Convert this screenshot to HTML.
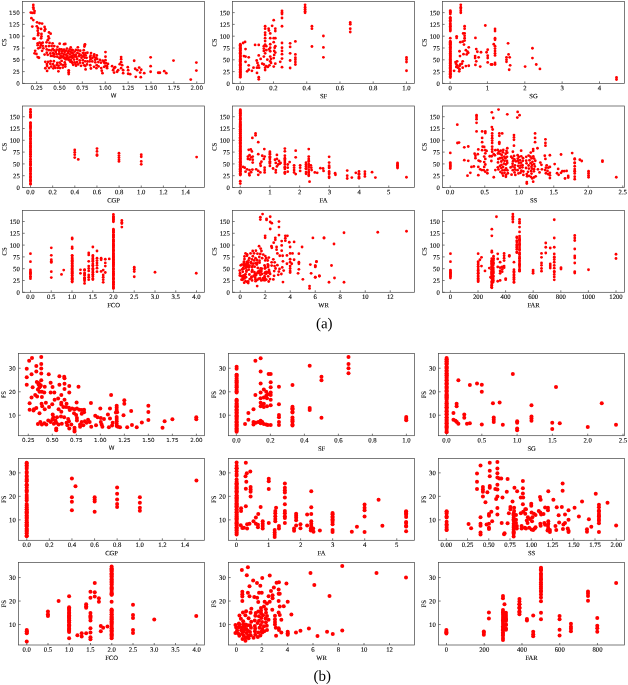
<!DOCTYPE html>
<html><head><meta charset="utf-8"><title>Scatter plots</title>
<style>html,body{margin:0;padding:0;background:#fff}svg{display:block}</style></head>
<body>
<svg width="628" height="685" viewBox="0 0 628 685">
<rect width="628" height="685" fill="#fff"/>
<g fill="#ff0000">
<circle cx="33.30" cy="5.02" r="1.40"/>
<circle cx="33.30" cy="7.28" r="1.40"/>
<circle cx="33.55" cy="9.04" r="1.40"/>
<circle cx="34.55" cy="11.05" r="1.40"/>
<circle cx="30.79" cy="12.55" r="1.40"/>
<circle cx="32.30" cy="12.93" r="1.40"/>
<circle cx="34.30" cy="12.93" r="1.40"/>
<circle cx="31.42" cy="18.20" r="1.40"/>
<circle cx="33.30" cy="20.09" r="1.40"/>
<circle cx="32.30" cy="26.62" r="1.40"/>
<circle cx="37.07" cy="22.35" r="1.40"/>
<circle cx="39.58" cy="23.23" r="1.40"/>
<circle cx="42.09" cy="23.60" r="1.40"/>
<circle cx="36.81" cy="26.37" r="1.40"/>
<circle cx="38.07" cy="28.25" r="1.40"/>
<circle cx="37.69" cy="30.76" r="1.40"/>
<circle cx="38.32" cy="33.27" r="1.40"/>
<circle cx="38.07" cy="35.15" r="1.40"/>
<circle cx="44.60" cy="26.99" r="1.40"/>
<circle cx="45.23" cy="29.13" r="1.40"/>
<circle cx="44.60" cy="30.76" r="1.40"/>
<circle cx="41.08" cy="28.88" r="1.40"/>
<circle cx="41.46" cy="33.90" r="1.40"/>
<circle cx="41.46" cy="36.41" r="1.40"/>
<circle cx="41.08" cy="38.29" r="1.40"/>
<circle cx="48.99" cy="32.39" r="1.40"/>
<circle cx="50.63" cy="33.65" r="1.40"/>
<circle cx="48.37" cy="36.41" r="1.40"/>
<circle cx="48.99" cy="38.29" r="1.40"/>
<circle cx="47.74" cy="40.18" r="1.40"/>
<circle cx="33.55" cy="38.67" r="1.40"/>
<circle cx="34.55" cy="38.67" r="1.40"/>
<circle cx="37.69" cy="43.31" r="1.40"/>
<circle cx="37.69" cy="45.20" r="1.40"/>
<circle cx="39.58" cy="42.69" r="1.40"/>
<circle cx="41.46" cy="43.31" r="1.40"/>
<circle cx="42.72" cy="42.69" r="1.40"/>
<circle cx="40.83" cy="45.20" r="1.40"/>
<circle cx="42.72" cy="45.83" r="1.40"/>
<circle cx="38.32" cy="48.34" r="1.40"/>
<circle cx="40.20" cy="47.46" r="1.40"/>
<circle cx="43.34" cy="48.34" r="1.40"/>
<circle cx="42.09" cy="50.85" r="1.40"/>
<circle cx="44.60" cy="54.61" r="1.40"/>
<circle cx="35.18" cy="50.85" r="1.40"/>
<circle cx="34.55" cy="53.36" r="1.40"/>
<circle cx="36.44" cy="53.99" r="1.40"/>
<circle cx="37.69" cy="57.12" r="1.40"/>
<circle cx="38.95" cy="57.75" r="1.40"/>
<circle cx="59.66" cy="43.69" r="1.40"/>
<circle cx="64.06" cy="44.19" r="1.40"/>
<circle cx="65.31" cy="43.94" r="1.40"/>
<circle cx="70.71" cy="47.46" r="1.40"/>
<circle cx="77.87" cy="47.33" r="1.40"/>
<circle cx="84.77" cy="44.95" r="1.40"/>
<circle cx="48.92" cy="50.14" r="1.40"/>
<circle cx="52.77" cy="48.78" r="1.40"/>
<circle cx="46.73" cy="49.45" r="1.40"/>
<circle cx="50.37" cy="53.51" r="1.40"/>
<circle cx="45.99" cy="46.44" r="1.40"/>
<circle cx="53.24" cy="55.99" r="1.40"/>
<circle cx="46.51" cy="42.28" r="1.40"/>
<circle cx="49.54" cy="42.92" r="1.40"/>
<circle cx="48.96" cy="46.08" r="1.40"/>
<circle cx="51.58" cy="45.95" r="1.40"/>
<circle cx="53.09" cy="53.00" r="1.40"/>
<circle cx="46.78" cy="52.63" r="1.40"/>
<circle cx="47.71" cy="54.83" r="1.40"/>
<circle cx="50.95" cy="55.96" r="1.40"/>
<circle cx="51.23" cy="50.45" r="1.40"/>
<circle cx="52.62" cy="43.32" r="1.40"/>
<circle cx="59.24" cy="54.10" r="1.40"/>
<circle cx="54.20" cy="50.32" r="1.40"/>
<circle cx="57.31" cy="56.74" r="1.40"/>
<circle cx="55.75" cy="51.94" r="1.40"/>
<circle cx="59.31" cy="50.46" r="1.40"/>
<circle cx="57.48" cy="46.82" r="1.40"/>
<circle cx="54.73" cy="56.60" r="1.40"/>
<circle cx="59.54" cy="57.69" r="1.40"/>
<circle cx="54.27" cy="46.03" r="1.40"/>
<circle cx="56.63" cy="54.12" r="1.40"/>
<circle cx="56.77" cy="49.76" r="1.40"/>
<circle cx="54.05" cy="54.22" r="1.40"/>
<circle cx="60.66" cy="55.71" r="1.40"/>
<circle cx="62.34" cy="51.19" r="1.40"/>
<circle cx="66.03" cy="54.64" r="1.40"/>
<circle cx="63.99" cy="54.31" r="1.40"/>
<circle cx="66.02" cy="50.64" r="1.40"/>
<circle cx="61.73" cy="57.45" r="1.40"/>
<circle cx="67.45" cy="55.98" r="1.40"/>
<circle cx="70.26" cy="57.17" r="1.40"/>
<circle cx="70.33" cy="51.70" r="1.40"/>
<circle cx="68.80" cy="60.04" r="1.40"/>
<circle cx="70.01" cy="54.42" r="1.40"/>
<circle cx="64.35" cy="58.23" r="1.40"/>
<circle cx="59.27" cy="51.24" r="1.40"/>
<circle cx="71.80" cy="50.00" r="1.40"/>
<circle cx="61.53" cy="49.36" r="1.40"/>
<circle cx="66.96" cy="48.53" r="1.40"/>
<circle cx="70.81" cy="59.91" r="1.40"/>
<circle cx="59.18" cy="53.47" r="1.40"/>
<circle cx="67.82" cy="53.21" r="1.40"/>
<circle cx="72.22" cy="57.61" r="1.40"/>
<circle cx="67.15" cy="59.00" r="1.40"/>
<circle cx="63.99" cy="49.76" r="1.40"/>
<circle cx="69.71" cy="49.44" r="1.40"/>
<circle cx="72.07" cy="61.97" r="1.40"/>
<circle cx="59.56" cy="49.21" r="1.40"/>
<circle cx="61.81" cy="53.30" r="1.40"/>
<circle cx="64.63" cy="52.06" r="1.40"/>
<circle cx="63.33" cy="56.26" r="1.40"/>
<circle cx="59.72" cy="58.37" r="1.40"/>
<circle cx="68.40" cy="51.17" r="1.40"/>
<circle cx="68.60" cy="57.95" r="1.40"/>
<circle cx="71.90" cy="52.64" r="1.40"/>
<circle cx="66.26" cy="57.35" r="1.40"/>
<circle cx="71.83" cy="55.92" r="1.40"/>
<circle cx="70.36" cy="61.84" r="1.40"/>
<circle cx="65.62" cy="59.39" r="1.40"/>
<circle cx="79.31" cy="53.79" r="1.40"/>
<circle cx="74.60" cy="62.33" r="1.40"/>
<circle cx="73.20" cy="64.79" r="1.40"/>
<circle cx="72.64" cy="52.92" r="1.40"/>
<circle cx="78.09" cy="64.43" r="1.40"/>
<circle cx="80.00" cy="62.70" r="1.40"/>
<circle cx="72.69" cy="50.09" r="1.40"/>
<circle cx="83.23" cy="56.29" r="1.40"/>
<circle cx="82.85" cy="60.17" r="1.40"/>
<circle cx="83.72" cy="50.25" r="1.40"/>
<circle cx="73.63" cy="54.63" r="1.40"/>
<circle cx="74.62" cy="51.56" r="1.40"/>
<circle cx="78.94" cy="56.19" r="1.40"/>
<circle cx="74.10" cy="59.58" r="1.40"/>
<circle cx="78.17" cy="50.29" r="1.40"/>
<circle cx="77.14" cy="59.12" r="1.40"/>
<circle cx="77.03" cy="62.04" r="1.40"/>
<circle cx="75.79" cy="54.74" r="1.40"/>
<circle cx="81.00" cy="65.85" r="1.40"/>
<circle cx="74.55" cy="56.51" r="1.40"/>
<circle cx="82.93" cy="63.05" r="1.40"/>
<circle cx="84.26" cy="65.37" r="1.40"/>
<circle cx="82.88" cy="53.08" r="1.40"/>
<circle cx="80.23" cy="50.74" r="1.40"/>
<circle cx="81.53" cy="57.73" r="1.40"/>
<circle cx="77.42" cy="52.81" r="1.40"/>
<circle cx="72.67" cy="57.67" r="1.40"/>
<circle cx="76.00" cy="65.71" r="1.40"/>
<circle cx="76.45" cy="56.98" r="1.40"/>
<circle cx="79.73" cy="60.37" r="1.40"/>
<circle cx="81.15" cy="55.33" r="1.40"/>
<circle cx="72.41" cy="63.04" r="1.40"/>
<circle cx="75.87" cy="49.89" r="1.40"/>
<circle cx="84.66" cy="57.72" r="1.40"/>
<circle cx="84.22" cy="54.80" r="1.40"/>
<circle cx="75.52" cy="64.05" r="1.40"/>
<circle cx="50.28" cy="63.85" r="1.40"/>
<circle cx="61.64" cy="60.92" r="1.40"/>
<circle cx="56.70" cy="64.93" r="1.40"/>
<circle cx="60.03" cy="68.03" r="1.40"/>
<circle cx="59.61" cy="62.58" r="1.40"/>
<circle cx="47.08" cy="66.12" r="1.40"/>
<circle cx="53.86" cy="61.27" r="1.40"/>
<circle cx="62.82" cy="67.53" r="1.40"/>
<circle cx="53.30" cy="68.31" r="1.40"/>
<circle cx="64.74" cy="62.46" r="1.40"/>
<circle cx="45.31" cy="61.84" r="1.40"/>
<circle cx="48.06" cy="61.90" r="1.40"/>
<circle cx="55.34" cy="67.76" r="1.40"/>
<circle cx="61.06" cy="64.46" r="1.40"/>
<circle cx="65.30" cy="66.59" r="1.40"/>
<circle cx="46.89" cy="64.04" r="1.40"/>
<circle cx="63.19" cy="65.06" r="1.40"/>
<circle cx="58.61" cy="65.66" r="1.40"/>
<circle cx="50.60" cy="61.24" r="1.40"/>
<circle cx="51.22" cy="66.61" r="1.40"/>
<circle cx="57.29" cy="62.83" r="1.40"/>
<circle cx="57.73" cy="67.94" r="1.40"/>
<circle cx="52.94" cy="64.15" r="1.40"/>
<circle cx="49.06" cy="68.08" r="1.40"/>
<circle cx="65.32" cy="64.51" r="1.40"/>
<circle cx="45.35" cy="68.25" r="1.40"/>
<circle cx="54.27" cy="66.04" r="1.40"/>
<circle cx="47.11" cy="70.94" r="1.40"/>
<circle cx="58.41" cy="71.31" r="1.40"/>
<circle cx="68.70" cy="70.31" r="1.40"/>
<circle cx="68.70" cy="72.19" r="1.40"/>
<circle cx="68.70" cy="74.07" r="1.40"/>
<circle cx="90.92" cy="68.50" r="1.40"/>
<circle cx="95.13" cy="59.75" r="1.40"/>
<circle cx="98.34" cy="62.07" r="1.40"/>
<circle cx="106.94" cy="66.26" r="1.40"/>
<circle cx="85.37" cy="53.11" r="1.40"/>
<circle cx="85.69" cy="55.46" r="1.40"/>
<circle cx="96.44" cy="68.19" r="1.40"/>
<circle cx="92.29" cy="61.46" r="1.40"/>
<circle cx="104.74" cy="63.36" r="1.40"/>
<circle cx="90.55" cy="59.20" r="1.40"/>
<circle cx="89.64" cy="61.47" r="1.40"/>
<circle cx="90.59" cy="55.67" r="1.40"/>
<circle cx="96.68" cy="65.21" r="1.40"/>
<circle cx="90.26" cy="65.23" r="1.40"/>
<circle cx="98.54" cy="66.41" r="1.40"/>
<circle cx="96.78" cy="55.49" r="1.40"/>
<circle cx="86.98" cy="64.40" r="1.40"/>
<circle cx="87.39" cy="52.77" r="1.40"/>
<circle cx="102.72" cy="60.61" r="1.40"/>
<circle cx="107.97" cy="63.96" r="1.40"/>
<circle cx="95.28" cy="62.36" r="1.40"/>
<circle cx="101.23" cy="68.08" r="1.40"/>
<circle cx="94.23" cy="54.47" r="1.40"/>
<circle cx="97.13" cy="58.90" r="1.40"/>
<circle cx="94.04" cy="66.83" r="1.40"/>
<circle cx="85.17" cy="61.28" r="1.40"/>
<circle cx="94.32" cy="56.83" r="1.40"/>
<circle cx="87.44" cy="61.48" r="1.40"/>
<circle cx="85.59" cy="69.40" r="1.40"/>
<circle cx="85.31" cy="66.09" r="1.40"/>
<circle cx="99.91" cy="59.94" r="1.40"/>
<circle cx="104.12" cy="66.82" r="1.40"/>
<circle cx="100.94" cy="62.63" r="1.40"/>
<circle cx="92.37" cy="58.08" r="1.40"/>
<circle cx="101.75" cy="70.63" r="1.40"/>
<circle cx="86.59" cy="57.79" r="1.40"/>
<circle cx="85.02" cy="44.48" r="1.40"/>
<circle cx="84.41" cy="46.48" r="1.40"/>
<circle cx="105.48" cy="52.10" r="1.40"/>
<circle cx="105.48" cy="56.72" r="1.40"/>
<circle cx="105.48" cy="60.13" r="1.40"/>
<circle cx="104.08" cy="62.13" r="1.40"/>
<circle cx="106.08" cy="63.14" r="1.40"/>
<circle cx="105.48" cy="66.15" r="1.40"/>
<circle cx="107.09" cy="68.15" r="1.40"/>
<circle cx="102.47" cy="73.17" r="1.40"/>
<circle cx="91.04" cy="53.11" r="1.40"/>
<circle cx="93.64" cy="56.12" r="1.40"/>
<circle cx="96.05" cy="58.12" r="1.40"/>
<circle cx="90.03" cy="57.12" r="1.40"/>
<circle cx="121.13" cy="57.12" r="1.40"/>
<circle cx="121.13" cy="59.13" r="1.40"/>
<circle cx="121.13" cy="62.13" r="1.40"/>
<circle cx="119.73" cy="64.14" r="1.40"/>
<circle cx="122.13" cy="65.14" r="1.40"/>
<circle cx="121.13" cy="68.15" r="1.40"/>
<circle cx="123.14" cy="70.16" r="1.40"/>
<circle cx="123.14" cy="73.17" r="1.40"/>
<circle cx="112.10" cy="66.15" r="1.40"/>
<circle cx="114.11" cy="68.15" r="1.40"/>
<circle cx="115.11" cy="67.15" r="1.40"/>
<circle cx="113.11" cy="70.16" r="1.40"/>
<circle cx="114.11" cy="72.57" r="1.40"/>
<circle cx="117.12" cy="71.77" r="1.40"/>
<circle cx="118.12" cy="70.16" r="1.40"/>
<circle cx="127.75" cy="67.15" r="1.40"/>
<circle cx="128.15" cy="70.16" r="1.40"/>
<circle cx="128.15" cy="73.77" r="1.40"/>
<circle cx="130.16" cy="74.17" r="1.40"/>
<circle cx="134.17" cy="60.73" r="1.40"/>
<circle cx="135.18" cy="68.76" r="1.40"/>
<circle cx="137.18" cy="70.16" r="1.40"/>
<circle cx="139.19" cy="67.55" r="1.40"/>
<circle cx="140.19" cy="72.57" r="1.40"/>
<circle cx="141.20" cy="69.76" r="1.40"/>
<circle cx="144.21" cy="73.17" r="1.40"/>
<circle cx="135.78" cy="76.78" r="1.40"/>
<circle cx="140.79" cy="77.18" r="1.40"/>
<circle cx="150.63" cy="57.32" r="1.40"/>
<circle cx="150.63" cy="66.15" r="1.40"/>
<circle cx="150.63" cy="71.77" r="1.40"/>
<circle cx="158.25" cy="72.77" r="1.40"/>
<circle cx="159.86" cy="72.77" r="1.40"/>
<circle cx="164.27" cy="71.16" r="1.40"/>
<circle cx="166.28" cy="73.17" r="1.40"/>
<circle cx="173.50" cy="60.53" r="1.40"/>
<circle cx="196.37" cy="62.54" r="1.40"/>
<circle cx="196.37" cy="70.56" r="1.40"/>
<circle cx="190.75" cy="79.59" r="1.40"/>
</g>
<path d="M36.62 83.40v-2.0M59.50 83.40v-2.0M82.38 83.40v-2.0M105.25 83.40v-2.0M128.12 83.40v-2.0M151.00 83.40v-2.0M173.88 83.40v-2.0M196.75 83.40v-2.0M22.60 83.40h2.1M22.60 71.60h2.1M22.60 59.80h2.1M22.60 48.00h2.1M22.60 36.20h2.1M22.60 24.40h2.1M22.60 12.60h2.1" stroke="#444" stroke-width="0.7" fill="none"/>
<rect x="22.60" y="1.60" width="182.00" height="81.80" fill="none" stroke="#444" stroke-width="0.7"/>
<g font-family="DejaVu Sans, Liberation Sans, sans-serif" font-size="5.60" fill="#000" stroke="#000" stroke-width="0.06">
<text x="36.62" y="89.76" transform="rotate(0.05 36.62 89.76)" text-anchor="middle">0.25</text>
<text x="59.50" y="89.76" transform="rotate(0.05 59.50 89.76)" text-anchor="middle">0.50</text>
<text x="82.38" y="89.76" transform="rotate(0.05 82.38 89.76)" text-anchor="middle">0.75</text>
<text x="105.25" y="89.76" transform="rotate(0.05 105.25 89.76)" text-anchor="middle">1.00</text>
<text x="128.12" y="89.76" transform="rotate(0.05 128.12 89.76)" text-anchor="middle">1.25</text>
<text x="151.00" y="89.76" transform="rotate(0.05 151.00 89.76)" text-anchor="middle">1.50</text>
<text x="173.88" y="89.76" transform="rotate(0.05 173.88 89.76)" text-anchor="middle">1.75</text>
<text x="196.75" y="89.76" transform="rotate(0.05 196.75 89.76)" text-anchor="middle">2.00</text>
<text x="19.80" y="85.56" transform="rotate(0.05 19.80 85.56)" text-anchor="end">0</text>
<text x="19.80" y="73.76" transform="rotate(0.05 19.80 73.76)" text-anchor="end">25</text>
<text x="19.80" y="61.96" transform="rotate(0.05 19.80 61.96)" text-anchor="end">50</text>
<text x="19.80" y="50.16" transform="rotate(0.05 19.80 50.16)" text-anchor="end">75</text>
<text x="19.80" y="38.36" transform="rotate(0.05 19.80 38.36)" text-anchor="end">100</text>
<text x="19.80" y="26.56" transform="rotate(0.05 19.80 26.56)" text-anchor="end">125</text>
<text x="19.80" y="14.76" transform="rotate(0.05 19.80 14.76)" text-anchor="end">150</text>
</g>
<g font-family="DejaVu Sans, Liberation Sans, sans-serif" font-size="5.80" fill="#000" stroke="#000" stroke-width="0.06">
<text x="113.60" y="97.43" transform="rotate(0.05 113.60 97.43)" text-anchor="middle">W</text>
<text transform="translate(4.30 42.50) rotate(-89.95)" text-anchor="middle" y="2.03">CS</text>
</g>
<g fill="#ff0000">
<circle cx="240.28" cy="44.17" r="1.40"/>
<circle cx="240.28" cy="45.14" r="1.40"/>
<circle cx="240.28" cy="45.41" r="1.40"/>
<circle cx="240.28" cy="46.43" r="1.40"/>
<circle cx="240.28" cy="47.58" r="1.40"/>
<circle cx="240.28" cy="48.28" r="1.40"/>
<circle cx="240.28" cy="48.75" r="1.40"/>
<circle cx="240.28" cy="49.57" r="1.40"/>
<circle cx="240.28" cy="50.30" r="1.40"/>
<circle cx="240.28" cy="51.12" r="1.40"/>
<circle cx="240.28" cy="52.14" r="1.40"/>
<circle cx="240.28" cy="53.35" r="1.40"/>
<circle cx="240.28" cy="53.53" r="1.40"/>
<circle cx="240.28" cy="54.70" r="1.40"/>
<circle cx="240.28" cy="55.89" r="1.40"/>
<circle cx="240.28" cy="55.99" r="1.40"/>
<circle cx="240.28" cy="56.82" r="1.40"/>
<circle cx="240.28" cy="58.02" r="1.40"/>
<circle cx="240.28" cy="58.89" r="1.40"/>
<circle cx="240.28" cy="59.27" r="1.40"/>
<circle cx="240.28" cy="60.26" r="1.40"/>
<circle cx="240.28" cy="61.23" r="1.40"/>
<circle cx="240.28" cy="61.87" r="1.40"/>
<circle cx="240.28" cy="62.95" r="1.40"/>
<circle cx="240.28" cy="63.96" r="1.40"/>
<circle cx="240.28" cy="64.27" r="1.40"/>
<circle cx="240.28" cy="65.34" r="1.40"/>
<circle cx="240.28" cy="65.69" r="1.40"/>
<circle cx="240.28" cy="66.69" r="1.40"/>
<circle cx="240.28" cy="67.86" r="1.40"/>
<circle cx="240.28" cy="68.04" r="1.40"/>
<circle cx="240.28" cy="69.17" r="1.40"/>
<circle cx="240.28" cy="69.81" r="1.40"/>
<circle cx="240.28" cy="70.75" r="1.40"/>
<circle cx="240.28" cy="71.33" r="1.40"/>
<circle cx="240.28" cy="72.20" r="1.40"/>
<circle cx="240.28" cy="72.89" r="1.40"/>
<circle cx="240.28" cy="73.95" r="1.40"/>
<circle cx="240.28" cy="74.52" r="1.40"/>
<circle cx="240.28" cy="75.45" r="1.40"/>
<circle cx="240.28" cy="76.48" r="1.40"/>
<circle cx="240.28" cy="77.29" r="1.40"/>
<circle cx="243.15" cy="42.99" r="1.40"/>
<circle cx="245.06" cy="41.88" r="1.40"/>
<circle cx="245.54" cy="49.04" r="1.40"/>
<circle cx="243.94" cy="56.05" r="1.40"/>
<circle cx="245.54" cy="56.53" r="1.40"/>
<circle cx="248.72" cy="57.32" r="1.40"/>
<circle cx="245.54" cy="61.78" r="1.40"/>
<circle cx="248.72" cy="65.29" r="1.40"/>
<circle cx="248.72" cy="69.75" r="1.40"/>
<circle cx="247.13" cy="71.34" r="1.40"/>
<circle cx="251.90" cy="70.86" r="1.40"/>
<circle cx="253.50" cy="67.68" r="1.40"/>
<circle cx="255.09" cy="44.90" r="1.40"/>
<circle cx="258.75" cy="44.90" r="1.40"/>
<circle cx="258.75" cy="55.41" r="1.40"/>
<circle cx="256.68" cy="60.51" r="1.40"/>
<circle cx="257.48" cy="62.90" r="1.40"/>
<circle cx="260.66" cy="58.92" r="1.40"/>
<circle cx="258.27" cy="65.29" r="1.40"/>
<circle cx="257.00" cy="67.68" r="1.40"/>
<circle cx="259.07" cy="67.68" r="1.40"/>
<circle cx="257.00" cy="72.93" r="1.40"/>
<circle cx="258.75" cy="77.23" r="1.40"/>
<circle cx="258.75" cy="79.30" r="1.40"/>
<circle cx="265.12" cy="26.27" r="1.40"/>
<circle cx="265.12" cy="28.66" r="1.40"/>
<circle cx="265.12" cy="32.64" r="1.40"/>
<circle cx="265.12" cy="35.03" r="1.40"/>
<circle cx="265.12" cy="38.22" r="1.40"/>
<circle cx="265.12" cy="41.08" r="1.40"/>
<circle cx="265.12" cy="44.59" r="1.40"/>
<circle cx="263.85" cy="46.18" r="1.40"/>
<circle cx="266.24" cy="46.18" r="1.40"/>
<circle cx="263.85" cy="48.57" r="1.40"/>
<circle cx="263.85" cy="50.96" r="1.40"/>
<circle cx="266.24" cy="50.16" r="1.40"/>
<circle cx="265.12" cy="53.34" r="1.40"/>
<circle cx="263.85" cy="56.53" r="1.40"/>
<circle cx="262.25" cy="63.69" r="1.40"/>
<circle cx="263.85" cy="64.49" r="1.40"/>
<circle cx="265.12" cy="67.68" r="1.40"/>
<circle cx="265.12" cy="70.06" r="1.40"/>
<circle cx="266.24" cy="66.08" r="1.40"/>
<circle cx="268.62" cy="28.66" r="1.40"/>
<circle cx="268.94" cy="30.57" r="1.40"/>
<circle cx="270.22" cy="33.44" r="1.40"/>
<circle cx="270.22" cy="38.22" r="1.40"/>
<circle cx="270.22" cy="44.27" r="1.40"/>
<circle cx="270.22" cy="47.77" r="1.40"/>
<circle cx="268.94" cy="49.36" r="1.40"/>
<circle cx="270.22" cy="51.27" r="1.40"/>
<circle cx="270.22" cy="56.53" r="1.40"/>
<circle cx="267.35" cy="59.71" r="1.40"/>
<circle cx="270.22" cy="61.31" r="1.40"/>
<circle cx="271.01" cy="62.90" r="1.40"/>
<circle cx="269.42" cy="65.29" r="1.40"/>
<circle cx="267.83" cy="66.88" r="1.40"/>
<circle cx="273.72" cy="20.22" r="1.40"/>
<circle cx="272.13" cy="25.80" r="1.40"/>
<circle cx="275.31" cy="28.66" r="1.40"/>
<circle cx="275.31" cy="31.05" r="1.40"/>
<circle cx="273.72" cy="38.22" r="1.40"/>
<circle cx="275.31" cy="38.22" r="1.40"/>
<circle cx="273.72" cy="42.20" r="1.40"/>
<circle cx="275.31" cy="46.18" r="1.40"/>
<circle cx="274.68" cy="47.77" r="1.40"/>
<circle cx="274.20" cy="50.96" r="1.40"/>
<circle cx="275.31" cy="52.55" r="1.40"/>
<circle cx="274.20" cy="54.94" r="1.40"/>
<circle cx="273.72" cy="58.12" r="1.40"/>
<circle cx="275.31" cy="63.69" r="1.40"/>
<circle cx="273.72" cy="66.56" r="1.40"/>
<circle cx="271.01" cy="58.92" r="1.40"/>
<circle cx="282.00" cy="10.83" r="1.40"/>
<circle cx="282.00" cy="12.42" r="1.40"/>
<circle cx="282.00" cy="14.01" r="1.40"/>
<circle cx="282.00" cy="17.99" r="1.40"/>
<circle cx="282.00" cy="26.27" r="1.40"/>
<circle cx="282.00" cy="42.99" r="1.40"/>
<circle cx="282.00" cy="47.77" r="1.40"/>
<circle cx="282.00" cy="50.96" r="1.40"/>
<circle cx="282.00" cy="54.14" r="1.40"/>
<circle cx="282.00" cy="58.60" r="1.40"/>
<circle cx="280.25" cy="61.78" r="1.40"/>
<circle cx="282.00" cy="67.20" r="1.40"/>
<circle cx="290.12" cy="43.31" r="1.40"/>
<circle cx="290.12" cy="46.97" r="1.40"/>
<circle cx="290.12" cy="53.34" r="1.40"/>
<circle cx="290.12" cy="60.51" r="1.40"/>
<circle cx="290.12" cy="67.99" r="1.40"/>
<circle cx="295.38" cy="41.40" r="1.40"/>
<circle cx="295.38" cy="54.46" r="1.40"/>
<circle cx="295.38" cy="57.64" r="1.40"/>
<circle cx="295.38" cy="59.71" r="1.40"/>
<circle cx="295.38" cy="62.10" r="1.40"/>
<circle cx="295.38" cy="64.49" r="1.40"/>
<circle cx="305.09" cy="4.78" r="1.40"/>
<circle cx="305.09" cy="7.17" r="1.40"/>
<circle cx="305.09" cy="9.24" r="1.40"/>
<circle cx="305.09" cy="11.15" r="1.40"/>
<circle cx="305.09" cy="12.74" r="1.40"/>
<circle cx="311.94" cy="26.27" r="1.40"/>
<circle cx="311.94" cy="28.66" r="1.40"/>
<circle cx="311.94" cy="46.50" r="1.40"/>
<circle cx="323.40" cy="35.99" r="1.40"/>
<circle cx="323.40" cy="47.45" r="1.40"/>
<circle cx="323.40" cy="57.32" r="1.40"/>
<circle cx="350.25" cy="22.50" r="1.40"/>
<circle cx="350.25" cy="24.25" r="1.40"/>
<circle cx="350.25" cy="28.75" r="1.40"/>
<circle cx="350.25" cy="32.00" r="1.40"/>
<circle cx="406.50" cy="57.50" r="1.40"/>
<circle cx="406.50" cy="59.50" r="1.40"/>
<circle cx="406.50" cy="62.00" r="1.40"/>
<circle cx="406.50" cy="70.75" r="1.40"/>
</g>
<path d="M240.25 83.40v-2.0M273.49 83.40v-2.0M306.73 83.40v-2.0M339.97 83.40v-2.0M373.21 83.40v-2.0M406.45 83.40v-2.0M232.60 83.40h2.1M232.60 71.60h2.1M232.60 59.80h2.1M232.60 48.00h2.1M232.60 36.20h2.1M232.60 24.40h2.1M232.60 12.60h2.1" stroke="#444" stroke-width="0.7" fill="none"/>
<rect x="232.60" y="1.60" width="182.00" height="81.80" fill="none" stroke="#444" stroke-width="0.7"/>
<g font-family="Liberation Serif, serif" font-size="6.70" fill="#000" stroke="#000" stroke-width="0.1">
<text x="240.25" y="90.15" transform="rotate(0.05 240.25 90.15)" text-anchor="middle">0.0</text>
<text x="273.49" y="90.15" transform="rotate(0.05 273.49 90.15)" text-anchor="middle">0.2</text>
<text x="306.73" y="90.15" transform="rotate(0.05 306.73 90.15)" text-anchor="middle">0.4</text>
<text x="339.97" y="90.15" transform="rotate(0.05 339.97 90.15)" text-anchor="middle">0.6</text>
<text x="373.21" y="90.15" transform="rotate(0.05 373.21 90.15)" text-anchor="middle">0.8</text>
<text x="406.45" y="90.15" transform="rotate(0.05 406.45 90.15)" text-anchor="middle">1.0</text>
<text x="229.80" y="85.95" transform="rotate(0.05 229.80 85.95)" text-anchor="end">0</text>
<text x="229.80" y="74.15" transform="rotate(0.05 229.80 74.15)" text-anchor="end">25</text>
<text x="229.80" y="62.35" transform="rotate(0.05 229.80 62.35)" text-anchor="end">50</text>
<text x="229.80" y="50.55" transform="rotate(0.05 229.80 50.55)" text-anchor="end">75</text>
<text x="229.80" y="38.75" transform="rotate(0.05 229.80 38.75)" text-anchor="end">100</text>
<text x="229.80" y="26.95" transform="rotate(0.05 229.80 26.95)" text-anchor="end">125</text>
<text x="229.80" y="15.15" transform="rotate(0.05 229.80 15.15)" text-anchor="end">150</text>
</g>
<g font-family="Liberation Serif, serif" font-size="6.60" fill="#000" stroke="#000" stroke-width="0.1">
<text x="323.60" y="98.36" transform="rotate(0.05 323.60 98.36)" text-anchor="middle">SF</text>
<text transform="translate(214.30 42.50) rotate(-89.95)" text-anchor="middle" y="2.31">CS</text>
</g>
<g fill="#ff0000">
<circle cx="450.28" cy="10.56" r="1.40"/>
<circle cx="450.28" cy="11.69" r="1.40"/>
<circle cx="450.28" cy="12.09" r="1.40"/>
<circle cx="450.28" cy="12.86" r="1.40"/>
<circle cx="450.28" cy="14.12" r="1.40"/>
<circle cx="450.28" cy="17.34" r="1.40"/>
<circle cx="450.28" cy="18.23" r="1.40"/>
<circle cx="450.28" cy="20.02" r="1.40"/>
<circle cx="450.28" cy="20.23" r="1.40"/>
<circle cx="450.28" cy="21.55" r="1.40"/>
<circle cx="450.28" cy="23.48" r="1.40"/>
<circle cx="450.28" cy="24.66" r="1.40"/>
<circle cx="450.28" cy="25.97" r="1.40"/>
<circle cx="450.28" cy="26.33" r="1.40"/>
<circle cx="450.28" cy="27.76" r="1.40"/>
<circle cx="450.28" cy="29.01" r="1.40"/>
<circle cx="450.28" cy="29.94" r="1.40"/>
<circle cx="450.28" cy="31.05" r="1.40"/>
<circle cx="450.28" cy="38.22" r="1.40"/>
<circle cx="450.28" cy="41.27" r="1.40"/>
<circle cx="450.28" cy="42.21" r="1.40"/>
<circle cx="450.28" cy="42.67" r="1.40"/>
<circle cx="450.28" cy="43.13" r="1.40"/>
<circle cx="450.28" cy="44.19" r="1.40"/>
<circle cx="450.28" cy="44.80" r="1.40"/>
<circle cx="450.28" cy="45.65" r="1.40"/>
<circle cx="450.28" cy="46.74" r="1.40"/>
<circle cx="450.28" cy="47.16" r="1.40"/>
<circle cx="450.28" cy="48.05" r="1.40"/>
<circle cx="450.28" cy="48.83" r="1.40"/>
<circle cx="450.28" cy="49.54" r="1.40"/>
<circle cx="450.28" cy="51.05" r="1.40"/>
<circle cx="450.28" cy="51.67" r="1.40"/>
<circle cx="450.28" cy="51.93" r="1.40"/>
<circle cx="450.28" cy="53.35" r="1.40"/>
<circle cx="450.28" cy="54.03" r="1.40"/>
<circle cx="450.28" cy="54.65" r="1.40"/>
<circle cx="450.28" cy="55.84" r="1.40"/>
<circle cx="450.28" cy="56.09" r="1.40"/>
<circle cx="450.28" cy="57.04" r="1.40"/>
<circle cx="450.28" cy="57.65" r="1.40"/>
<circle cx="450.28" cy="58.84" r="1.40"/>
<circle cx="450.28" cy="59.33" r="1.40"/>
<circle cx="450.28" cy="60.43" r="1.40"/>
<circle cx="450.28" cy="61.06" r="1.40"/>
<circle cx="450.28" cy="61.85" r="1.40"/>
<circle cx="450.28" cy="62.51" r="1.40"/>
<circle cx="450.28" cy="63.28" r="1.40"/>
<circle cx="450.28" cy="64.05" r="1.40"/>
<circle cx="450.28" cy="65.25" r="1.40"/>
<circle cx="450.28" cy="65.64" r="1.40"/>
<circle cx="450.28" cy="66.69" r="1.40"/>
<circle cx="450.28" cy="67.22" r="1.40"/>
<circle cx="450.28" cy="68.13" r="1.40"/>
<circle cx="450.28" cy="69.05" r="1.40"/>
<circle cx="450.28" cy="69.70" r="1.40"/>
<circle cx="450.28" cy="70.74" r="1.40"/>
<circle cx="450.28" cy="71.26" r="1.40"/>
<circle cx="450.28" cy="72.46" r="1.40"/>
<circle cx="450.28" cy="73.28" r="1.40"/>
<circle cx="450.28" cy="74.21" r="1.40"/>
<circle cx="450.28" cy="74.51" r="1.40"/>
<circle cx="450.28" cy="76.02" r="1.40"/>
<circle cx="450.28" cy="76.30" r="1.40"/>
<circle cx="450.28" cy="77.59" r="1.40"/>
<circle cx="460.79" cy="4.78" r="1.40"/>
<circle cx="460.79" cy="7.17" r="1.40"/>
<circle cx="460.79" cy="8.76" r="1.40"/>
<circle cx="460.79" cy="10.83" r="1.40"/>
<circle cx="460.79" cy="12.74" r="1.40"/>
<circle cx="464.61" cy="26.27" r="1.40"/>
<circle cx="464.61" cy="28.66" r="1.40"/>
<circle cx="463.18" cy="33.44" r="1.40"/>
<circle cx="464.61" cy="33.44" r="1.40"/>
<circle cx="464.61" cy="35.83" r="1.40"/>
<circle cx="464.61" cy="38.22" r="1.40"/>
<circle cx="464.61" cy="40.61" r="1.40"/>
<circle cx="462.70" cy="41.72" r="1.40"/>
<circle cx="460.31" cy="42.20" r="1.40"/>
<circle cx="463.97" cy="44.59" r="1.40"/>
<circle cx="456.65" cy="36.31" r="1.40"/>
<circle cx="456.65" cy="37.90" r="1.40"/>
<circle cx="468.75" cy="47.29" r="1.40"/>
<circle cx="465.89" cy="50.16" r="1.40"/>
<circle cx="467.48" cy="51.75" r="1.40"/>
<circle cx="468.27" cy="52.87" r="1.40"/>
<circle cx="466.68" cy="54.46" r="1.40"/>
<circle cx="463.50" cy="54.14" r="1.40"/>
<circle cx="459.52" cy="51.27" r="1.40"/>
<circle cx="459.99" cy="56.05" r="1.40"/>
<circle cx="455.54" cy="62.10" r="1.40"/>
<circle cx="457.13" cy="61.31" r="1.40"/>
<circle cx="456.01" cy="63.69" r="1.40"/>
<circle cx="457.13" cy="65.29" r="1.40"/>
<circle cx="456.33" cy="66.88" r="1.40"/>
<circle cx="457.92" cy="67.68" r="1.40"/>
<circle cx="459.52" cy="66.08" r="1.40"/>
<circle cx="460.31" cy="64.49" r="1.40"/>
<circle cx="461.90" cy="63.69" r="1.40"/>
<circle cx="462.70" cy="61.31" r="1.40"/>
<circle cx="459.52" cy="69.27" r="1.40"/>
<circle cx="459.20" cy="71.34" r="1.40"/>
<circle cx="454.10" cy="70.86" r="1.40"/>
<circle cx="462.70" cy="67.68" r="1.40"/>
<circle cx="465.89" cy="66.08" r="1.40"/>
<circle cx="468.75" cy="65.76" r="1.40"/>
<circle cx="475.44" cy="37.90" r="1.40"/>
<circle cx="476.24" cy="49.04" r="1.40"/>
<circle cx="477.35" cy="51.75" r="1.40"/>
<circle cx="481.01" cy="52.23" r="1.40"/>
<circle cx="475.12" cy="56.05" r="1.40"/>
<circle cx="475.12" cy="58.12" r="1.40"/>
<circle cx="478.62" cy="57.32" r="1.40"/>
<circle cx="476.24" cy="61.31" r="1.40"/>
<circle cx="475.44" cy="64.97" r="1.40"/>
<circle cx="480.22" cy="66.56" r="1.40"/>
<circle cx="485.31" cy="25.48" r="1.40"/>
<circle cx="487.70" cy="49.68" r="1.40"/>
<circle cx="486.59" cy="52.23" r="1.40"/>
<circle cx="487.70" cy="55.73" r="1.40"/>
<circle cx="487.70" cy="58.12" r="1.40"/>
<circle cx="487.70" cy="62.42" r="1.40"/>
<circle cx="491.04" cy="64.49" r="1.40"/>
<circle cx="492.16" cy="64.49" r="1.40"/>
<circle cx="495.03" cy="28.98" r="1.40"/>
<circle cx="495.03" cy="31.05" r="1.40"/>
<circle cx="495.03" cy="38.22" r="1.40"/>
<circle cx="495.03" cy="39.81" r="1.40"/>
<circle cx="493.75" cy="44.27" r="1.40"/>
<circle cx="495.03" cy="46.18" r="1.40"/>
<circle cx="495.03" cy="48.57" r="1.40"/>
<circle cx="495.03" cy="50.96" r="1.40"/>
<circle cx="495.03" cy="53.34" r="1.40"/>
<circle cx="495.03" cy="55.41" r="1.40"/>
<circle cx="495.03" cy="62.90" r="1.40"/>
<circle cx="495.03" cy="64.49" r="1.40"/>
<circle cx="508.08" cy="43.31" r="1.40"/>
<circle cx="508.56" cy="54.46" r="1.40"/>
<circle cx="506.49" cy="57.32" r="1.40"/>
<circle cx="509.68" cy="57.32" r="1.40"/>
<circle cx="506.49" cy="59.71" r="1.40"/>
<circle cx="506.49" cy="61.78" r="1.40"/>
<circle cx="510.15" cy="65.29" r="1.40"/>
<circle cx="509.20" cy="69.75" r="1.40"/>
<circle cx="525.12" cy="66.56" r="1.40"/>
<circle cx="532.45" cy="48.25" r="1.40"/>
<circle cx="532.45" cy="58.12" r="1.40"/>
<circle cx="536.27" cy="64.49" r="1.40"/>
<circle cx="539.93" cy="68.95" r="1.40"/>
<circle cx="616.50" cy="77.50" r="1.40"/>
<circle cx="616.50" cy="79.50" r="1.40"/>
</g>
<path d="M450.10 83.40v-2.0M487.45 83.40v-2.0M524.80 83.40v-2.0M562.15 83.40v-2.0M599.50 83.40v-2.0M442.55 83.40h2.1M442.55 71.60h2.1M442.55 59.80h2.1M442.55 48.00h2.1M442.55 36.20h2.1M442.55 24.40h2.1M442.55 12.60h2.1" stroke="#444" stroke-width="0.7" fill="none"/>
<rect x="442.55" y="1.60" width="182.05" height="81.80" fill="none" stroke="#444" stroke-width="0.7"/>
<g font-family="Liberation Serif, serif" font-size="6.70" fill="#000" stroke="#000" stroke-width="0.1">
<text x="450.10" y="90.15" transform="rotate(0.05 450.10 90.15)" text-anchor="middle">0</text>
<text x="487.45" y="90.15" transform="rotate(0.05 487.45 90.15)" text-anchor="middle">1</text>
<text x="524.80" y="90.15" transform="rotate(0.05 524.80 90.15)" text-anchor="middle">2</text>
<text x="562.15" y="90.15" transform="rotate(0.05 562.15 90.15)" text-anchor="middle">3</text>
<text x="599.50" y="90.15" transform="rotate(0.05 599.50 90.15)" text-anchor="middle">4</text>
<text x="439.75" y="85.95" transform="rotate(0.05 439.75 85.95)" text-anchor="end">0</text>
<text x="439.75" y="74.15" transform="rotate(0.05 439.75 74.15)" text-anchor="end">25</text>
<text x="439.75" y="62.35" transform="rotate(0.05 439.75 62.35)" text-anchor="end">50</text>
<text x="439.75" y="50.55" transform="rotate(0.05 439.75 50.55)" text-anchor="end">75</text>
<text x="439.75" y="38.75" transform="rotate(0.05 439.75 38.75)" text-anchor="end">100</text>
<text x="439.75" y="26.95" transform="rotate(0.05 439.75 26.95)" text-anchor="end">125</text>
<text x="439.75" y="15.15" transform="rotate(0.05 439.75 15.15)" text-anchor="end">150</text>
</g>
<g font-family="Liberation Serif, serif" font-size="6.60" fill="#000" stroke="#000" stroke-width="0.1">
<text x="533.58" y="98.36" transform="rotate(0.05 533.58 98.36)" text-anchor="middle">SG</text>
<text transform="translate(424.25 42.50) rotate(-89.95)" text-anchor="middle" y="2.31">CS</text>
</g>
<g fill="#ff0000">
<circle cx="30.50" cy="109.42" r="1.40"/>
<circle cx="30.50" cy="111.49" r="1.40"/>
<circle cx="30.50" cy="112.32" r="1.40"/>
<circle cx="30.50" cy="114.28" r="1.40"/>
<circle cx="30.50" cy="115.04" r="1.40"/>
<circle cx="30.50" cy="116.50" r="1.40"/>
<circle cx="30.50" cy="117.47" r="1.40"/>
<circle cx="30.50" cy="122.67" r="1.40"/>
<circle cx="30.50" cy="123.11" r="1.40"/>
<circle cx="30.50" cy="124.77" r="1.40"/>
<circle cx="30.50" cy="125.88" r="1.40"/>
<circle cx="30.50" cy="126.63" r="1.40"/>
<circle cx="30.50" cy="127.79" r="1.40"/>
<circle cx="30.50" cy="128.95" r="1.40"/>
<circle cx="30.50" cy="131.24" r="1.40"/>
<circle cx="30.50" cy="132.47" r="1.40"/>
<circle cx="30.50" cy="133.22" r="1.40"/>
<circle cx="30.50" cy="134.53" r="1.40"/>
<circle cx="30.50" cy="135.62" r="1.40"/>
<circle cx="30.50" cy="136.34" r="1.40"/>
<circle cx="30.50" cy="138.39" r="1.40"/>
<circle cx="30.50" cy="138.77" r="1.40"/>
<circle cx="30.50" cy="140.02" r="1.40"/>
<circle cx="30.50" cy="141.57" r="1.40"/>
<circle cx="30.50" cy="143.17" r="1.40"/>
<circle cx="30.50" cy="143.73" r="1.40"/>
<circle cx="30.50" cy="145.49" r="1.40"/>
<circle cx="30.50" cy="146.45" r="1.40"/>
<circle cx="30.50" cy="147.60" r="1.40"/>
<circle cx="30.50" cy="148.88" r="1.40"/>
<circle cx="30.50" cy="150.03" r="1.40"/>
<circle cx="30.50" cy="151.38" r="1.40"/>
<circle cx="30.50" cy="152.44" r="1.40"/>
<circle cx="30.50" cy="154.13" r="1.40"/>
<circle cx="30.50" cy="154.37" r="1.40"/>
<circle cx="30.50" cy="156.35" r="1.40"/>
<circle cx="30.50" cy="156.73" r="1.40"/>
<circle cx="30.50" cy="159.07" r="1.40"/>
<circle cx="30.50" cy="159.56" r="1.40"/>
<circle cx="30.50" cy="161.48" r="1.40"/>
<circle cx="30.50" cy="161.92" r="1.40"/>
<circle cx="30.50" cy="163.53" r="1.40"/>
<circle cx="30.50" cy="164.29" r="1.40"/>
<circle cx="30.50" cy="165.23" r="1.40"/>
<circle cx="30.50" cy="167.59" r="1.40"/>
<circle cx="30.50" cy="167.96" r="1.40"/>
<circle cx="30.50" cy="169.26" r="1.40"/>
<circle cx="30.50" cy="170.08" r="1.40"/>
<circle cx="30.50" cy="171.49" r="1.40"/>
<circle cx="30.50" cy="173.52" r="1.40"/>
<circle cx="30.50" cy="173.97" r="1.40"/>
<circle cx="30.50" cy="175.99" r="1.40"/>
<circle cx="30.50" cy="177.02" r="1.40"/>
<circle cx="30.50" cy="177.99" r="1.40"/>
<circle cx="30.50" cy="179.66" r="1.40"/>
<circle cx="30.50" cy="180.34" r="1.40"/>
<circle cx="30.50" cy="181.38" r="1.40"/>
<circle cx="30.50" cy="183.31" r="1.40"/>
<circle cx="30.50" cy="184.30" r="1.40"/>
<circle cx="74.74" cy="150.00" r="1.40"/>
<circle cx="74.74" cy="152.34" r="1.40"/>
<circle cx="74.74" cy="154.69" r="1.40"/>
<circle cx="74.74" cy="157.62" r="1.40"/>
<circle cx="78.26" cy="159.38" r="1.40"/>
<circle cx="97.01" cy="148.54" r="1.40"/>
<circle cx="97.01" cy="151.47" r="1.40"/>
<circle cx="97.01" cy="154.69" r="1.40"/>
<circle cx="97.01" cy="155.57" r="1.40"/>
<circle cx="118.98" cy="153.22" r="1.40"/>
<circle cx="118.98" cy="155.57" r="1.40"/>
<circle cx="118.98" cy="157.62" r="1.40"/>
<circle cx="118.98" cy="159.67" r="1.40"/>
<circle cx="118.98" cy="161.43" r="1.40"/>
<circle cx="141.25" cy="154.69" r="1.40"/>
<circle cx="141.25" cy="156.74" r="1.40"/>
<circle cx="141.25" cy="161.43" r="1.40"/>
<circle cx="141.25" cy="164.36" r="1.40"/>
<circle cx="196.63" cy="157.03" r="1.40"/>
</g>
<path d="M30.50 187.50v-2.0M52.65 187.50v-2.0M74.80 187.50v-2.0M96.95 187.50v-2.0M119.10 187.50v-2.0M141.25 187.50v-2.0M163.40 187.50v-2.0M185.55 187.50v-2.0M22.60 187.50h2.1M22.60 175.70h2.1M22.60 163.90h2.1M22.60 152.10h2.1M22.60 140.30h2.1M22.60 128.50h2.1M22.60 116.70h2.1" stroke="#444" stroke-width="0.7" fill="none"/>
<rect x="22.60" y="106.00" width="182.00" height="81.50" fill="none" stroke="#444" stroke-width="0.7"/>
<g font-family="Liberation Serif, serif" font-size="6.70" fill="#000" stroke="#000" stroke-width="0.1">
<text x="30.50" y="194.25" transform="rotate(0.05 30.50 194.25)" text-anchor="middle">0.0</text>
<text x="52.65" y="194.25" transform="rotate(0.05 52.65 194.25)" text-anchor="middle">0.2</text>
<text x="74.80" y="194.25" transform="rotate(0.05 74.80 194.25)" text-anchor="middle">0.4</text>
<text x="96.95" y="194.25" transform="rotate(0.05 96.95 194.25)" text-anchor="middle">0.6</text>
<text x="119.10" y="194.25" transform="rotate(0.05 119.10 194.25)" text-anchor="middle">0.8</text>
<text x="141.25" y="194.25" transform="rotate(0.05 141.25 194.25)" text-anchor="middle">1.0</text>
<text x="163.40" y="194.25" transform="rotate(0.05 163.40 194.25)" text-anchor="middle">1.2</text>
<text x="185.55" y="194.25" transform="rotate(0.05 185.55 194.25)" text-anchor="middle">1.4</text>
<text x="19.80" y="190.04" transform="rotate(0.05 19.80 190.04)" text-anchor="end">0</text>
<text x="19.80" y="178.24" transform="rotate(0.05 19.80 178.24)" text-anchor="end">25</text>
<text x="19.80" y="166.44" transform="rotate(0.05 19.80 166.44)" text-anchor="end">50</text>
<text x="19.80" y="154.64" transform="rotate(0.05 19.80 154.64)" text-anchor="end">75</text>
<text x="19.80" y="142.84" transform="rotate(0.05 19.80 142.84)" text-anchor="end">100</text>
<text x="19.80" y="131.04" transform="rotate(0.05 19.80 131.04)" text-anchor="end">125</text>
<text x="19.80" y="119.25" transform="rotate(0.05 19.80 119.25)" text-anchor="end">150</text>
</g>
<g font-family="Liberation Serif, serif" font-size="6.60" fill="#000" stroke="#000" stroke-width="0.1">
<text x="113.60" y="202.46" transform="rotate(0.05 113.60 202.46)" text-anchor="middle">CGP</text>
<text transform="translate(4.30 146.75) rotate(-89.95)" text-anchor="middle" y="2.31">CS</text>
</g>
<g fill="#ff0000">
<circle cx="240.28" cy="109.67" r="1.40"/>
<circle cx="240.28" cy="110.39" r="1.40"/>
<circle cx="240.28" cy="111.55" r="1.40"/>
<circle cx="240.28" cy="112.38" r="1.40"/>
<circle cx="240.28" cy="113.29" r="1.40"/>
<circle cx="240.28" cy="113.64" r="1.40"/>
<circle cx="240.28" cy="115.01" r="1.40"/>
<circle cx="240.28" cy="115.52" r="1.40"/>
<circle cx="240.28" cy="117.00" r="1.40"/>
<circle cx="240.28" cy="117.88" r="1.40"/>
<circle cx="240.28" cy="118.92" r="1.40"/>
<circle cx="240.28" cy="119.21" r="1.40"/>
<circle cx="240.28" cy="121.05" r="1.40"/>
<circle cx="240.28" cy="121.95" r="1.40"/>
<circle cx="240.28" cy="122.74" r="1.40"/>
<circle cx="240.28" cy="123.58" r="1.40"/>
<circle cx="240.28" cy="124.54" r="1.40"/>
<circle cx="240.28" cy="125.03" r="1.40"/>
<circle cx="240.28" cy="125.44" r="1.40"/>
<circle cx="240.28" cy="126.35" r="1.40"/>
<circle cx="240.28" cy="127.54" r="1.40"/>
<circle cx="240.28" cy="128.01" r="1.40"/>
<circle cx="240.28" cy="129.26" r="1.40"/>
<circle cx="240.28" cy="129.44" r="1.40"/>
<circle cx="240.28" cy="130.51" r="1.40"/>
<circle cx="240.28" cy="131.36" r="1.40"/>
<circle cx="240.28" cy="132.10" r="1.40"/>
<circle cx="240.28" cy="133.24" r="1.40"/>
<circle cx="240.28" cy="133.46" r="1.40"/>
<circle cx="240.28" cy="134.71" r="1.40"/>
<circle cx="240.28" cy="135.56" r="1.40"/>
<circle cx="240.28" cy="135.98" r="1.40"/>
<circle cx="240.28" cy="137.13" r="1.40"/>
<circle cx="240.28" cy="137.57" r="1.40"/>
<circle cx="240.28" cy="138.37" r="1.40"/>
<circle cx="240.28" cy="139.43" r="1.40"/>
<circle cx="240.28" cy="140.14" r="1.40"/>
<circle cx="240.28" cy="140.37" r="1.40"/>
<circle cx="240.28" cy="141.87" r="1.40"/>
<circle cx="240.28" cy="142.30" r="1.40"/>
<circle cx="240.28" cy="143.46" r="1.40"/>
<circle cx="240.28" cy="143.53" r="1.40"/>
<circle cx="240.28" cy="144.71" r="1.40"/>
<circle cx="240.28" cy="145.66" r="1.40"/>
<circle cx="240.28" cy="146.38" r="1.40"/>
<circle cx="240.28" cy="146.68" r="1.40"/>
<circle cx="240.28" cy="147.66" r="1.40"/>
<circle cx="240.28" cy="148.49" r="1.40"/>
<circle cx="240.28" cy="149.46" r="1.40"/>
<circle cx="240.28" cy="150.22" r="1.40"/>
<circle cx="240.28" cy="151.19" r="1.40"/>
<circle cx="240.28" cy="152.03" r="1.40"/>
<circle cx="240.28" cy="152.12" r="1.40"/>
<circle cx="240.28" cy="153.17" r="1.40"/>
<circle cx="240.28" cy="154.09" r="1.40"/>
<circle cx="240.28" cy="154.66" r="1.40"/>
<circle cx="240.28" cy="155.51" r="1.40"/>
<circle cx="240.28" cy="156.57" r="1.40"/>
<circle cx="240.28" cy="157.07" r="1.40"/>
<circle cx="240.28" cy="158.16" r="1.40"/>
<circle cx="240.28" cy="158.44" r="1.40"/>
<circle cx="240.28" cy="159.85" r="1.40"/>
<circle cx="240.28" cy="160.04" r="1.40"/>
<circle cx="240.28" cy="161.20" r="1.40"/>
<circle cx="240.28" cy="162.23" r="1.40"/>
<circle cx="240.28" cy="162.39" r="1.40"/>
<circle cx="240.28" cy="163.68" r="1.40"/>
<circle cx="240.28" cy="164.26" r="1.40"/>
<circle cx="240.28" cy="164.98" r="1.40"/>
<circle cx="240.28" cy="165.46" r="1.40"/>
<circle cx="240.28" cy="166.36" r="1.40"/>
<circle cx="240.28" cy="167.68" r="1.40"/>
<circle cx="240.28" cy="168.26" r="1.40"/>
<circle cx="240.28" cy="169.18" r="1.40"/>
<circle cx="240.28" cy="169.56" r="1.40"/>
<circle cx="240.28" cy="170.57" r="1.40"/>
<circle cx="240.28" cy="171.36" r="1.40"/>
<circle cx="240.28" cy="171.85" r="1.40"/>
<circle cx="240.28" cy="173.13" r="1.40"/>
<circle cx="240.28" cy="173.98" r="1.40"/>
<circle cx="240.28" cy="174.61" r="1.40"/>
<circle cx="240.28" cy="175.09" r="1.40"/>
<circle cx="240.28" cy="181.23" r="1.40"/>
<circle cx="240.28" cy="183.62" r="1.40"/>
<circle cx="255.57" cy="133.46" r="1.40"/>
<circle cx="255.57" cy="135.37" r="1.40"/>
<circle cx="252.38" cy="137.92" r="1.40"/>
<circle cx="258.27" cy="142.22" r="1.40"/>
<circle cx="248.72" cy="149.86" r="1.40"/>
<circle cx="250.79" cy="149.38" r="1.40"/>
<circle cx="251.90" cy="151.45" r="1.40"/>
<circle cx="247.92" cy="156.55" r="1.40"/>
<circle cx="249.52" cy="155.27" r="1.40"/>
<circle cx="251.11" cy="157.34" r="1.40"/>
<circle cx="252.70" cy="156.55" r="1.40"/>
<circle cx="247.92" cy="158.94" r="1.40"/>
<circle cx="249.83" cy="159.41" r="1.40"/>
<circle cx="252.70" cy="159.73" r="1.40"/>
<circle cx="252.70" cy="162.60" r="1.40"/>
<circle cx="258.27" cy="154.16" r="1.40"/>
<circle cx="264.32" cy="149.06" r="1.40"/>
<circle cx="262.25" cy="155.75" r="1.40"/>
<circle cx="264.64" cy="156.55" r="1.40"/>
<circle cx="263.85" cy="158.94" r="1.40"/>
<circle cx="261.46" cy="161.64" r="1.40"/>
<circle cx="260.34" cy="163.71" r="1.40"/>
<circle cx="260.66" cy="165.78" r="1.40"/>
<circle cx="243.15" cy="166.90" r="1.40"/>
<circle cx="244.74" cy="167.69" r="1.40"/>
<circle cx="245.54" cy="171.68" r="1.40"/>
<circle cx="247.13" cy="169.29" r="1.40"/>
<circle cx="249.52" cy="170.08" r="1.40"/>
<circle cx="252.38" cy="169.61" r="1.40"/>
<circle cx="251.11" cy="172.15" r="1.40"/>
<circle cx="249.20" cy="173.75" r="1.40"/>
<circle cx="249.52" cy="175.34" r="1.40"/>
<circle cx="256.20" cy="169.29" r="1.40"/>
<circle cx="258.27" cy="170.88" r="1.40"/>
<circle cx="260.34" cy="172.47" r="1.40"/>
<circle cx="258.27" cy="174.86" r="1.40"/>
<circle cx="264.64" cy="167.69" r="1.40"/>
<circle cx="264.64" cy="170.08" r="1.40"/>
<circle cx="264.64" cy="172.47" r="1.40"/>
<circle cx="269.90" cy="151.77" r="1.40"/>
<circle cx="276.90" cy="154.96" r="1.40"/>
<circle cx="274.99" cy="159.73" r="1.40"/>
<circle cx="276.90" cy="158.94" r="1.40"/>
<circle cx="278.97" cy="161.01" r="1.40"/>
<circle cx="280.57" cy="162.92" r="1.40"/>
<circle cx="275.79" cy="162.92" r="1.40"/>
<circle cx="278.18" cy="164.51" r="1.40"/>
<circle cx="276.90" cy="166.42" r="1.40"/>
<circle cx="273.08" cy="168.49" r="1.40"/>
<circle cx="275.79" cy="170.08" r="1.40"/>
<circle cx="275.79" cy="172.47" r="1.40"/>
<circle cx="279.77" cy="163.71" r="1.40"/>
<circle cx="284.87" cy="148.59" r="1.40"/>
<circle cx="284.87" cy="151.29" r="1.40"/>
<circle cx="287.73" cy="164.51" r="1.40"/>
<circle cx="289.64" cy="162.12" r="1.40"/>
<circle cx="287.73" cy="167.69" r="1.40"/>
<circle cx="287.73" cy="171.68" r="1.40"/>
<circle cx="295.69" cy="150.66" r="1.40"/>
<circle cx="295.69" cy="157.34" r="1.40"/>
<circle cx="294.10" cy="165.31" r="1.40"/>
<circle cx="294.10" cy="167.69" r="1.40"/>
<circle cx="294.10" cy="170.08" r="1.40"/>
<circle cx="294.10" cy="172.47" r="1.40"/>
<circle cx="295.69" cy="174.06" r="1.40"/>
<circle cx="300.15" cy="165.31" r="1.40"/>
<circle cx="300.15" cy="167.69" r="1.40"/>
<circle cx="300.15" cy="170.88" r="1.40"/>
<circle cx="308.75" cy="149.06" r="1.40"/>
<circle cx="308.75" cy="156.55" r="1.40"/>
<circle cx="308.75" cy="158.94" r="1.40"/>
<circle cx="310.82" cy="165.31" r="1.40"/>
<circle cx="311.30" cy="167.69" r="1.40"/>
<circle cx="311.62" cy="170.08" r="1.40"/>
<circle cx="309.55" cy="181.71" r="1.40"/>
<circle cx="314.80" cy="172.47" r="1.40"/>
<circle cx="317.19" cy="172.79" r="1.40"/>
<circle cx="320.38" cy="168.17" r="1.40"/>
<circle cx="323.08" cy="168.49" r="1.40"/>
<circle cx="323.56" cy="170.88" r="1.40"/>
<circle cx="329.13" cy="156.87" r="1.40"/>
<circle cx="269.90" cy="152.98" r="1.40"/>
<circle cx="269.90" cy="154.16" r="1.40"/>
<circle cx="269.90" cy="156.62" r="1.40"/>
<circle cx="269.90" cy="157.23" r="1.40"/>
<circle cx="269.90" cy="158.89" r="1.40"/>
<circle cx="269.90" cy="161.28" r="1.40"/>
<circle cx="269.90" cy="162.40" r="1.40"/>
<circle cx="269.90" cy="163.44" r="1.40"/>
<circle cx="269.90" cy="165.90" r="1.40"/>
<circle cx="284.87" cy="155.68" r="1.40"/>
<circle cx="284.87" cy="158.22" r="1.40"/>
<circle cx="284.87" cy="159.42" r="1.40"/>
<circle cx="284.87" cy="161.00" r="1.40"/>
<circle cx="284.87" cy="162.72" r="1.40"/>
<circle cx="284.87" cy="164.39" r="1.40"/>
<circle cx="284.87" cy="166.98" r="1.40"/>
<circle cx="284.87" cy="167.54" r="1.40"/>
<circle cx="284.87" cy="168.89" r="1.40"/>
<circle cx="284.87" cy="172.15" r="1.40"/>
<circle cx="284.87" cy="173.49" r="1.40"/>
<circle cx="308.75" cy="160.80" r="1.40"/>
<circle cx="308.75" cy="161.54" r="1.40"/>
<circle cx="308.75" cy="164.05" r="1.40"/>
<circle cx="308.75" cy="165.67" r="1.40"/>
<circle cx="308.75" cy="167.45" r="1.40"/>
<circle cx="308.75" cy="169.82" r="1.40"/>
<circle cx="308.75" cy="171.91" r="1.40"/>
<circle cx="308.75" cy="172.83" r="1.40"/>
<circle cx="308.75" cy="174.75" r="1.40"/>
<circle cx="308.75" cy="175.87" r="1.40"/>
<circle cx="306.04" cy="162.71" r="1.40"/>
<circle cx="306.04" cy="164.34" r="1.40"/>
<circle cx="306.04" cy="166.21" r="1.40"/>
<circle cx="306.04" cy="168.35" r="1.40"/>
<circle cx="306.04" cy="168.92" r="1.40"/>
<circle cx="306.04" cy="172.06" r="1.40"/>
<circle cx="306.04" cy="173.85" r="1.40"/>
<circle cx="329.13" cy="162.62" r="1.40"/>
<circle cx="329.13" cy="165.69" r="1.40"/>
<circle cx="329.13" cy="167.06" r="1.40"/>
<circle cx="329.13" cy="167.97" r="1.40"/>
<circle cx="329.13" cy="171.40" r="1.40"/>
<circle cx="329.13" cy="172.88" r="1.40"/>
<circle cx="329.13" cy="174.06" r="1.40"/>
<circle cx="329.13" cy="176.64" r="1.40"/>
<circle cx="329.13" cy="177.86" r="1.40"/>
<circle cx="335.11" cy="173.27" r="1.40"/>
<circle cx="335.43" cy="174.86" r="1.40"/>
<circle cx="347.21" cy="170.56" r="1.40"/>
<circle cx="347.21" cy="175.66" r="1.40"/>
<circle cx="347.21" cy="178.52" r="1.40"/>
<circle cx="351.83" cy="177.57" r="1.40"/>
<circle cx="355.81" cy="172.79" r="1.40"/>
<circle cx="364.89" cy="171.68" r="1.40"/>
<circle cx="364.89" cy="174.06" r="1.40"/>
<circle cx="364.89" cy="176.45" r="1.40"/>
<circle cx="372.05" cy="172.15" r="1.40"/>
<circle cx="375.39" cy="177.57" r="1.40"/>
<circle cx="406.45" cy="177.25" r="1.40"/>
<circle cx="358.99" cy="171.47" r="1.40"/>
<circle cx="358.99" cy="173.61" r="1.40"/>
<circle cx="358.99" cy="174.27" r="1.40"/>
<circle cx="358.99" cy="176.69" r="1.40"/>
<circle cx="358.99" cy="177.69" r="1.40"/>
<circle cx="358.99" cy="178.37" r="1.40"/>
<circle cx="397.53" cy="162.89" r="1.40"/>
<circle cx="397.53" cy="164.01" r="1.40"/>
<circle cx="397.53" cy="165.19" r="1.40"/>
<circle cx="397.53" cy="165.84" r="1.40"/>
<circle cx="397.53" cy="166.97" r="1.40"/>
<circle cx="397.53" cy="168.04" r="1.40"/>
</g>
<path d="M240.25 187.50v-2.0M269.95 187.50v-2.0M299.65 187.50v-2.0M329.35 187.50v-2.0M359.05 187.50v-2.0M388.75 187.50v-2.0M232.60 187.50h2.1M232.60 175.70h2.1M232.60 163.90h2.1M232.60 152.10h2.1M232.60 140.30h2.1M232.60 128.50h2.1M232.60 116.70h2.1" stroke="#444" stroke-width="0.7" fill="none"/>
<rect x="232.60" y="106.00" width="182.00" height="81.50" fill="none" stroke="#444" stroke-width="0.7"/>
<g font-family="Liberation Serif, serif" font-size="6.70" fill="#000" stroke="#000" stroke-width="0.1">
<text x="240.25" y="194.25" transform="rotate(0.05 240.25 194.25)" text-anchor="middle">0</text>
<text x="269.95" y="194.25" transform="rotate(0.05 269.95 194.25)" text-anchor="middle">1</text>
<text x="299.65" y="194.25" transform="rotate(0.05 299.65 194.25)" text-anchor="middle">2</text>
<text x="329.35" y="194.25" transform="rotate(0.05 329.35 194.25)" text-anchor="middle">3</text>
<text x="359.05" y="194.25" transform="rotate(0.05 359.05 194.25)" text-anchor="middle">4</text>
<text x="388.75" y="194.25" transform="rotate(0.05 388.75 194.25)" text-anchor="middle">5</text>
<text x="229.80" y="190.04" transform="rotate(0.05 229.80 190.04)" text-anchor="end">0</text>
<text x="229.80" y="178.24" transform="rotate(0.05 229.80 178.24)" text-anchor="end">25</text>
<text x="229.80" y="166.44" transform="rotate(0.05 229.80 166.44)" text-anchor="end">50</text>
<text x="229.80" y="154.64" transform="rotate(0.05 229.80 154.64)" text-anchor="end">75</text>
<text x="229.80" y="142.84" transform="rotate(0.05 229.80 142.84)" text-anchor="end">100</text>
<text x="229.80" y="131.04" transform="rotate(0.05 229.80 131.04)" text-anchor="end">125</text>
<text x="229.80" y="119.25" transform="rotate(0.05 229.80 119.25)" text-anchor="end">150</text>
</g>
<g font-family="Liberation Serif, serif" font-size="6.60" fill="#000" stroke="#000" stroke-width="0.1">
<text x="323.60" y="202.46" transform="rotate(0.05 323.60 202.46)" text-anchor="middle">FA</text>
<text transform="translate(214.30 146.75) rotate(-89.95)" text-anchor="middle" y="2.31">CS</text>
</g>
<g fill="#ff0000">
<circle cx="450.28" cy="152.89" r="1.40"/>
<circle cx="450.28" cy="162.55" r="1.40"/>
<circle cx="450.28" cy="163.81" r="1.40"/>
<circle cx="450.28" cy="165.00" r="1.40"/>
<circle cx="450.28" cy="166.01" r="1.40"/>
<circle cx="450.28" cy="166.91" r="1.40"/>
<circle cx="450.28" cy="168.49" r="1.40"/>
<circle cx="457.29" cy="124.70" r="1.40"/>
<circle cx="457.45" cy="143.01" r="1.40"/>
<circle cx="459.04" cy="142.54" r="1.40"/>
<circle cx="464.29" cy="147.31" r="1.40"/>
<circle cx="468.27" cy="146.52" r="1.40"/>
<circle cx="464.29" cy="160.21" r="1.40"/>
<circle cx="468.27" cy="160.85" r="1.40"/>
<circle cx="471.46" cy="166.90" r="1.40"/>
<circle cx="473.85" cy="166.42" r="1.40"/>
<circle cx="470.34" cy="172.79" r="1.40"/>
<circle cx="467.48" cy="175.66" r="1.40"/>
<circle cx="476.55" cy="115.15" r="1.40"/>
<circle cx="476.55" cy="117.06" r="1.40"/>
<circle cx="476.55" cy="119.13" r="1.40"/>
<circle cx="476.55" cy="122.79" r="1.40"/>
<circle cx="476.55" cy="131.39" r="1.40"/>
<circle cx="474.64" cy="153.68" r="1.40"/>
<circle cx="475.44" cy="155.75" r="1.40"/>
<circle cx="477.83" cy="154.16" r="1.40"/>
<circle cx="475.44" cy="158.14" r="1.40"/>
<circle cx="478.31" cy="149.38" r="1.40"/>
<circle cx="478.62" cy="160.53" r="1.40"/>
<circle cx="480.22" cy="161.32" r="1.40"/>
<circle cx="478.31" cy="166.90" r="1.40"/>
<circle cx="480.22" cy="169.29" r="1.40"/>
<circle cx="478.31" cy="175.18" r="1.40"/>
<circle cx="482.13" cy="131.39" r="1.40"/>
<circle cx="482.13" cy="137.92" r="1.40"/>
<circle cx="482.13" cy="142.22" r="1.40"/>
<circle cx="482.61" cy="146.68" r="1.40"/>
<circle cx="482.13" cy="150.18" r="1.40"/>
<circle cx="485.31" cy="131.39" r="1.40"/>
<circle cx="485.31" cy="132.98" r="1.40"/>
<circle cx="484.20" cy="146.99" r="1.40"/>
<circle cx="485.31" cy="150.18" r="1.40"/>
<circle cx="486.59" cy="150.97" r="1.40"/>
<circle cx="485.31" cy="153.36" r="1.40"/>
<circle cx="484.20" cy="156.55" r="1.40"/>
<circle cx="485.31" cy="158.94" r="1.40"/>
<circle cx="484.20" cy="162.12" r="1.40"/>
<circle cx="485.31" cy="164.51" r="1.40"/>
<circle cx="484.20" cy="166.90" r="1.40"/>
<circle cx="483.72" cy="170.08" r="1.40"/>
<circle cx="485.31" cy="171.68" r="1.40"/>
<circle cx="487.38" cy="170.08" r="1.40"/>
<circle cx="487.38" cy="173.27" r="1.40"/>
<circle cx="481.81" cy="170.08" r="1.40"/>
<circle cx="491.84" cy="112.28" r="1.40"/>
<circle cx="493.27" cy="118.01" r="1.40"/>
<circle cx="491.84" cy="127.09" r="1.40"/>
<circle cx="492.64" cy="129.48" r="1.40"/>
<circle cx="492.16" cy="133.46" r="1.40"/>
<circle cx="492.16" cy="135.85" r="1.40"/>
<circle cx="492.16" cy="138.24" r="1.40"/>
<circle cx="492.16" cy="140.62" r="1.40"/>
<circle cx="492.16" cy="143.01" r="1.40"/>
<circle cx="492.16" cy="146.68" r="1.40"/>
<circle cx="492.16" cy="149.38" r="1.40"/>
<circle cx="492.16" cy="151.77" r="1.40"/>
<circle cx="489.77" cy="156.23" r="1.40"/>
<circle cx="491.68" cy="156.23" r="1.40"/>
<circle cx="493.75" cy="154.16" r="1.40"/>
<circle cx="495.34" cy="150.18" r="1.40"/>
<circle cx="494.87" cy="155.27" r="1.40"/>
<circle cx="491.36" cy="161.01" r="1.40"/>
<circle cx="493.75" cy="177.25" r="1.40"/>
<circle cx="495.34" cy="170.08" r="1.40"/>
<circle cx="498.53" cy="109.57" r="1.40"/>
<circle cx="499.32" cy="133.46" r="1.40"/>
<circle cx="499.32" cy="135.85" r="1.40"/>
<circle cx="502.19" cy="133.46" r="1.40"/>
<circle cx="499.32" cy="142.22" r="1.40"/>
<circle cx="499.32" cy="143.81" r="1.40"/>
<circle cx="507.29" cy="114.35" r="1.40"/>
<circle cx="507.29" cy="148.27" r="1.40"/>
<circle cx="513.97" cy="135.05" r="1.40"/>
<circle cx="513.97" cy="137.44" r="1.40"/>
<circle cx="513.97" cy="139.83" r="1.40"/>
<circle cx="513.97" cy="145.72" r="1.40"/>
<circle cx="512.86" cy="151.77" r="1.40"/>
<circle cx="517.64" cy="111.96" r="1.40"/>
<circle cx="519.55" cy="115.15" r="1.40"/>
<circle cx="517.32" cy="117.54" r="1.40"/>
<circle cx="521.14" cy="150.66" r="1.40"/>
<circle cx="517.64" cy="155.27" r="1.40"/>
<circle cx="505.43" cy="158.27" r="1.40"/>
<circle cx="505.90" cy="176.79" r="1.40"/>
<circle cx="506.09" cy="168.51" r="1.40"/>
<circle cx="498.02" cy="162.47" r="1.40"/>
<circle cx="500.05" cy="158.26" r="1.40"/>
<circle cx="500.41" cy="171.96" r="1.40"/>
<circle cx="501.33" cy="161.51" r="1.40"/>
<circle cx="500.77" cy="150.64" r="1.40"/>
<circle cx="507.81" cy="173.25" r="1.40"/>
<circle cx="505.91" cy="164.38" r="1.40"/>
<circle cx="500.16" cy="153.81" r="1.40"/>
<circle cx="498.41" cy="169.43" r="1.40"/>
<circle cx="507.24" cy="163.00" r="1.40"/>
<circle cx="504.08" cy="163.69" r="1.40"/>
<circle cx="497.97" cy="153.51" r="1.40"/>
<circle cx="501.55" cy="164.84" r="1.40"/>
<circle cx="504.56" cy="160.85" r="1.40"/>
<circle cx="504.52" cy="172.80" r="1.40"/>
<circle cx="497.83" cy="167.31" r="1.40"/>
<circle cx="507.24" cy="152.64" r="1.40"/>
<circle cx="505.65" cy="153.77" r="1.40"/>
<circle cx="504.34" cy="156.70" r="1.40"/>
<circle cx="503.17" cy="175.72" r="1.40"/>
<circle cx="502.54" cy="170.31" r="1.40"/>
<circle cx="502.94" cy="152.34" r="1.40"/>
<circle cx="502.22" cy="173.47" r="1.40"/>
<circle cx="499.01" cy="151.57" r="1.40"/>
<circle cx="504.65" cy="170.13" r="1.40"/>
<circle cx="498.28" cy="158.98" r="1.40"/>
<circle cx="503.05" cy="167.02" r="1.40"/>
<circle cx="500.00" cy="166.02" r="1.40"/>
<circle cx="507.37" cy="170.32" r="1.40"/>
<circle cx="501.70" cy="154.93" r="1.40"/>
<circle cx="501.34" cy="168.06" r="1.40"/>
<circle cx="506.45" cy="150.85" r="1.40"/>
<circle cx="506.98" cy="156.86" r="1.40"/>
<circle cx="506.93" cy="160.90" r="1.40"/>
<circle cx="502.06" cy="157.72" r="1.40"/>
<circle cx="497.74" cy="149.94" r="1.40"/>
<circle cx="502.88" cy="159.63" r="1.40"/>
<circle cx="503.30" cy="149.93" r="1.40"/>
<circle cx="506.11" cy="174.85" r="1.40"/>
<circle cx="518.47" cy="173.46" r="1.40"/>
<circle cx="518.90" cy="156.87" r="1.40"/>
<circle cx="511.57" cy="174.64" r="1.40"/>
<circle cx="517.60" cy="170.22" r="1.40"/>
<circle cx="512.54" cy="158.26" r="1.40"/>
<circle cx="512.80" cy="170.13" r="1.40"/>
<circle cx="518.23" cy="165.94" r="1.40"/>
<circle cx="512.60" cy="163.74" r="1.40"/>
<circle cx="523.35" cy="171.51" r="1.40"/>
<circle cx="521.04" cy="162.70" r="1.40"/>
<circle cx="511.17" cy="156.75" r="1.40"/>
<circle cx="515.94" cy="161.29" r="1.40"/>
<circle cx="517.73" cy="158.67" r="1.40"/>
<circle cx="519.70" cy="167.91" r="1.40"/>
<circle cx="515.34" cy="174.94" r="1.40"/>
<circle cx="513.08" cy="161.20" r="1.40"/>
<circle cx="512.48" cy="166.32" r="1.40"/>
<circle cx="510.62" cy="167.46" r="1.40"/>
<circle cx="521.23" cy="156.34" r="1.40"/>
<circle cx="522.82" cy="160.83" r="1.40"/>
<circle cx="514.54" cy="172.41" r="1.40"/>
<circle cx="522.36" cy="167.33" r="1.40"/>
<circle cx="519.99" cy="160.13" r="1.40"/>
<circle cx="521.39" cy="170.74" r="1.40"/>
<circle cx="514.59" cy="167.59" r="1.40"/>
<circle cx="523.03" cy="158.24" r="1.40"/>
<circle cx="514.96" cy="165.29" r="1.40"/>
<circle cx="518.86" cy="162.82" r="1.40"/>
<circle cx="514.44" cy="159.48" r="1.40"/>
<circle cx="515.24" cy="169.54" r="1.40"/>
<circle cx="520.51" cy="172.74" r="1.40"/>
<circle cx="523.40" cy="174.96" r="1.40"/>
<circle cx="520.48" cy="165.62" r="1.40"/>
<circle cx="522.46" cy="165.13" r="1.40"/>
<circle cx="518.10" cy="160.83" r="1.40"/>
<circle cx="514.08" cy="155.89" r="1.40"/>
<circle cx="535.08" cy="133.46" r="1.40"/>
<circle cx="535.08" cy="137.92" r="1.40"/>
<circle cx="535.08" cy="142.22" r="1.40"/>
<circle cx="533.17" cy="149.06" r="1.40"/>
<circle cx="537.46" cy="148.27" r="1.40"/>
<circle cx="530.78" cy="152.57" r="1.40"/>
<circle cx="533.17" cy="150.97" r="1.40"/>
<circle cx="533.17" cy="181.71" r="1.40"/>
<circle cx="526.80" cy="182.03" r="1.40"/>
<circle cx="526.80" cy="183.62" r="1.40"/>
<circle cx="545.43" cy="139.35" r="1.40"/>
<circle cx="545.43" cy="143.01" r="1.40"/>
<circle cx="545.43" cy="145.72" r="1.40"/>
<circle cx="544.79" cy="155.75" r="1.40"/>
<circle cx="545.43" cy="158.94" r="1.40"/>
<circle cx="549.89" cy="155.27" r="1.40"/>
<circle cx="540.33" cy="162.60" r="1.40"/>
<circle cx="541.45" cy="164.83" r="1.40"/>
<circle cx="537.94" cy="169.29" r="1.40"/>
<circle cx="541.92" cy="169.29" r="1.40"/>
<circle cx="539.54" cy="172.47" r="1.40"/>
<circle cx="546.70" cy="165.31" r="1.40"/>
<circle cx="545.90" cy="167.69" r="1.40"/>
<circle cx="548.29" cy="167.69" r="1.40"/>
<circle cx="549.89" cy="166.90" r="1.40"/>
<circle cx="545.11" cy="170.08" r="1.40"/>
<circle cx="547.50" cy="170.88" r="1.40"/>
<circle cx="545.90" cy="173.27" r="1.40"/>
<circle cx="547.97" cy="174.06" r="1.40"/>
<circle cx="549.89" cy="172.79" r="1.40"/>
<circle cx="549.89" cy="175.34" r="1.40"/>
<circle cx="549.89" cy="178.04" r="1.40"/>
<circle cx="554.66" cy="164.03" r="1.40"/>
<circle cx="558.17" cy="168.97" r="1.40"/>
<circle cx="557.05" cy="173.27" r="1.40"/>
<circle cx="558.64" cy="174.86" r="1.40"/>
<circle cx="561.03" cy="172.79" r="1.40"/>
<circle cx="562.31" cy="171.20" r="1.40"/>
<circle cx="564.22" cy="171.20" r="1.40"/>
<circle cx="566.61" cy="170.88" r="1.40"/>
<circle cx="565.01" cy="178.52" r="1.40"/>
<circle cx="568.20" cy="175.97" r="1.40"/>
<circle cx="568.20" cy="177.57" r="1.40"/>
<circle cx="561.03" cy="154.48" r="1.40"/>
<circle cx="572.18" cy="153.04" r="1.40"/>
<circle cx="579.82" cy="159.73" r="1.40"/>
<circle cx="581.73" cy="161.01" r="1.40"/>
<circle cx="588.58" cy="171.20" r="1.40"/>
<circle cx="588.58" cy="173.27" r="1.40"/>
<circle cx="588.58" cy="175.34" r="1.40"/>
<circle cx="588.58" cy="177.25" r="1.40"/>
<circle cx="602.43" cy="160.53" r="1.40"/>
<circle cx="602.43" cy="161.64" r="1.40"/>
<circle cx="616.29" cy="177.25" r="1.40"/>
<circle cx="530.91" cy="176.84" r="1.40"/>
<circle cx="528.05" cy="171.82" r="1.40"/>
<circle cx="527.10" cy="176.27" r="1.40"/>
<circle cx="526.20" cy="160.63" r="1.40"/>
<circle cx="531.09" cy="171.00" r="1.40"/>
<circle cx="531.55" cy="173.54" r="1.40"/>
<circle cx="535.67" cy="176.37" r="1.40"/>
<circle cx="533.86" cy="171.30" r="1.40"/>
<circle cx="532.02" cy="168.64" r="1.40"/>
<circle cx="533.98" cy="177.47" r="1.40"/>
<circle cx="530.64" cy="163.16" r="1.40"/>
<circle cx="530.44" cy="156.69" r="1.40"/>
<circle cx="534.78" cy="166.45" r="1.40"/>
<circle cx="532.49" cy="161.85" r="1.40"/>
<circle cx="534.10" cy="158.62" r="1.40"/>
<circle cx="533.33" cy="156.50" r="1.40"/>
<circle cx="535.27" cy="160.74" r="1.40"/>
<circle cx="526.04" cy="167.99" r="1.40"/>
<circle cx="531.68" cy="158.36" r="1.40"/>
<circle cx="532.03" cy="164.96" r="1.40"/>
<circle cx="528.61" cy="165.48" r="1.40"/>
<circle cx="528.89" cy="168.53" r="1.40"/>
<circle cx="534.14" cy="164.04" r="1.40"/>
<circle cx="526.54" cy="163.35" r="1.40"/>
<circle cx="526.24" cy="156.78" r="1.40"/>
<circle cx="532.24" cy="178.44" r="1.40"/>
<circle cx="529.02" cy="175.91" r="1.40"/>
<circle cx="528.63" cy="155.57" r="1.40"/>
<circle cx="531.44" cy="166.78" r="1.40"/>
<circle cx="529.50" cy="160.27" r="1.40"/>
<circle cx="534.01" cy="169.18" r="1.40"/>
<circle cx="526.74" cy="174.06" r="1.40"/>
<circle cx="574.73" cy="158.63" r="1.40"/>
<circle cx="574.73" cy="159.27" r="1.40"/>
<circle cx="574.73" cy="162.72" r="1.40"/>
<circle cx="574.73" cy="163.03" r="1.40"/>
<circle cx="574.73" cy="166.24" r="1.40"/>
<circle cx="574.73" cy="169.06" r="1.40"/>
<circle cx="574.73" cy="170.98" r="1.40"/>
<circle cx="574.73" cy="171.30" r="1.40"/>
<circle cx="574.73" cy="173.46" r="1.40"/>
<circle cx="574.73" cy="176.66" r="1.40"/>
<circle cx="574.73" cy="179.21" r="1.40"/>
</g>
<path d="M450.25 187.50v-2.0M484.75 187.50v-2.0M519.25 187.50v-2.0M553.75 187.50v-2.0M588.25 187.50v-2.0M622.75 187.50v-2.0M442.55 187.50h2.1M442.55 175.70h2.1M442.55 163.90h2.1M442.55 152.10h2.1M442.55 140.30h2.1M442.55 128.50h2.1M442.55 116.70h2.1" stroke="#444" stroke-width="0.7" fill="none"/>
<rect x="442.55" y="106.00" width="182.05" height="81.50" fill="none" stroke="#444" stroke-width="0.7"/>
<g font-family="Liberation Serif, serif" font-size="6.70" fill="#000" stroke="#000" stroke-width="0.1">
<text x="450.25" y="194.25" transform="rotate(0.05 450.25 194.25)" text-anchor="middle">0.0</text>
<text x="484.75" y="194.25" transform="rotate(0.05 484.75 194.25)" text-anchor="middle">0.5</text>
<text x="519.25" y="194.25" transform="rotate(0.05 519.25 194.25)" text-anchor="middle">1.0</text>
<text x="553.75" y="194.25" transform="rotate(0.05 553.75 194.25)" text-anchor="middle">1.5</text>
<text x="588.25" y="194.25" transform="rotate(0.05 588.25 194.25)" text-anchor="middle">2.0</text>
<text x="622.75" y="194.25" transform="rotate(0.05 622.75 194.25)" text-anchor="middle">2.5</text>
<text x="439.75" y="190.04" transform="rotate(0.05 439.75 190.04)" text-anchor="end">0</text>
<text x="439.75" y="178.24" transform="rotate(0.05 439.75 178.24)" text-anchor="end">25</text>
<text x="439.75" y="166.44" transform="rotate(0.05 439.75 166.44)" text-anchor="end">50</text>
<text x="439.75" y="154.64" transform="rotate(0.05 439.75 154.64)" text-anchor="end">75</text>
<text x="439.75" y="142.84" transform="rotate(0.05 439.75 142.84)" text-anchor="end">100</text>
<text x="439.75" y="131.04" transform="rotate(0.05 439.75 131.04)" text-anchor="end">125</text>
<text x="439.75" y="119.25" transform="rotate(0.05 439.75 119.25)" text-anchor="end">150</text>
</g>
<g font-family="Liberation Serif, serif" font-size="6.60" fill="#000" stroke="#000" stroke-width="0.1">
<text x="533.58" y="202.46" transform="rotate(0.05 533.58 202.46)" text-anchor="middle">SS</text>
<text transform="translate(424.25 146.75) rotate(-89.95)" text-anchor="middle" y="2.31">CS</text>
</g>
<g fill="#ff0000">
<circle cx="30.44" cy="253.70" r="1.40"/>
<circle cx="30.44" cy="261.66" r="1.40"/>
<circle cx="30.44" cy="269.93" r="1.40"/>
<circle cx="30.44" cy="271.65" r="1.40"/>
<circle cx="30.44" cy="272.61" r="1.40"/>
<circle cx="30.44" cy="273.68" r="1.40"/>
<circle cx="30.44" cy="274.11" r="1.40"/>
<circle cx="30.44" cy="276.17" r="1.40"/>
<circle cx="30.44" cy="277.07" r="1.40"/>
<circle cx="30.44" cy="278.68" r="1.40"/>
<circle cx="51.30" cy="247.81" r="1.40"/>
<circle cx="51.30" cy="255.29" r="1.40"/>
<circle cx="51.30" cy="259.75" r="1.40"/>
<circle cx="51.30" cy="261.34" r="1.40"/>
<circle cx="51.30" cy="262.46" r="1.40"/>
<circle cx="51.30" cy="271.69" r="1.40"/>
<circle cx="51.30" cy="277.59" r="1.40"/>
<circle cx="61.49" cy="274.40" r="1.40"/>
<circle cx="63.72" cy="270.10" r="1.40"/>
<circle cx="72.16" cy="237.94" r="1.40"/>
<circle cx="72.16" cy="239.05" r="1.40"/>
<circle cx="72.16" cy="247.01" r="1.40"/>
<circle cx="72.16" cy="248.61" r="1.40"/>
<circle cx="72.16" cy="255.37" r="1.40"/>
<circle cx="72.16" cy="256.03" r="1.40"/>
<circle cx="72.16" cy="257.84" r="1.40"/>
<circle cx="72.16" cy="258.66" r="1.40"/>
<circle cx="72.16" cy="259.91" r="1.40"/>
<circle cx="72.16" cy="260.49" r="1.40"/>
<circle cx="72.16" cy="261.58" r="1.40"/>
<circle cx="72.16" cy="262.02" r="1.40"/>
<circle cx="72.16" cy="263.41" r="1.40"/>
<circle cx="72.16" cy="264.07" r="1.40"/>
<circle cx="72.16" cy="265.74" r="1.40"/>
<circle cx="72.16" cy="265.94" r="1.40"/>
<circle cx="72.16" cy="266.97" r="1.40"/>
<circle cx="72.16" cy="268.27" r="1.40"/>
<circle cx="72.16" cy="269.28" r="1.40"/>
<circle cx="72.16" cy="270.77" r="1.40"/>
<circle cx="72.16" cy="271.45" r="1.40"/>
<circle cx="72.16" cy="272.42" r="1.40"/>
<circle cx="72.16" cy="273.15" r="1.40"/>
<circle cx="72.16" cy="274.08" r="1.40"/>
<circle cx="72.16" cy="275.43" r="1.40"/>
<circle cx="72.16" cy="276.00" r="1.40"/>
<circle cx="72.16" cy="277.78" r="1.40"/>
<circle cx="72.16" cy="278.20" r="1.40"/>
<circle cx="72.16" cy="279.44" r="1.40"/>
<circle cx="72.16" cy="279.86" r="1.40"/>
<circle cx="72.16" cy="281.20" r="1.40"/>
<circle cx="72.16" cy="282.12" r="1.40"/>
<circle cx="80.44" cy="269.78" r="1.40"/>
<circle cx="80.44" cy="273.29" r="1.40"/>
<circle cx="84.58" cy="269.61" r="1.40"/>
<circle cx="84.58" cy="270.14" r="1.40"/>
<circle cx="84.58" cy="272.91" r="1.40"/>
<circle cx="84.58" cy="273.90" r="1.40"/>
<circle cx="84.58" cy="275.17" r="1.40"/>
<circle cx="84.58" cy="277.53" r="1.40"/>
<circle cx="84.58" cy="278.18" r="1.40"/>
<circle cx="84.58" cy="279.48" r="1.40"/>
<circle cx="84.58" cy="280.78" r="1.40"/>
<circle cx="84.58" cy="283.40" r="1.40"/>
<circle cx="88.72" cy="252.90" r="1.40"/>
<circle cx="88.72" cy="254.97" r="1.40"/>
<circle cx="88.72" cy="261.34" r="1.40"/>
<circle cx="88.72" cy="266.12" r="1.40"/>
<circle cx="88.72" cy="268.51" r="1.40"/>
<circle cx="88.72" cy="270.90" r="1.40"/>
<circle cx="88.72" cy="274.88" r="1.40"/>
<circle cx="88.72" cy="277.27" r="1.40"/>
<circle cx="88.72" cy="279.66" r="1.40"/>
<circle cx="92.86" cy="247.01" r="1.40"/>
<circle cx="92.86" cy="255.35" r="1.40"/>
<circle cx="92.86" cy="256.82" r="1.40"/>
<circle cx="92.86" cy="258.45" r="1.40"/>
<circle cx="92.86" cy="259.68" r="1.40"/>
<circle cx="92.86" cy="260.98" r="1.40"/>
<circle cx="92.86" cy="261.59" r="1.40"/>
<circle cx="92.86" cy="263.87" r="1.40"/>
<circle cx="92.86" cy="265.17" r="1.40"/>
<circle cx="92.86" cy="266.09" r="1.40"/>
<circle cx="92.86" cy="268.37" r="1.40"/>
<circle cx="92.86" cy="269.35" r="1.40"/>
<circle cx="92.86" cy="271.04" r="1.40"/>
<circle cx="92.86" cy="272.34" r="1.40"/>
<circle cx="92.86" cy="274.25" r="1.40"/>
<circle cx="92.86" cy="275.08" r="1.40"/>
<circle cx="92.86" cy="276.60" r="1.40"/>
<circle cx="92.86" cy="278.62" r="1.40"/>
<circle cx="92.86" cy="279.61" r="1.40"/>
<circle cx="97.00" cy="250.99" r="1.40"/>
<circle cx="97.00" cy="258.16" r="1.40"/>
<circle cx="97.00" cy="260.55" r="1.40"/>
<circle cx="97.00" cy="262.94" r="1.40"/>
<circle cx="97.00" cy="265.32" r="1.40"/>
<circle cx="97.00" cy="268.19" r="1.40"/>
<circle cx="97.00" cy="271.69" r="1.40"/>
<circle cx="101.14" cy="258.16" r="1.40"/>
<circle cx="101.14" cy="259.75" r="1.40"/>
<circle cx="101.14" cy="271.38" r="1.40"/>
<circle cx="103.21" cy="270.10" r="1.40"/>
<circle cx="105.28" cy="272.49" r="1.40"/>
<circle cx="103.21" cy="274.88" r="1.40"/>
<circle cx="103.21" cy="277.27" r="1.40"/>
<circle cx="103.21" cy="279.66" r="1.40"/>
<circle cx="103.21" cy="282.36" r="1.40"/>
<circle cx="105.28" cy="259.27" r="1.40"/>
<circle cx="105.28" cy="262.94" r="1.40"/>
<circle cx="105.28" cy="266.12" r="1.40"/>
<circle cx="109.26" cy="258.96" r="1.40"/>
<circle cx="113.40" cy="214.44" r="1.40"/>
<circle cx="113.40" cy="216.33" r="1.40"/>
<circle cx="113.40" cy="217.14" r="1.40"/>
<circle cx="113.40" cy="218.78" r="1.40"/>
<circle cx="113.40" cy="219.14" r="1.40"/>
<circle cx="113.40" cy="220.67" r="1.40"/>
<circle cx="113.40" cy="221.77" r="1.40"/>
<circle cx="113.40" cy="229.26" r="1.40"/>
<circle cx="113.40" cy="230.42" r="1.40"/>
<circle cx="113.40" cy="231.09" r="1.40"/>
<circle cx="113.40" cy="232.15" r="1.40"/>
<circle cx="113.40" cy="232.62" r="1.40"/>
<circle cx="113.40" cy="234.54" r="1.40"/>
<circle cx="113.40" cy="235.01" r="1.40"/>
<circle cx="113.40" cy="235.74" r="1.40"/>
<circle cx="113.40" cy="237.01" r="1.40"/>
<circle cx="113.40" cy="237.51" r="1.40"/>
<circle cx="113.40" cy="239.34" r="1.40"/>
<circle cx="113.40" cy="240.41" r="1.40"/>
<circle cx="113.40" cy="241.30" r="1.40"/>
<circle cx="113.40" cy="241.41" r="1.40"/>
<circle cx="113.40" cy="243.11" r="1.40"/>
<circle cx="113.40" cy="243.97" r="1.40"/>
<circle cx="113.40" cy="245.09" r="1.40"/>
<circle cx="113.40" cy="245.35" r="1.40"/>
<circle cx="113.40" cy="246.45" r="1.40"/>
<circle cx="113.40" cy="247.51" r="1.40"/>
<circle cx="113.40" cy="248.75" r="1.40"/>
<circle cx="113.40" cy="250.15" r="1.40"/>
<circle cx="113.40" cy="250.18" r="1.40"/>
<circle cx="113.40" cy="251.48" r="1.40"/>
<circle cx="113.40" cy="252.93" r="1.40"/>
<circle cx="113.40" cy="253.81" r="1.40"/>
<circle cx="113.40" cy="254.39" r="1.40"/>
<circle cx="113.40" cy="255.58" r="1.40"/>
<circle cx="113.40" cy="256.51" r="1.40"/>
<circle cx="113.40" cy="257.13" r="1.40"/>
<circle cx="113.40" cy="258.64" r="1.40"/>
<circle cx="113.40" cy="259.15" r="1.40"/>
<circle cx="113.40" cy="260.14" r="1.40"/>
<circle cx="113.40" cy="261.68" r="1.40"/>
<circle cx="113.40" cy="262.17" r="1.40"/>
<circle cx="113.40" cy="263.37" r="1.40"/>
<circle cx="113.40" cy="264.35" r="1.40"/>
<circle cx="113.40" cy="264.96" r="1.40"/>
<circle cx="113.40" cy="265.95" r="1.40"/>
<circle cx="113.40" cy="267.07" r="1.40"/>
<circle cx="113.40" cy="268.60" r="1.40"/>
<circle cx="113.40" cy="269.11" r="1.40"/>
<circle cx="113.40" cy="269.86" r="1.40"/>
<circle cx="113.40" cy="271.43" r="1.40"/>
<circle cx="113.40" cy="271.96" r="1.40"/>
<circle cx="113.40" cy="273.35" r="1.40"/>
<circle cx="113.40" cy="273.88" r="1.40"/>
<circle cx="113.40" cy="274.82" r="1.40"/>
<circle cx="113.40" cy="275.55" r="1.40"/>
<circle cx="113.40" cy="277.00" r="1.40"/>
<circle cx="113.40" cy="278.37" r="1.40"/>
<circle cx="113.40" cy="278.64" r="1.40"/>
<circle cx="113.40" cy="279.52" r="1.40"/>
<circle cx="113.40" cy="281.17" r="1.40"/>
<circle cx="113.40" cy="282.34" r="1.40"/>
<circle cx="113.40" cy="282.68" r="1.40"/>
<circle cx="113.40" cy="284.25" r="1.40"/>
<circle cx="113.40" cy="284.47" r="1.40"/>
<circle cx="113.40" cy="286.10" r="1.40"/>
<circle cx="113.40" cy="286.92" r="1.40"/>
<circle cx="113.40" cy="288.03" r="1.40"/>
<circle cx="113.40" cy="288.44" r="1.40"/>
<circle cx="121.84" cy="220.42" r="1.40"/>
<circle cx="121.84" cy="222.33" r="1.40"/>
<circle cx="121.84" cy="223.61" r="1.40"/>
<circle cx="121.84" cy="227.11" r="1.40"/>
<circle cx="134.25" cy="267.25" r="1.40"/>
<circle cx="134.25" cy="269.25" r="1.40"/>
<circle cx="134.25" cy="271.50" r="1.40"/>
<circle cx="134.25" cy="276.75" r="1.40"/>
<circle cx="155.00" cy="272.25" r="1.40"/>
<circle cx="196.25" cy="273.25" r="1.40"/>
</g>
<path d="M30.50 292.30v-2.0M51.25 292.30v-2.0M72.00 292.30v-2.0M92.75 292.30v-2.0M113.50 292.30v-2.0M134.25 292.30v-2.0M155.00 292.30v-2.0M175.75 292.30v-2.0M196.50 292.30v-2.0M22.60 292.30h2.1M22.60 280.50h2.1M22.60 268.70h2.1M22.60 256.90h2.1M22.60 245.10h2.1M22.60 233.30h2.1M22.60 221.50h2.1" stroke="#444" stroke-width="0.7" fill="none"/>
<rect x="22.60" y="210.50" width="182.00" height="81.80" fill="none" stroke="#444" stroke-width="0.7"/>
<g font-family="Liberation Serif, serif" font-size="6.70" fill="#000" stroke="#000" stroke-width="0.1">
<text x="30.50" y="299.05" transform="rotate(0.05 30.50 299.05)" text-anchor="middle">0.0</text>
<text x="51.25" y="299.05" transform="rotate(0.05 51.25 299.05)" text-anchor="middle">0.5</text>
<text x="72.00" y="299.05" transform="rotate(0.05 72.00 299.05)" text-anchor="middle">1.0</text>
<text x="92.75" y="299.05" transform="rotate(0.05 92.75 299.05)" text-anchor="middle">1.5</text>
<text x="113.50" y="299.05" transform="rotate(0.05 113.50 299.05)" text-anchor="middle">2.0</text>
<text x="134.25" y="299.05" transform="rotate(0.05 134.25 299.05)" text-anchor="middle">2.5</text>
<text x="155.00" y="299.05" transform="rotate(0.05 155.00 299.05)" text-anchor="middle">3.0</text>
<text x="175.75" y="299.05" transform="rotate(0.05 175.75 299.05)" text-anchor="middle">3.5</text>
<text x="196.50" y="299.05" transform="rotate(0.05 196.50 299.05)" text-anchor="middle">4.0</text>
<text x="19.80" y="294.85" transform="rotate(0.05 19.80 294.85)" text-anchor="end">0</text>
<text x="19.80" y="283.05" transform="rotate(0.05 19.80 283.05)" text-anchor="end">25</text>
<text x="19.80" y="271.25" transform="rotate(0.05 19.80 271.25)" text-anchor="end">50</text>
<text x="19.80" y="259.45" transform="rotate(0.05 19.80 259.45)" text-anchor="end">75</text>
<text x="19.80" y="247.65" transform="rotate(0.05 19.80 247.65)" text-anchor="end">100</text>
<text x="19.80" y="235.84" transform="rotate(0.05 19.80 235.84)" text-anchor="end">125</text>
<text x="19.80" y="224.04" transform="rotate(0.05 19.80 224.04)" text-anchor="end">150</text>
</g>
<g font-family="Liberation Serif, serif" font-size="6.60" fill="#000" stroke="#000" stroke-width="0.1">
<text x="113.60" y="307.26" transform="rotate(0.05 113.60 307.26)" text-anchor="middle">FCO</text>
<text transform="translate(4.30 251.40) rotate(-89.95)" text-anchor="middle" y="2.31">CS</text>
</g>
<g fill="#ff0000">
<circle cx="262.57" cy="214.05" r="1.40"/>
<circle cx="260.34" cy="217.24" r="1.40"/>
<circle cx="260.34" cy="219.62" r="1.40"/>
<circle cx="266.55" cy="218.83" r="1.40"/>
<circle cx="266.55" cy="219.94" r="1.40"/>
<circle cx="270.22" cy="216.76" r="1.40"/>
<circle cx="270.22" cy="222.01" r="1.40"/>
<circle cx="271.81" cy="223.13" r="1.40"/>
<circle cx="270.22" cy="229.02" r="1.40"/>
<circle cx="278.97" cy="221.54" r="1.40"/>
<circle cx="278.97" cy="227.11" r="1.40"/>
<circle cx="278.97" cy="235.07" r="1.40"/>
<circle cx="265.12" cy="235.87" r="1.40"/>
<circle cx="265.12" cy="237.78" r="1.40"/>
<circle cx="275.31" cy="237.78" r="1.40"/>
<circle cx="275.31" cy="239.85" r="1.40"/>
<circle cx="273.72" cy="242.71" r="1.40"/>
<circle cx="271.49" cy="246.22" r="1.40"/>
<circle cx="271.81" cy="247.81" r="1.40"/>
<circle cx="276.59" cy="247.01" r="1.40"/>
<circle cx="276.59" cy="249.72" r="1.40"/>
<circle cx="277.38" cy="253.38" r="1.40"/>
<circle cx="285.34" cy="235.87" r="1.40"/>
<circle cx="287.41" cy="235.87" r="1.40"/>
<circle cx="285.34" cy="238.25" r="1.40"/>
<circle cx="285.34" cy="240.64" r="1.40"/>
<circle cx="281.68" cy="241.12" r="1.40"/>
<circle cx="281.68" cy="245.42" r="1.40"/>
<circle cx="281.68" cy="250.68" r="1.40"/>
<circle cx="282.64" cy="255.77" r="1.40"/>
<circle cx="282.96" cy="261.34" r="1.40"/>
<circle cx="279.77" cy="255.77" r="1.40"/>
<circle cx="289.32" cy="242.24" r="1.40"/>
<circle cx="294.10" cy="241.92" r="1.40"/>
<circle cx="290.12" cy="247.01" r="1.40"/>
<circle cx="286.94" cy="255.45" r="1.40"/>
<circle cx="290.12" cy="253.38" r="1.40"/>
<circle cx="292.51" cy="253.38" r="1.40"/>
<circle cx="286.94" cy="263.73" r="1.40"/>
<circle cx="290.12" cy="259.27" r="1.40"/>
<circle cx="294.10" cy="259.75" r="1.40"/>
<circle cx="290.12" cy="262.14" r="1.40"/>
<circle cx="291.71" cy="263.73" r="1.40"/>
<circle cx="290.12" cy="266.12" r="1.40"/>
<circle cx="290.12" cy="268.51" r="1.40"/>
<circle cx="290.12" cy="270.90" r="1.40"/>
<circle cx="290.12" cy="272.49" r="1.40"/>
<circle cx="302.06" cy="247.01" r="1.40"/>
<circle cx="298.88" cy="253.70" r="1.40"/>
<circle cx="298.88" cy="262.14" r="1.40"/>
<circle cx="298.88" cy="263.73" r="1.40"/>
<circle cx="298.88" cy="269.31" r="1.40"/>
<circle cx="298.08" cy="273.29" r="1.40"/>
<circle cx="302.86" cy="279.34" r="1.40"/>
<circle cx="312.89" cy="237.94" r="1.40"/>
<circle cx="324.04" cy="237.94" r="1.40"/>
<circle cx="310.34" cy="264.53" r="1.40"/>
<circle cx="316.39" cy="261.82" r="1.40"/>
<circle cx="315.28" cy="265.64" r="1.40"/>
<circle cx="315.28" cy="266.92" r="1.40"/>
<circle cx="311.14" cy="273.29" r="1.40"/>
<circle cx="315.28" cy="277.27" r="1.40"/>
<circle cx="319.26" cy="275.99" r="1.40"/>
<circle cx="309.55" cy="286.03" r="1.40"/>
<circle cx="309.55" cy="288.41" r="1.40"/>
<circle cx="282.96" cy="282.04" r="1.40"/>
<circle cx="257.16" cy="286.03" r="1.40"/>
<circle cx="240.76" cy="265.32" r="1.40"/>
<circle cx="244.79" cy="275.77" r="1.40"/>
<circle cx="249.55" cy="265.66" r="1.40"/>
<circle cx="254.37" cy="272.12" r="1.40"/>
<circle cx="247.38" cy="266.88" r="1.40"/>
<circle cx="260.65" cy="268.42" r="1.40"/>
<circle cx="260.12" cy="278.52" r="1.40"/>
<circle cx="246.45" cy="266.52" r="1.40"/>
<circle cx="261.98" cy="273.90" r="1.40"/>
<circle cx="266.28" cy="279.58" r="1.40"/>
<circle cx="245.88" cy="267.87" r="1.40"/>
<circle cx="246.01" cy="277.21" r="1.40"/>
<circle cx="255.87" cy="274.29" r="1.40"/>
<circle cx="255.52" cy="279.35" r="1.40"/>
<circle cx="257.79" cy="267.96" r="1.40"/>
<circle cx="242.73" cy="271.76" r="1.40"/>
<circle cx="267.82" cy="264.51" r="1.40"/>
<circle cx="260.40" cy="275.11" r="1.40"/>
<circle cx="244.14" cy="265.86" r="1.40"/>
<circle cx="260.47" cy="270.88" r="1.40"/>
<circle cx="251.80" cy="271.82" r="1.40"/>
<circle cx="242.31" cy="276.71" r="1.40"/>
<circle cx="257.44" cy="273.00" r="1.40"/>
<circle cx="249.71" cy="279.05" r="1.40"/>
<circle cx="264.75" cy="273.23" r="1.40"/>
<circle cx="241.92" cy="264.57" r="1.40"/>
<circle cx="243.89" cy="263.06" r="1.40"/>
<circle cx="259.30" cy="273.20" r="1.40"/>
<circle cx="245.50" cy="281.20" r="1.40"/>
<circle cx="258.72" cy="278.63" r="1.40"/>
<circle cx="264.57" cy="276.21" r="1.40"/>
<circle cx="243.29" cy="276.38" r="1.40"/>
<circle cx="266.62" cy="271.78" r="1.40"/>
<circle cx="264.54" cy="265.30" r="1.40"/>
<circle cx="252.09" cy="267.25" r="1.40"/>
<circle cx="251.49" cy="276.66" r="1.40"/>
<circle cx="243.62" cy="268.73" r="1.40"/>
<circle cx="265.44" cy="267.92" r="1.40"/>
<circle cx="256.90" cy="264.53" r="1.40"/>
<circle cx="244.22" cy="277.46" r="1.40"/>
<circle cx="259.42" cy="270.65" r="1.40"/>
<circle cx="255.14" cy="273.53" r="1.40"/>
<circle cx="253.42" cy="263.55" r="1.40"/>
<circle cx="263.03" cy="278.15" r="1.40"/>
<circle cx="252.27" cy="270.16" r="1.40"/>
<circle cx="258.12" cy="271.64" r="1.40"/>
<circle cx="252.06" cy="280.46" r="1.40"/>
<circle cx="244.51" cy="278.46" r="1.40"/>
<circle cx="248.38" cy="262.62" r="1.40"/>
<circle cx="269.37" cy="272.77" r="1.40"/>
<circle cx="268.05" cy="267.07" r="1.40"/>
<circle cx="241.54" cy="279.66" r="1.40"/>
<circle cx="243.21" cy="267.89" r="1.40"/>
<circle cx="257.40" cy="262.75" r="1.40"/>
<circle cx="249.37" cy="274.50" r="1.40"/>
<circle cx="255.09" cy="277.52" r="1.40"/>
<circle cx="244.21" cy="264.32" r="1.40"/>
<circle cx="242.49" cy="279.74" r="1.40"/>
<circle cx="265.10" cy="267.02" r="1.40"/>
<circle cx="264.93" cy="278.27" r="1.40"/>
<circle cx="255.63" cy="263.26" r="1.40"/>
<circle cx="261.18" cy="280.42" r="1.40"/>
<circle cx="244.21" cy="282.63" r="1.40"/>
<circle cx="242.07" cy="269.28" r="1.40"/>
<circle cx="255.90" cy="275.28" r="1.40"/>
<circle cx="255.61" cy="281.13" r="1.40"/>
<circle cx="263.21" cy="280.08" r="1.40"/>
<circle cx="239.81" cy="275.46" r="1.40"/>
<circle cx="268.21" cy="265.50" r="1.40"/>
<circle cx="251.50" cy="277.72" r="1.40"/>
<circle cx="243.51" cy="275.42" r="1.40"/>
<circle cx="261.43" cy="271.08" r="1.40"/>
<circle cx="239.70" cy="270.60" r="1.40"/>
<circle cx="267.88" cy="272.51" r="1.40"/>
<circle cx="247.50" cy="264.33" r="1.40"/>
<circle cx="254.67" cy="266.63" r="1.40"/>
<circle cx="254.89" cy="274.70" r="1.40"/>
<circle cx="248.24" cy="282.99" r="1.40"/>
<circle cx="248.07" cy="281.37" r="1.40"/>
<circle cx="266.19" cy="273.76" r="1.40"/>
<circle cx="245.87" cy="265.00" r="1.40"/>
<circle cx="246.50" cy="270.33" r="1.40"/>
<circle cx="264.88" cy="280.26" r="1.40"/>
<circle cx="240.07" cy="273.23" r="1.40"/>
<circle cx="246.90" cy="263.17" r="1.40"/>
<circle cx="260.67" cy="271.96" r="1.40"/>
<circle cx="249.18" cy="267.09" r="1.40"/>
<circle cx="248.44" cy="265.62" r="1.40"/>
<circle cx="268.12" cy="276.33" r="1.40"/>
<circle cx="259.54" cy="262.72" r="1.40"/>
<circle cx="251.32" cy="263.30" r="1.40"/>
<circle cx="269.18" cy="271.75" r="1.40"/>
<circle cx="252.55" cy="265.70" r="1.40"/>
<circle cx="245.46" cy="274.20" r="1.40"/>
<circle cx="243.06" cy="279.04" r="1.40"/>
<circle cx="240.88" cy="275.95" r="1.40"/>
<circle cx="261.74" cy="268.74" r="1.40"/>
<circle cx="257.32" cy="279.93" r="1.40"/>
<circle cx="264.81" cy="268.59" r="1.40"/>
<circle cx="247.21" cy="282.12" r="1.40"/>
<circle cx="246.42" cy="271.64" r="1.40"/>
<circle cx="253.61" cy="276.02" r="1.40"/>
<circle cx="265.51" cy="272.04" r="1.40"/>
<circle cx="245.09" cy="264.54" r="1.40"/>
<circle cx="248.70" cy="269.72" r="1.40"/>
<circle cx="268.99" cy="269.93" r="1.40"/>
<circle cx="257.46" cy="253.70" r="1.40"/>
<circle cx="265.25" cy="260.41" r="1.40"/>
<circle cx="243.94" cy="261.65" r="1.40"/>
<circle cx="268.83" cy="257.56" r="1.40"/>
<circle cx="266.18" cy="258.24" r="1.40"/>
<circle cx="248.58" cy="260.39" r="1.40"/>
<circle cx="259.29" cy="257.02" r="1.40"/>
<circle cx="262.17" cy="258.20" r="1.40"/>
<circle cx="252.82" cy="256.25" r="1.40"/>
<circle cx="247.03" cy="255.85" r="1.40"/>
<circle cx="263.22" cy="254.53" r="1.40"/>
<circle cx="254.05" cy="253.31" r="1.40"/>
<circle cx="244.46" cy="259.03" r="1.40"/>
<circle cx="246.73" cy="262.02" r="1.40"/>
<circle cx="252.01" cy="259.42" r="1.40"/>
<circle cx="260.25" cy="253.92" r="1.40"/>
<circle cx="255.54" cy="258.18" r="1.40"/>
<circle cx="250.53" cy="253.43" r="1.40"/>
<circle cx="256.99" cy="260.00" r="1.40"/>
<circle cx="249.32" cy="258.21" r="1.40"/>
<circle cx="251.03" cy="262.08" r="1.40"/>
<circle cx="244.48" cy="256.48" r="1.40"/>
<circle cx="259.52" cy="260.63" r="1.40"/>
<circle cx="267.72" cy="260.49" r="1.40"/>
<circle cx="254.24" cy="260.45" r="1.40"/>
<circle cx="265.29" cy="256.12" r="1.40"/>
<circle cx="259.07" cy="246.22" r="1.40"/>
<circle cx="260.66" cy="248.61" r="1.40"/>
<circle cx="255.89" cy="250.68" r="1.40"/>
<circle cx="252.70" cy="250.99" r="1.40"/>
<circle cx="245.54" cy="253.38" r="1.40"/>
<circle cx="247.13" cy="254.50" r="1.40"/>
<circle cx="261.46" cy="250.99" r="1.40"/>
<circle cx="277.37" cy="265.13" r="1.40"/>
<circle cx="274.23" cy="271.09" r="1.40"/>
<circle cx="270.11" cy="273.95" r="1.40"/>
<circle cx="271.63" cy="262.28" r="1.40"/>
<circle cx="282.22" cy="267.40" r="1.40"/>
<circle cx="273.35" cy="279.41" r="1.40"/>
<circle cx="278.26" cy="274.85" r="1.40"/>
<circle cx="283.68" cy="270.54" r="1.40"/>
<circle cx="274.69" cy="262.34" r="1.40"/>
<circle cx="279.51" cy="268.96" r="1.40"/>
<circle cx="278.87" cy="271.54" r="1.40"/>
<circle cx="271.66" cy="265.59" r="1.40"/>
<circle cx="275.56" cy="268.50" r="1.40"/>
<circle cx="274.08" cy="275.84" r="1.40"/>
<circle cx="268.71" cy="281.48" r="1.40"/>
<circle cx="281.36" cy="273.98" r="1.40"/>
<circle cx="270.06" cy="279.05" r="1.40"/>
<circle cx="274.56" cy="266.03" r="1.40"/>
<circle cx="273.32" cy="259.35" r="1.40"/>
<circle cx="324.00" cy="238.00" r="1.40"/>
<circle cx="334.00" cy="244.00" r="1.40"/>
<circle cx="344.00" cy="232.75" r="1.40"/>
<circle cx="377.75" cy="232.25" r="1.40"/>
<circle cx="406.50" cy="231.25" r="1.40"/>
<circle cx="316.50" cy="261.50" r="1.40"/>
<circle cx="315.25" cy="266.00" r="1.40"/>
<circle cx="331.50" cy="265.50" r="1.40"/>
<circle cx="319.50" cy="276.00" r="1.40"/>
<circle cx="315.25" cy="277.25" r="1.40"/>
<circle cx="334.50" cy="278.00" r="1.40"/>
<circle cx="329.00" cy="282.25" r="1.40"/>
<circle cx="344.00" cy="282.25" r="1.40"/>
</g>
<path d="M240.25 292.30v-2.0M265.25 292.30v-2.0M290.25 292.30v-2.0M315.25 292.30v-2.0M340.25 292.30v-2.0M365.25 292.30v-2.0M390.25 292.30v-2.0M232.60 292.30h2.1M232.60 280.50h2.1M232.60 268.70h2.1M232.60 256.90h2.1M232.60 245.10h2.1M232.60 233.30h2.1M232.60 221.50h2.1" stroke="#444" stroke-width="0.7" fill="none"/>
<rect x="232.60" y="210.50" width="182.00" height="81.80" fill="none" stroke="#444" stroke-width="0.7"/>
<g font-family="Liberation Serif, serif" font-size="6.70" fill="#000" stroke="#000" stroke-width="0.1">
<text x="240.25" y="299.05" transform="rotate(0.05 240.25 299.05)" text-anchor="middle">0</text>
<text x="265.25" y="299.05" transform="rotate(0.05 265.25 299.05)" text-anchor="middle">2</text>
<text x="290.25" y="299.05" transform="rotate(0.05 290.25 299.05)" text-anchor="middle">4</text>
<text x="315.25" y="299.05" transform="rotate(0.05 315.25 299.05)" text-anchor="middle">6</text>
<text x="340.25" y="299.05" transform="rotate(0.05 340.25 299.05)" text-anchor="middle">8</text>
<text x="365.25" y="299.05" transform="rotate(0.05 365.25 299.05)" text-anchor="middle">10</text>
<text x="390.25" y="299.05" transform="rotate(0.05 390.25 299.05)" text-anchor="middle">12</text>
<text x="229.80" y="294.85" transform="rotate(0.05 229.80 294.85)" text-anchor="end">0</text>
<text x="229.80" y="283.05" transform="rotate(0.05 229.80 283.05)" text-anchor="end">25</text>
<text x="229.80" y="271.25" transform="rotate(0.05 229.80 271.25)" text-anchor="end">50</text>
<text x="229.80" y="259.45" transform="rotate(0.05 229.80 259.45)" text-anchor="end">75</text>
<text x="229.80" y="247.65" transform="rotate(0.05 229.80 247.65)" text-anchor="end">100</text>
<text x="229.80" y="235.84" transform="rotate(0.05 229.80 235.84)" text-anchor="end">125</text>
<text x="229.80" y="224.04" transform="rotate(0.05 229.80 224.04)" text-anchor="end">150</text>
</g>
<g font-family="Liberation Serif, serif" font-size="6.60" fill="#000" stroke="#000" stroke-width="0.1">
<text x="323.60" y="307.26" transform="rotate(0.05 323.60 307.26)" text-anchor="middle">WR</text>
<text transform="translate(214.30 251.40) rotate(-89.95)" text-anchor="middle" y="2.31">CS</text>
</g>
<g fill="#ff0000">
<circle cx="450.44" cy="253.70" r="1.40"/>
<circle cx="450.44" cy="261.66" r="1.40"/>
<circle cx="450.44" cy="270.11" r="1.40"/>
<circle cx="450.44" cy="271.12" r="1.40"/>
<circle cx="450.44" cy="272.16" r="1.40"/>
<circle cx="450.44" cy="273.23" r="1.40"/>
<circle cx="450.44" cy="274.39" r="1.40"/>
<circle cx="450.44" cy="275.67" r="1.40"/>
<circle cx="450.44" cy="276.60" r="1.40"/>
<circle cx="450.44" cy="278.04" r="1.40"/>
<circle cx="478.15" cy="253.70" r="1.40"/>
<circle cx="481.49" cy="257.36" r="1.40"/>
<circle cx="479.90" cy="259.75" r="1.40"/>
<circle cx="481.49" cy="266.12" r="1.40"/>
<circle cx="484.99" cy="270.90" r="1.40"/>
<circle cx="478.15" cy="261.61" r="1.40"/>
<circle cx="478.15" cy="262.96" r="1.40"/>
<circle cx="478.15" cy="264.55" r="1.40"/>
<circle cx="478.15" cy="266.45" r="1.40"/>
<circle cx="478.15" cy="266.85" r="1.40"/>
<circle cx="478.15" cy="269.08" r="1.40"/>
<circle cx="478.15" cy="270.29" r="1.40"/>
<circle cx="478.15" cy="271.98" r="1.40"/>
<circle cx="478.15" cy="273.16" r="1.40"/>
<circle cx="478.15" cy="273.75" r="1.40"/>
<circle cx="478.15" cy="275.76" r="1.40"/>
<circle cx="478.15" cy="276.65" r="1.40"/>
<circle cx="478.15" cy="278.31" r="1.40"/>
<circle cx="478.15" cy="279.76" r="1.40"/>
<circle cx="478.15" cy="280.76" r="1.40"/>
<circle cx="478.15" cy="281.66" r="1.40"/>
<circle cx="491.84" cy="229.18" r="1.40"/>
<circle cx="491.84" cy="235.87" r="1.40"/>
<circle cx="491.84" cy="250.99" r="1.40"/>
<circle cx="491.84" cy="252.27" r="1.40"/>
<circle cx="489.29" cy="268.03" r="1.40"/>
<circle cx="490.57" cy="277.27" r="1.40"/>
<circle cx="496.46" cy="216.76" r="1.40"/>
<circle cx="491.76" cy="258.66" r="1.40"/>
<circle cx="492.06" cy="260.07" r="1.40"/>
<circle cx="491.69" cy="261.07" r="1.40"/>
<circle cx="491.77" cy="261.21" r="1.40"/>
<circle cx="491.96" cy="262.31" r="1.40"/>
<circle cx="491.62" cy="263.47" r="1.40"/>
<circle cx="491.78" cy="264.50" r="1.40"/>
<circle cx="491.82" cy="265.96" r="1.40"/>
<circle cx="491.95" cy="266.53" r="1.40"/>
<circle cx="491.67" cy="267.28" r="1.40"/>
<circle cx="491.99" cy="268.94" r="1.40"/>
<circle cx="491.58" cy="269.35" r="1.40"/>
<circle cx="491.93" cy="270.77" r="1.40"/>
<circle cx="491.80" cy="271.29" r="1.40"/>
<circle cx="491.59" cy="272.56" r="1.40"/>
<circle cx="491.71" cy="273.46" r="1.40"/>
<circle cx="491.61" cy="274.77" r="1.40"/>
<circle cx="492.07" cy="275.93" r="1.40"/>
<circle cx="491.58" cy="277.00" r="1.40"/>
<circle cx="491.92" cy="277.97" r="1.40"/>
<circle cx="491.77" cy="278.34" r="1.40"/>
<circle cx="492.11" cy="280.00" r="1.40"/>
<circle cx="491.88" cy="281.28" r="1.40"/>
<circle cx="492.12" cy="281.95" r="1.40"/>
<circle cx="491.85" cy="282.58" r="1.40"/>
<circle cx="492.01" cy="283.43" r="1.40"/>
<circle cx="491.67" cy="285.04" r="1.40"/>
<circle cx="491.85" cy="285.59" r="1.40"/>
<circle cx="491.62" cy="287.16" r="1.40"/>
<circle cx="491.85" cy="287.73" r="1.40"/>
<circle cx="493.50" cy="256.16" r="1.40"/>
<circle cx="493.55" cy="258.36" r="1.40"/>
<circle cx="493.38" cy="259.74" r="1.40"/>
<circle cx="493.28" cy="260.71" r="1.40"/>
<circle cx="493.26" cy="262.43" r="1.40"/>
<circle cx="493.48" cy="263.38" r="1.40"/>
<circle cx="493.25" cy="265.03" r="1.40"/>
<circle cx="493.28" cy="267.70" r="1.40"/>
<circle cx="493.13" cy="269.11" r="1.40"/>
<circle cx="493.20" cy="270.01" r="1.40"/>
<circle cx="493.20" cy="271.30" r="1.40"/>
<circle cx="493.48" cy="272.98" r="1.40"/>
<circle cx="493.03" cy="275.28" r="1.40"/>
<circle cx="493.29" cy="276.33" r="1.40"/>
<circle cx="493.00" cy="277.45" r="1.40"/>
<circle cx="493.16" cy="278.87" r="1.40"/>
<circle cx="493.33" cy="280.39" r="1.40"/>
<circle cx="493.15" cy="281.89" r="1.40"/>
<circle cx="497.73" cy="253.86" r="1.40"/>
<circle cx="497.73" cy="258.96" r="1.40"/>
<circle cx="497.73" cy="266.92" r="1.40"/>
<circle cx="497.73" cy="281.25" r="1.40"/>
<circle cx="500.12" cy="262.14" r="1.40"/>
<circle cx="500.12" cy="267.71" r="1.40"/>
<circle cx="500.12" cy="270.90" r="1.40"/>
<circle cx="500.12" cy="273.29" r="1.40"/>
<circle cx="500.12" cy="280.45" r="1.40"/>
<circle cx="502.19" cy="266.92" r="1.40"/>
<circle cx="502.19" cy="269.31" r="1.40"/>
<circle cx="502.19" cy="271.69" r="1.40"/>
<circle cx="504.10" cy="253.38" r="1.40"/>
<circle cx="504.10" cy="255.77" r="1.40"/>
<circle cx="504.10" cy="258.16" r="1.40"/>
<circle cx="504.10" cy="260.55" r="1.40"/>
<circle cx="504.10" cy="266.12" r="1.40"/>
<circle cx="504.10" cy="267.71" r="1.40"/>
<circle cx="505.69" cy="278.54" r="1.40"/>
<circle cx="505.69" cy="279.66" r="1.40"/>
<circle cx="509.36" cy="255.29" r="1.40"/>
<circle cx="509.36" cy="256.25" r="1.40"/>
<circle cx="512.86" cy="214.05" r="1.40"/>
<circle cx="512.86" cy="216.28" r="1.40"/>
<circle cx="512.86" cy="217.87" r="1.40"/>
<circle cx="512.86" cy="219.46" r="1.40"/>
<circle cx="512.86" cy="222.01" r="1.40"/>
<circle cx="513.97" cy="262.14" r="1.40"/>
<circle cx="513.97" cy="269.70" r="1.40"/>
<circle cx="513.97" cy="271.30" r="1.40"/>
<circle cx="513.97" cy="272.41" r="1.40"/>
<circle cx="513.97" cy="274.40" r="1.40"/>
<circle cx="513.97" cy="275.78" r="1.40"/>
<circle cx="513.97" cy="277.31" r="1.40"/>
<circle cx="513.97" cy="278.88" r="1.40"/>
<circle cx="513.97" cy="279.69" r="1.40"/>
<circle cx="513.97" cy="281.97" r="1.40"/>
<circle cx="513.97" cy="282.42" r="1.40"/>
<circle cx="516.84" cy="236.95" r="1.40"/>
<circle cx="516.84" cy="237.83" r="1.40"/>
<circle cx="516.84" cy="240.53" r="1.40"/>
<circle cx="516.84" cy="242.01" r="1.40"/>
<circle cx="516.84" cy="244.43" r="1.40"/>
<circle cx="516.84" cy="245.66" r="1.40"/>
<circle cx="516.84" cy="247.26" r="1.40"/>
<circle cx="516.84" cy="249.24" r="1.40"/>
<circle cx="516.84" cy="251.97" r="1.40"/>
<circle cx="516.84" cy="252.70" r="1.40"/>
<circle cx="519.55" cy="219.46" r="1.40"/>
<circle cx="519.55" cy="221.54" r="1.40"/>
<circle cx="519.55" cy="223.13" r="1.40"/>
<circle cx="519.55" cy="227.11" r="1.40"/>
<circle cx="519.55" cy="231.89" r="1.40"/>
<circle cx="519.55" cy="236.04" r="1.40"/>
<circle cx="519.55" cy="237.96" r="1.40"/>
<circle cx="519.55" cy="239.32" r="1.40"/>
<circle cx="519.55" cy="240.13" r="1.40"/>
<circle cx="519.55" cy="241.94" r="1.40"/>
<circle cx="519.55" cy="244.02" r="1.40"/>
<circle cx="519.55" cy="244.51" r="1.40"/>
<circle cx="519.55" cy="245.95" r="1.40"/>
<circle cx="519.55" cy="247.99" r="1.40"/>
<circle cx="519.55" cy="249.61" r="1.40"/>
<circle cx="519.55" cy="250.04" r="1.40"/>
<circle cx="519.55" cy="252.72" r="1.40"/>
<circle cx="519.55" cy="253.95" r="1.40"/>
<circle cx="519.55" cy="254.56" r="1.40"/>
<circle cx="519.55" cy="256.63" r="1.40"/>
<circle cx="519.55" cy="258.36" r="1.40"/>
<circle cx="519.55" cy="258.43" r="1.40"/>
<circle cx="519.55" cy="260.41" r="1.40"/>
<circle cx="519.55" cy="262.08" r="1.40"/>
<circle cx="519.55" cy="263.94" r="1.40"/>
<circle cx="519.55" cy="264.39" r="1.40"/>
<circle cx="519.55" cy="265.55" r="1.40"/>
<circle cx="519.55" cy="266.89" r="1.40"/>
<circle cx="519.55" cy="269.20" r="1.40"/>
<circle cx="519.55" cy="270.43" r="1.40"/>
<circle cx="519.55" cy="271.13" r="1.40"/>
<circle cx="533.08" cy="270.10" r="1.40"/>
<circle cx="533.08" cy="271.69" r="1.40"/>
<circle cx="533.08" cy="273.29" r="1.40"/>
<circle cx="541.52" cy="253.38" r="1.40"/>
<circle cx="541.52" cy="257.36" r="1.40"/>
<circle cx="541.52" cy="262.94" r="1.40"/>
<circle cx="541.52" cy="265.32" r="1.40"/>
<circle cx="541.52" cy="268.51" r="1.40"/>
<circle cx="541.52" cy="271.22" r="1.40"/>
<circle cx="545.75" cy="243.00" r="1.40"/>
<circle cx="545.75" cy="247.25" r="1.40"/>
<circle cx="545.75" cy="253.00" r="1.40"/>
<circle cx="550.25" cy="248.00" r="1.40"/>
<circle cx="550.25" cy="264.00" r="1.40"/>
<circle cx="550.25" cy="266.00" r="1.40"/>
<circle cx="550.25" cy="268.00" r="1.40"/>
<circle cx="554.25" cy="219.75" r="1.40"/>
<circle cx="554.25" cy="238.00" r="1.40"/>
<circle cx="554.25" cy="247.25" r="1.40"/>
<circle cx="561.00" cy="267.75" r="1.40"/>
<circle cx="561.00" cy="269.00" r="1.40"/>
<circle cx="574.75" cy="235.50" r="1.40"/>
<circle cx="574.75" cy="238.00" r="1.40"/>
<circle cx="574.75" cy="240.50" r="1.40"/>
<circle cx="574.75" cy="249.00" r="1.40"/>
<circle cx="574.75" cy="256.00" r="1.40"/>
<circle cx="574.75" cy="258.00" r="1.40"/>
<circle cx="574.75" cy="263.00" r="1.40"/>
<circle cx="574.75" cy="271.75" r="1.40"/>
<circle cx="574.75" cy="273.00" r="1.40"/>
<circle cx="588.50" cy="269.75" r="1.40"/>
<circle cx="616.00" cy="254.25" r="1.40"/>
<circle cx="616.00" cy="258.50" r="1.40"/>
<circle cx="554.25" cy="253.90" r="1.40"/>
<circle cx="554.25" cy="257.00" r="1.40"/>
<circle cx="554.25" cy="257.40" r="1.40"/>
<circle cx="554.25" cy="259.57" r="1.40"/>
<circle cx="554.25" cy="262.26" r="1.40"/>
<circle cx="554.25" cy="265.40" r="1.40"/>
<circle cx="554.25" cy="268.13" r="1.40"/>
<circle cx="554.25" cy="271.38" r="1.40"/>
<circle cx="554.25" cy="271.92" r="1.40"/>
<circle cx="554.25" cy="274.46" r="1.40"/>
<circle cx="554.25" cy="276.96" r="1.40"/>
<circle cx="554.25" cy="279.78" r="1.40"/>
</g>
<path d="M450.40 292.30v-2.0M478.00 292.30v-2.0M505.60 292.30v-2.0M533.20 292.30v-2.0M560.80 292.30v-2.0M588.40 292.30v-2.0M616.00 292.30v-2.0M442.55 292.30h2.1M442.55 280.50h2.1M442.55 268.70h2.1M442.55 256.90h2.1M442.55 245.10h2.1M442.55 233.30h2.1M442.55 221.50h2.1" stroke="#444" stroke-width="0.7" fill="none"/>
<rect x="442.55" y="210.50" width="182.05" height="81.80" fill="none" stroke="#444" stroke-width="0.7"/>
<g font-family="Liberation Serif, serif" font-size="6.70" fill="#000" stroke="#000" stroke-width="0.1">
<text x="450.40" y="299.05" transform="rotate(0.05 450.40 299.05)" text-anchor="middle">0</text>
<text x="478.00" y="299.05" transform="rotate(0.05 478.00 299.05)" text-anchor="middle">200</text>
<text x="505.60" y="299.05" transform="rotate(0.05 505.60 299.05)" text-anchor="middle">400</text>
<text x="533.20" y="299.05" transform="rotate(0.05 533.20 299.05)" text-anchor="middle">600</text>
<text x="560.80" y="299.05" transform="rotate(0.05 560.80 299.05)" text-anchor="middle">800</text>
<text x="588.40" y="299.05" transform="rotate(0.05 588.40 299.05)" text-anchor="middle">1000</text>
<text x="616.00" y="299.05" transform="rotate(0.05 616.00 299.05)" text-anchor="middle">1200</text>
<text x="439.75" y="294.85" transform="rotate(0.05 439.75 294.85)" text-anchor="end">0</text>
<text x="439.75" y="283.05" transform="rotate(0.05 439.75 283.05)" text-anchor="end">25</text>
<text x="439.75" y="271.25" transform="rotate(0.05 439.75 271.25)" text-anchor="end">50</text>
<text x="439.75" y="259.45" transform="rotate(0.05 439.75 259.45)" text-anchor="end">75</text>
<text x="439.75" y="247.65" transform="rotate(0.05 439.75 247.65)" text-anchor="end">100</text>
<text x="439.75" y="235.84" transform="rotate(0.05 439.75 235.84)" text-anchor="end">125</text>
<text x="439.75" y="224.04" transform="rotate(0.05 439.75 224.04)" text-anchor="end">150</text>
</g>
<g font-family="Liberation Serif, serif" font-size="6.60" fill="#000" stroke="#000" stroke-width="0.1">
<text x="533.58" y="307.26" transform="rotate(0.05 533.58 307.26)" text-anchor="middle">FAR</text>
<text transform="translate(424.25 251.40) rotate(-89.95)" text-anchor="middle" y="2.31">CS</text>
</g>
<g fill="#ff0000">
<circle cx="32.01" cy="358.05" r="2.00"/>
<circle cx="29.15" cy="360.76" r="2.00"/>
<circle cx="26.76" cy="368.72" r="2.00"/>
<circle cx="26.76" cy="377.16" r="2.00"/>
<circle cx="26.76" cy="384.64" r="2.00"/>
<circle cx="31.54" cy="374.29" r="2.00"/>
<circle cx="32.65" cy="387.35" r="2.00"/>
<circle cx="31.54" cy="397.38" r="2.00"/>
<circle cx="29.62" cy="403.27" r="2.00"/>
<circle cx="29.62" cy="409.64" r="2.00"/>
<circle cx="33.92" cy="409.32" r="2.00"/>
<circle cx="36.31" cy="408.05" r="2.00"/>
<circle cx="35.20" cy="394.99" r="2.00"/>
<circle cx="37.11" cy="396.59" r="2.00"/>
<circle cx="39.50" cy="413.31" r="2.00"/>
<circle cx="41.25" cy="357.10" r="2.00"/>
<circle cx="41.25" cy="363.94" r="2.00"/>
<circle cx="41.25" cy="368.40" r="2.00"/>
<circle cx="41.25" cy="373.50" r="2.00"/>
<circle cx="41.25" cy="380.34" r="2.00"/>
<circle cx="36.31" cy="366.01" r="2.00"/>
<circle cx="36.31" cy="371.43" r="2.00"/>
<circle cx="36.79" cy="381.94" r="2.00"/>
<circle cx="38.70" cy="383.05" r="2.00"/>
<circle cx="37.90" cy="389.42" r="2.00"/>
<circle cx="39.50" cy="384.64" r="2.00"/>
<circle cx="40.29" cy="386.24" r="2.00"/>
<circle cx="39.50" cy="391.81" r="2.00"/>
<circle cx="41.89" cy="391.81" r="2.00"/>
<circle cx="44.27" cy="392.61" r="2.00"/>
<circle cx="44.75" cy="386.71" r="2.00"/>
<circle cx="41.89" cy="397.06" r="2.00"/>
<circle cx="41.57" cy="403.75" r="2.00"/>
<circle cx="42.20" cy="406.14" r="2.00"/>
<circle cx="45.87" cy="402.64" r="2.00"/>
<circle cx="44.75" cy="409.32" r="2.00"/>
<circle cx="48.73" cy="374.29" r="2.00"/>
<circle cx="50.64" cy="382.73" r="2.00"/>
<circle cx="52.55" cy="387.03" r="2.00"/>
<circle cx="50.64" cy="392.61" r="2.00"/>
<circle cx="54.31" cy="392.61" r="2.00"/>
<circle cx="54.62" cy="399.77" r="2.00"/>
<circle cx="52.24" cy="404.23" r="2.00"/>
<circle cx="49.05" cy="406.94" r="2.00"/>
<circle cx="52.71" cy="414.42" r="2.00"/>
<circle cx="53.35" cy="417.29" r="2.00"/>
<circle cx="59.40" cy="376.20" r="2.00"/>
<circle cx="64.18" cy="376.68" r="2.00"/>
<circle cx="64.50" cy="378.27" r="2.00"/>
<circle cx="59.40" cy="384.64" r="2.00"/>
<circle cx="64.50" cy="383.85" r="2.00"/>
<circle cx="64.50" cy="388.94" r="2.00"/>
<circle cx="69.27" cy="385.92" r="2.00"/>
<circle cx="69.27" cy="392.61" r="2.00"/>
<circle cx="61.31" cy="394.99" r="2.00"/>
<circle cx="58.13" cy="398.50" r="2.00"/>
<circle cx="64.50" cy="399.77" r="2.00"/>
<circle cx="61.31" cy="402.64" r="2.00"/>
<circle cx="61.31" cy="404.55" r="2.00"/>
<circle cx="58.61" cy="409.32" r="2.00"/>
<circle cx="61.31" cy="411.71" r="2.00"/>
<circle cx="63.38" cy="406.94" r="2.00"/>
<circle cx="66.57" cy="403.75" r="2.00"/>
<circle cx="66.09" cy="406.94" r="2.00"/>
<circle cx="68.96" cy="407.73" r="2.00"/>
<circle cx="69.75" cy="410.12" r="2.00"/>
<circle cx="78.51" cy="386.71" r="2.00"/>
<circle cx="76.60" cy="402.48" r="2.00"/>
<circle cx="90.93" cy="402.96" r="2.00"/>
<circle cx="100.32" cy="408.53" r="2.00"/>
<circle cx="72.14" cy="408.53" r="2.00"/>
<circle cx="74.53" cy="409.32" r="2.00"/>
<circle cx="76.92" cy="408.53" r="2.00"/>
<circle cx="79.31" cy="409.64" r="2.00"/>
<circle cx="81.69" cy="410.12" r="2.00"/>
<circle cx="84.08" cy="409.64" r="2.00"/>
<circle cx="74.05" cy="413.31" r="2.00"/>
<circle cx="81.69" cy="413.78" r="2.00"/>
<circle cx="84.08" cy="412.19" r="2.00"/>
<circle cx="76.12" cy="414.90" r="2.00"/>
<circle cx="37.90" cy="423.97" r="2.00"/>
<circle cx="40.29" cy="422.06" r="2.00"/>
<circle cx="41.89" cy="424.45" r="2.00"/>
<circle cx="44.27" cy="423.34" r="2.00"/>
<circle cx="46.34" cy="424.45" r="2.00"/>
<circle cx="48.25" cy="420.47" r="2.00"/>
<circle cx="50.64" cy="422.06" r="2.00"/>
<circle cx="52.24" cy="419.68" r="2.00"/>
<circle cx="53.83" cy="423.66" r="2.00"/>
<circle cx="55.42" cy="420.47" r="2.00"/>
<circle cx="56.22" cy="422.86" r="2.00"/>
<circle cx="57.01" cy="417.29" r="2.00"/>
<circle cx="58.61" cy="424.45" r="2.00"/>
<circle cx="56.22" cy="428.43" r="2.00"/>
<circle cx="56.22" cy="430.34" r="2.00"/>
<circle cx="60.99" cy="416.49" r="2.00"/>
<circle cx="61.79" cy="423.66" r="2.00"/>
<circle cx="64.18" cy="417.29" r="2.00"/>
<circle cx="66.57" cy="422.86" r="2.00"/>
<circle cx="68.16" cy="418.88" r="2.00"/>
<circle cx="68.96" cy="421.27" r="2.00"/>
<circle cx="67.36" cy="425.25" r="2.00"/>
<circle cx="69.27" cy="428.43" r="2.00"/>
<circle cx="71.34" cy="424.45" r="2.00"/>
<circle cx="74.53" cy="427.64" r="2.00"/>
<circle cx="74.53" cy="430.03" r="2.00"/>
<circle cx="74.53" cy="431.62" r="2.00"/>
<circle cx="76.92" cy="418.08" r="2.00"/>
<circle cx="76.92" cy="420.47" r="2.00"/>
<circle cx="80.10" cy="424.45" r="2.00"/>
<circle cx="80.10" cy="426.84" r="2.00"/>
<circle cx="81.69" cy="422.06" r="2.00"/>
<circle cx="83.29" cy="425.25" r="2.00"/>
<circle cx="84.88" cy="421.27" r="2.00"/>
<circle cx="86.47" cy="422.86" r="2.00"/>
<circle cx="88.06" cy="419.68" r="2.00"/>
<circle cx="89.66" cy="422.06" r="2.00"/>
<circle cx="91.25" cy="426.84" r="2.00"/>
<circle cx="95.23" cy="415.69" r="2.00"/>
<circle cx="96.03" cy="425.25" r="2.00"/>
<circle cx="97.62" cy="417.29" r="2.00"/>
<circle cx="100.80" cy="418.08" r="2.00"/>
<circle cx="100.80" cy="422.06" r="2.00"/>
<circle cx="101.60" cy="424.45" r="2.00"/>
<circle cx="102.39" cy="426.84" r="2.00"/>
<circle cx="103.99" cy="418.88" r="2.00"/>
<circle cx="111.10" cy="394.99" r="2.00"/>
<circle cx="109.98" cy="408.53" r="2.00"/>
<circle cx="107.91" cy="414.58" r="2.00"/>
<circle cx="109.98" cy="418.40" r="2.00"/>
<circle cx="112.69" cy="422.86" r="2.00"/>
<circle cx="112.05" cy="425.57" r="2.00"/>
<circle cx="108.87" cy="427.16" r="2.00"/>
<circle cx="116.67" cy="405.82" r="2.00"/>
<circle cx="116.67" cy="407.73" r="2.00"/>
<circle cx="116.67" cy="410.12" r="2.00"/>
<circle cx="115.87" cy="412.51" r="2.00"/>
<circle cx="117.15" cy="412.19" r="2.00"/>
<circle cx="116.67" cy="416.97" r="2.00"/>
<circle cx="116.67" cy="418.88" r="2.00"/>
<circle cx="116.67" cy="421.27" r="2.00"/>
<circle cx="116.67" cy="423.66" r="2.00"/>
<circle cx="116.67" cy="426.04" r="2.00"/>
<circle cx="117.94" cy="426.84" r="2.00"/>
<circle cx="120.01" cy="427.16" r="2.00"/>
<circle cx="124.31" cy="400.25" r="2.00"/>
<circle cx="124.31" cy="403.75" r="2.00"/>
<circle cx="123.52" cy="415.22" r="2.00"/>
<circle cx="131.16" cy="410.92" r="2.00"/>
<circle cx="127.18" cy="427.16" r="2.00"/>
<circle cx="131.96" cy="424.93" r="2.00"/>
<circle cx="136.73" cy="427.16" r="2.00"/>
<circle cx="141.83" cy="422.38" r="2.00"/>
<circle cx="148.36" cy="405.82" r="2.00"/>
<circle cx="148.36" cy="412.03" r="2.00"/>
<circle cx="148.36" cy="419.99" r="2.00"/>
<circle cx="164.60" cy="421.27" r="2.00"/>
<circle cx="162.53" cy="427.80" r="2.00"/>
<circle cx="172.40" cy="419.20" r="2.00"/>
<circle cx="196.29" cy="417.29" r="2.00"/>
<circle cx="196.29" cy="419.36" r="2.00"/>
<circle cx="38.50" cy="384.40" r="2.00"/>
<circle cx="39.40" cy="387.50" r="2.00"/>
<circle cx="40.70" cy="385.20" r="2.00"/>
<circle cx="33.50" cy="410.40" r="2.00"/>
</g>
<path d="M28.31 435.70v-2.0M52.32 435.70v-2.0M76.34 435.70v-2.0M100.35 435.70v-2.0M124.36 435.70v-2.0M148.38 435.70v-2.0M172.39 435.70v-2.0M196.40 435.70v-2.0M18.60 415.25h2.1M18.60 391.75h2.1M18.60 368.25h2.1" stroke="#444" stroke-width="0.7" fill="none"/>
<rect x="18.60" y="353.55" width="186.00" height="82.15" fill="none" stroke="#444" stroke-width="0.7"/>
<g font-family="DejaVu Sans, Liberation Sans, sans-serif" font-size="5.60" fill="#000" stroke="#000" stroke-width="0.06">
<text x="28.31" y="442.06" transform="rotate(0.05 28.31 442.06)" text-anchor="middle">0.25</text>
<text x="52.32" y="442.06" transform="rotate(0.05 52.32 442.06)" text-anchor="middle">0.50</text>
<text x="76.34" y="442.06" transform="rotate(0.05 76.34 442.06)" text-anchor="middle">0.75</text>
<text x="100.35" y="442.06" transform="rotate(0.05 100.35 442.06)" text-anchor="middle">1.00</text>
<text x="124.36" y="442.06" transform="rotate(0.05 124.36 442.06)" text-anchor="middle">1.25</text>
<text x="148.38" y="442.06" transform="rotate(0.05 148.38 442.06)" text-anchor="middle">1.50</text>
<text x="172.39" y="442.06" transform="rotate(0.05 172.39 442.06)" text-anchor="middle">1.75</text>
<text x="196.40" y="442.06" transform="rotate(0.05 196.40 442.06)" text-anchor="middle">2.00</text>
<text x="15.80" y="417.41" transform="rotate(0.05 15.80 417.41)" text-anchor="end">10</text>
<text x="15.80" y="393.91" transform="rotate(0.05 15.80 393.91)" text-anchor="end">20</text>
<text x="15.80" y="370.41" transform="rotate(0.05 15.80 370.41)" text-anchor="end">30</text>
</g>
<g font-family="DejaVu Sans, Liberation Sans, sans-serif" font-size="5.80" fill="#000" stroke="#000" stroke-width="0.06">
<text x="111.60" y="449.73" transform="rotate(0.05 111.60 449.73)" text-anchor="middle">W</text>
<text transform="translate(3.80 394.62) rotate(-89.95)" text-anchor="middle" y="2.03">FS</text>
</g>
<g fill="#ff0000">
<circle cx="236.60" cy="366.65" r="2.00"/>
<circle cx="236.60" cy="368.72" r="2.00"/>
<circle cx="236.60" cy="374.80" r="2.00"/>
<circle cx="236.60" cy="374.89" r="2.00"/>
<circle cx="236.60" cy="376.48" r="2.00"/>
<circle cx="236.60" cy="378.48" r="2.00"/>
<circle cx="236.60" cy="380.17" r="2.00"/>
<circle cx="236.60" cy="381.63" r="2.00"/>
<circle cx="236.60" cy="382.51" r="2.00"/>
<circle cx="236.60" cy="383.99" r="2.00"/>
<circle cx="236.60" cy="385.38" r="2.00"/>
<circle cx="236.60" cy="386.98" r="2.00"/>
<circle cx="236.60" cy="387.57" r="2.00"/>
<circle cx="236.60" cy="389.67" r="2.00"/>
<circle cx="236.60" cy="391.16" r="2.00"/>
<circle cx="236.60" cy="392.55" r="2.00"/>
<circle cx="236.60" cy="399.81" r="2.00"/>
<circle cx="236.60" cy="400.48" r="2.00"/>
<circle cx="236.60" cy="401.74" r="2.00"/>
<circle cx="236.60" cy="403.70" r="2.00"/>
<circle cx="236.60" cy="403.92" r="2.00"/>
<circle cx="236.60" cy="405.74" r="2.00"/>
<circle cx="236.60" cy="406.20" r="2.00"/>
<circle cx="236.60" cy="407.37" r="2.00"/>
<circle cx="236.60" cy="409.13" r="2.00"/>
<circle cx="236.60" cy="410.21" r="2.00"/>
<circle cx="236.60" cy="412.01" r="2.00"/>
<circle cx="236.60" cy="412.56" r="2.00"/>
<circle cx="236.60" cy="413.66" r="2.00"/>
<circle cx="236.60" cy="415.15" r="2.00"/>
<circle cx="236.60" cy="416.50" r="2.00"/>
<circle cx="236.60" cy="416.99" r="2.00"/>
<circle cx="236.60" cy="418.51" r="2.00"/>
<circle cx="236.60" cy="419.76" r="2.00"/>
<circle cx="236.60" cy="421.61" r="2.00"/>
<circle cx="236.60" cy="422.14" r="2.00"/>
<circle cx="236.60" cy="423.93" r="2.00"/>
<circle cx="236.60" cy="424.71" r="2.00"/>
<circle cx="236.60" cy="425.64" r="2.00"/>
<circle cx="236.60" cy="426.67" r="2.00"/>
<circle cx="236.60" cy="428.28" r="2.00"/>
<circle cx="236.60" cy="429.60" r="2.00"/>
<circle cx="236.60" cy="430.85" r="2.00"/>
<circle cx="236.60" cy="431.71" r="2.00"/>
<circle cx="255.39" cy="360.76" r="2.00"/>
<circle cx="260.64" cy="358.37" r="2.00"/>
<circle cx="260.64" cy="371.43" r="2.00"/>
<circle cx="268.61" cy="373.97" r="2.00"/>
<circle cx="270.68" cy="373.97" r="2.00"/>
<circle cx="260.64" cy="383.53" r="2.00"/>
<circle cx="270.68" cy="382.25" r="2.00"/>
<circle cx="270.68" cy="387.35" r="2.00"/>
<circle cx="263.83" cy="389.42" r="2.00"/>
<circle cx="260.64" cy="392.61" r="2.00"/>
<circle cx="266.22" cy="391.81" r="2.00"/>
<circle cx="267.81" cy="394.20" r="2.00"/>
<circle cx="270.68" cy="392.61" r="2.00"/>
<circle cx="270.68" cy="394.99" r="2.00"/>
<circle cx="266.22" cy="395.79" r="2.00"/>
<circle cx="255.39" cy="394.99" r="2.00"/>
<circle cx="260.64" cy="398.18" r="2.00"/>
<circle cx="263.83" cy="397.38" r="2.00"/>
<circle cx="267.01" cy="398.18" r="2.00"/>
<circle cx="270.68" cy="399.77" r="2.00"/>
<circle cx="260.64" cy="402.64" r="2.00"/>
<circle cx="262.24" cy="404.55" r="2.00"/>
<circle cx="260.64" cy="406.14" r="2.00"/>
<circle cx="263.83" cy="403.75" r="2.00"/>
<circle cx="263.83" cy="406.94" r="2.00"/>
<circle cx="267.01" cy="406.14" r="2.00"/>
<circle cx="270.68" cy="405.34" r="2.00"/>
<circle cx="253.48" cy="409.32" r="2.00"/>
<circle cx="248.38" cy="412.99" r="2.00"/>
<circle cx="248.38" cy="419.68" r="2.00"/>
<circle cx="245.04" cy="423.97" r="2.00"/>
<circle cx="253.48" cy="422.06" r="2.00"/>
<circle cx="253.48" cy="424.45" r="2.00"/>
<circle cx="255.87" cy="422.86" r="2.00"/>
<circle cx="258.25" cy="422.06" r="2.00"/>
<circle cx="260.64" cy="420.79" r="2.00"/>
<circle cx="260.64" cy="423.34" r="2.00"/>
<circle cx="262.24" cy="422.06" r="2.00"/>
<circle cx="263.83" cy="423.97" r="2.00"/>
<circle cx="266.22" cy="424.45" r="2.00"/>
<circle cx="267.81" cy="424.93" r="2.00"/>
<circle cx="270.68" cy="424.93" r="2.00"/>
<circle cx="278.96" cy="386.71" r="2.00"/>
<circle cx="278.96" cy="404.23" r="2.00"/>
<circle cx="278.96" cy="414.90" r="2.00"/>
<circle cx="278.96" cy="417.29" r="2.00"/>
<circle cx="278.96" cy="422.06" r="2.00"/>
<circle cx="278.96" cy="424.93" r="2.00"/>
<circle cx="292.49" cy="384.96" r="2.00"/>
<circle cx="309.69" cy="365.85" r="2.00"/>
<circle cx="309.69" cy="408.05" r="2.00"/>
<circle cx="309.69" cy="410.12" r="2.00"/>
<circle cx="321.47" cy="376.68" r="2.00"/>
<circle cx="321.47" cy="380.34" r="2.00"/>
<circle cx="321.47" cy="417.76" r="2.00"/>
<circle cx="292.49" cy="406.81" r="2.00"/>
<circle cx="292.49" cy="408.28" r="2.00"/>
<circle cx="292.49" cy="409.36" r="2.00"/>
<circle cx="292.49" cy="411.70" r="2.00"/>
<circle cx="292.49" cy="412.47" r="2.00"/>
<circle cx="292.49" cy="417.60" r="2.00"/>
<circle cx="292.49" cy="419.57" r="2.00"/>
<circle cx="292.49" cy="420.99" r="2.00"/>
<circle cx="292.49" cy="421.70" r="2.00"/>
<circle cx="292.49" cy="424.49" r="2.00"/>
<circle cx="292.49" cy="425.41" r="2.00"/>
<circle cx="348.50" cy="357.00" r="2.00"/>
<circle cx="348.50" cy="364.00" r="2.00"/>
<circle cx="348.50" cy="368.25" r="2.00"/>
<circle cx="348.50" cy="373.25" r="2.00"/>
<circle cx="406.25" cy="417.00" r="2.00"/>
<circle cx="406.25" cy="418.75" r="2.00"/>
<circle cx="406.25" cy="420.25" r="2.00"/>
</g>
<path d="M236.40 435.70v-2.0M270.40 435.70v-2.0M304.40 435.70v-2.0M338.40 435.70v-2.0M372.40 435.70v-2.0M406.40 435.70v-2.0M228.60 415.25h2.1M228.60 391.75h2.1M228.60 368.25h2.1" stroke="#444" stroke-width="0.7" fill="none"/>
<rect x="228.60" y="353.55" width="186.00" height="82.15" fill="none" stroke="#444" stroke-width="0.7"/>
<g font-family="Liberation Serif, serif" font-size="6.70" fill="#000" stroke="#000" stroke-width="0.1">
<text x="236.40" y="442.44" transform="rotate(0.05 236.40 442.44)" text-anchor="middle">0.0</text>
<text x="270.40" y="442.44" transform="rotate(0.05 270.40 442.44)" text-anchor="middle">0.2</text>
<text x="304.40" y="442.44" transform="rotate(0.05 304.40 442.44)" text-anchor="middle">0.4</text>
<text x="338.40" y="442.44" transform="rotate(0.05 338.40 442.44)" text-anchor="middle">0.6</text>
<text x="372.40" y="442.44" transform="rotate(0.05 372.40 442.44)" text-anchor="middle">0.8</text>
<text x="406.40" y="442.44" transform="rotate(0.05 406.40 442.44)" text-anchor="middle">1.0</text>
<text x="225.80" y="417.80" transform="rotate(0.05 225.80 417.80)" text-anchor="end">10</text>
<text x="225.80" y="394.30" transform="rotate(0.05 225.80 394.30)" text-anchor="end">20</text>
<text x="225.80" y="370.80" transform="rotate(0.05 225.80 370.80)" text-anchor="end">30</text>
</g>
<g font-family="Liberation Serif, serif" font-size="6.60" fill="#000" stroke="#000" stroke-width="0.1">
<text x="321.60" y="450.66" transform="rotate(0.05 321.60 450.66)" text-anchor="middle">SF</text>
<text transform="translate(213.80 394.62) rotate(-89.95)" text-anchor="middle" y="2.31">FS</text>
</g>
<g fill="#ff0000">
<circle cx="446.60" cy="357.94" r="2.00"/>
<circle cx="446.60" cy="359.16" r="2.00"/>
<circle cx="446.60" cy="360.04" r="2.00"/>
<circle cx="446.60" cy="361.23" r="2.00"/>
<circle cx="446.60" cy="362.06" r="2.00"/>
<circle cx="446.60" cy="363.36" r="2.00"/>
<circle cx="446.60" cy="364.37" r="2.00"/>
<circle cx="446.60" cy="366.50" r="2.00"/>
<circle cx="446.60" cy="367.51" r="2.00"/>
<circle cx="446.60" cy="368.58" r="2.00"/>
<circle cx="446.60" cy="370.37" r="2.00"/>
<circle cx="446.60" cy="371.47" r="2.00"/>
<circle cx="446.60" cy="373.13" r="2.00"/>
<circle cx="446.60" cy="374.12" r="2.00"/>
<circle cx="446.60" cy="375.15" r="2.00"/>
<circle cx="446.60" cy="376.08" r="2.00"/>
<circle cx="446.60" cy="377.54" r="2.00"/>
<circle cx="446.60" cy="378.95" r="2.00"/>
<circle cx="446.60" cy="380.28" r="2.00"/>
<circle cx="446.60" cy="380.95" r="2.00"/>
<circle cx="446.60" cy="383.02" r="2.00"/>
<circle cx="446.60" cy="383.39" r="2.00"/>
<circle cx="446.60" cy="384.56" r="2.00"/>
<circle cx="446.60" cy="386.49" r="2.00"/>
<circle cx="446.60" cy="387.45" r="2.00"/>
<circle cx="446.60" cy="388.66" r="2.00"/>
<circle cx="446.60" cy="390.53" r="2.00"/>
<circle cx="446.60" cy="391.14" r="2.00"/>
<circle cx="446.60" cy="393.06" r="2.00"/>
<circle cx="446.60" cy="394.38" r="2.00"/>
<circle cx="446.60" cy="395.28" r="2.00"/>
<circle cx="446.60" cy="396.60" r="2.00"/>
<circle cx="446.60" cy="397.33" r="2.00"/>
<circle cx="446.60" cy="398.45" r="2.00"/>
<circle cx="446.60" cy="399.67" r="2.00"/>
<circle cx="446.60" cy="401.76" r="2.00"/>
<circle cx="446.60" cy="403.17" r="2.00"/>
<circle cx="446.60" cy="404.10" r="2.00"/>
<circle cx="446.60" cy="405.62" r="2.00"/>
<circle cx="446.60" cy="407.17" r="2.00"/>
<circle cx="446.60" cy="407.45" r="2.00"/>
<circle cx="446.60" cy="409.05" r="2.00"/>
<circle cx="446.60" cy="410.90" r="2.00"/>
<circle cx="446.60" cy="411.26" r="2.00"/>
<circle cx="446.60" cy="412.91" r="2.00"/>
<circle cx="446.60" cy="414.19" r="2.00"/>
<circle cx="446.60" cy="415.08" r="2.00"/>
<circle cx="446.60" cy="417.16" r="2.00"/>
<circle cx="446.60" cy="417.72" r="2.00"/>
<circle cx="446.60" cy="419.57" r="2.00"/>
<circle cx="446.60" cy="420.67" r="2.00"/>
<circle cx="446.60" cy="421.94" r="2.00"/>
<circle cx="446.60" cy="423.14" r="2.00"/>
<circle cx="446.60" cy="423.96" r="2.00"/>
<circle cx="446.60" cy="425.82" r="2.00"/>
<circle cx="446.60" cy="426.80" r="2.00"/>
<circle cx="446.60" cy="427.51" r="2.00"/>
<circle cx="446.60" cy="429.05" r="2.00"/>
<circle cx="446.60" cy="430.95" r="2.00"/>
<circle cx="446.60" cy="432.35" r="2.00"/>
<circle cx="458.38" cy="380.18" r="2.00"/>
<circle cx="469.85" cy="384.96" r="2.00"/>
<circle cx="477.01" cy="383.53" r="2.00"/>
<circle cx="481.79" cy="384.64" r="2.00"/>
<circle cx="481.79" cy="391.81" r="2.00"/>
<circle cx="512.84" cy="373.97" r="2.00"/>
<circle cx="456.63" cy="403.75" r="2.00"/>
<circle cx="456.63" cy="406.14" r="2.00"/>
<circle cx="453.45" cy="412.99" r="2.00"/>
<circle cx="453.45" cy="419.68" r="2.00"/>
<circle cx="455.52" cy="420.79" r="2.00"/>
<circle cx="456.79" cy="422.06" r="2.00"/>
<circle cx="458.38" cy="423.66" r="2.00"/>
<circle cx="464.27" cy="414.42" r="2.00"/>
<circle cx="464.27" cy="417.76" r="2.00"/>
<circle cx="466.98" cy="423.66" r="2.00"/>
<circle cx="469.85" cy="423.34" r="2.00"/>
<circle cx="481.79" cy="424.61" r="2.00"/>
<circle cx="492.94" cy="403.27" r="2.00"/>
<circle cx="499.62" cy="402.48" r="2.00"/>
<circle cx="493.73" cy="417.61" r="2.00"/>
<circle cx="493.73" cy="419.68" r="2.00"/>
<circle cx="493.73" cy="422.06" r="2.00"/>
<circle cx="502.81" cy="424.77" r="2.00"/>
<circle cx="517.14" cy="421.27" r="2.00"/>
<circle cx="517.14" cy="422.86" r="2.00"/>
<circle cx="517.14" cy="428.43" r="2.00"/>
<circle cx="517.14" cy="430.34" r="2.00"/>
<circle cx="531.47" cy="405.34" r="2.00"/>
<circle cx="531.47" cy="416.49" r="2.00"/>
<circle cx="531.47" cy="418.56" r="2.00"/>
<circle cx="531.47" cy="420.79" r="2.00"/>
<circle cx="556.00" cy="387.00" r="2.00"/>
<circle cx="601.75" cy="403.25" r="2.00"/>
<circle cx="552.25" cy="422.75" r="2.00"/>
<circle cx="552.25" cy="429.00" r="2.00"/>
<circle cx="559.75" cy="423.25" r="2.00"/>
<circle cx="587.75" cy="427.00" r="2.00"/>
<circle cx="616.00" cy="424.75" r="2.00"/>
</g>
<path d="M446.50 435.70v-2.0M481.80 435.70v-2.0M517.10 435.70v-2.0M552.40 435.70v-2.0M587.70 435.70v-2.0M623.00 435.70v-2.0M438.60 415.25h2.1M438.60 391.75h2.1M438.60 368.25h2.1" stroke="#444" stroke-width="0.7" fill="none"/>
<rect x="438.60" y="353.55" width="186.00" height="82.15" fill="none" stroke="#444" stroke-width="0.7"/>
<g font-family="Liberation Serif, serif" font-size="6.70" fill="#000" stroke="#000" stroke-width="0.1">
<text x="446.50" y="442.44" transform="rotate(0.05 446.50 442.44)" text-anchor="middle">0.0</text>
<text x="481.80" y="442.44" transform="rotate(0.05 481.80 442.44)" text-anchor="middle">0.5</text>
<text x="517.10" y="442.44" transform="rotate(0.05 517.10 442.44)" text-anchor="middle">1.0</text>
<text x="552.40" y="442.44" transform="rotate(0.05 552.40 442.44)" text-anchor="middle">1.5</text>
<text x="587.70" y="442.44" transform="rotate(0.05 587.70 442.44)" text-anchor="middle">2.0</text>
<text x="623.00" y="442.44" transform="rotate(0.05 623.00 442.44)" text-anchor="middle">2.5</text>
<text x="435.80" y="417.80" transform="rotate(0.05 435.80 417.80)" text-anchor="end">10</text>
<text x="435.80" y="394.30" transform="rotate(0.05 435.80 394.30)" text-anchor="end">20</text>
<text x="435.80" y="370.80" transform="rotate(0.05 435.80 370.80)" text-anchor="end">30</text>
</g>
<g font-family="Liberation Serif, serif" font-size="6.60" fill="#000" stroke="#000" stroke-width="0.1">
<text x="531.60" y="450.66" transform="rotate(0.05 531.60 450.66)" text-anchor="middle">SG</text>
<text transform="translate(423.80 394.62) rotate(-89.95)" text-anchor="middle" y="2.31">FS</text>
</g>
<g fill="#ff0000">
<circle cx="26.68" cy="462.67" r="2.00"/>
<circle cx="26.68" cy="463.51" r="2.00"/>
<circle cx="26.68" cy="465.33" r="2.00"/>
<circle cx="26.68" cy="466.94" r="2.00"/>
<circle cx="26.68" cy="468.85" r="2.00"/>
<circle cx="26.68" cy="471.67" r="2.00"/>
<circle cx="26.68" cy="472.96" r="2.00"/>
<circle cx="26.68" cy="475.74" r="2.00"/>
<circle cx="26.68" cy="476.69" r="2.00"/>
<circle cx="26.68" cy="478.88" r="2.00"/>
<circle cx="26.68" cy="479.90" r="2.00"/>
<circle cx="26.68" cy="481.30" r="2.00"/>
<circle cx="26.68" cy="484.46" r="2.00"/>
<circle cx="26.68" cy="485.33" r="2.00"/>
<circle cx="26.68" cy="487.51" r="2.00"/>
<circle cx="26.68" cy="489.94" r="2.00"/>
<circle cx="26.68" cy="490.70" r="2.00"/>
<circle cx="26.68" cy="492.05" r="2.00"/>
<circle cx="26.68" cy="494.92" r="2.00"/>
<circle cx="26.68" cy="496.99" r="2.00"/>
<circle cx="26.68" cy="498.86" r="2.00"/>
<circle cx="26.68" cy="500.45" r="2.00"/>
<circle cx="26.68" cy="504.03" r="2.00"/>
<circle cx="26.68" cy="505.42" r="2.00"/>
<circle cx="26.68" cy="507.17" r="2.00"/>
<circle cx="26.68" cy="509.14" r="2.00"/>
<circle cx="26.68" cy="509.84" r="2.00"/>
<circle cx="26.68" cy="511.50" r="2.00"/>
<circle cx="26.68" cy="512.13" r="2.00"/>
<circle cx="26.68" cy="513.47" r="2.00"/>
<circle cx="26.68" cy="515.30" r="2.00"/>
<circle cx="26.68" cy="516.81" r="2.00"/>
<circle cx="26.68" cy="517.70" r="2.00"/>
<circle cx="26.68" cy="518.73" r="2.00"/>
<circle cx="26.68" cy="520.47" r="2.00"/>
<circle cx="26.68" cy="522.18" r="2.00"/>
<circle cx="26.68" cy="522.84" r="2.00"/>
<circle cx="26.68" cy="524.26" r="2.00"/>
<circle cx="26.68" cy="525.57" r="2.00"/>
<circle cx="26.68" cy="526.35" r="2.00"/>
<circle cx="26.68" cy="528.55" r="2.00"/>
<circle cx="26.68" cy="529.64" r="2.00"/>
<circle cx="26.68" cy="530.79" r="2.00"/>
<circle cx="26.68" cy="531.86" r="2.00"/>
<circle cx="26.68" cy="533.27" r="2.00"/>
<circle cx="26.68" cy="535.40" r="2.00"/>
<circle cx="26.68" cy="536.37" r="2.00"/>
<circle cx="71.89" cy="478.46" r="2.00"/>
<circle cx="75.49" cy="486.24" r="2.00"/>
<circle cx="71.89" cy="497.32" r="2.00"/>
<circle cx="71.89" cy="501.81" r="2.00"/>
<circle cx="71.89" cy="510.19" r="2.00"/>
<circle cx="94.65" cy="497.32" r="2.00"/>
<circle cx="94.65" cy="499.41" r="2.00"/>
<circle cx="94.65" cy="501.51" r="2.00"/>
<circle cx="94.65" cy="511.69" r="2.00"/>
<circle cx="117.10" cy="487.44" r="2.00"/>
<circle cx="117.10" cy="493.72" r="2.00"/>
<circle cx="117.10" cy="499.41" r="2.00"/>
<circle cx="117.10" cy="503.90" r="2.00"/>
<circle cx="117.10" cy="506.90" r="2.00"/>
<circle cx="139.86" cy="497.32" r="2.00"/>
<circle cx="139.86" cy="502.71" r="2.00"/>
<circle cx="139.86" cy="507.80" r="2.00"/>
<circle cx="139.86" cy="510.79" r="2.00"/>
<circle cx="196.44" cy="480.55" r="2.00"/>
</g>
<path d="M26.75 540.30v-2.0M49.35 540.30v-2.0M71.95 540.30v-2.0M94.55 540.30v-2.0M117.15 540.30v-2.0M139.75 540.30v-2.0M162.35 540.30v-2.0M184.95 540.30v-2.0M18.60 519.85h2.1M18.60 496.35h2.1M18.60 472.85h2.1" stroke="#444" stroke-width="0.7" fill="none"/>
<rect x="18.60" y="458.40" width="186.00" height="81.90" fill="none" stroke="#444" stroke-width="0.7"/>
<g font-family="Liberation Serif, serif" font-size="6.70" fill="#000" stroke="#000" stroke-width="0.1">
<text x="26.75" y="547.04" transform="rotate(0.05 26.75 547.04)" text-anchor="middle">0.0</text>
<text x="49.35" y="547.04" transform="rotate(0.05 49.35 547.04)" text-anchor="middle">0.2</text>
<text x="71.95" y="547.04" transform="rotate(0.05 71.95 547.04)" text-anchor="middle">0.4</text>
<text x="94.55" y="547.04" transform="rotate(0.05 94.55 547.04)" text-anchor="middle">0.6</text>
<text x="117.15" y="547.04" transform="rotate(0.05 117.15 547.04)" text-anchor="middle">0.8</text>
<text x="139.75" y="547.04" transform="rotate(0.05 139.75 547.04)" text-anchor="middle">1.0</text>
<text x="162.35" y="547.04" transform="rotate(0.05 162.35 547.04)" text-anchor="middle">1.2</text>
<text x="184.95" y="547.04" transform="rotate(0.05 184.95 547.04)" text-anchor="middle">1.4</text>
<text x="15.80" y="522.39" transform="rotate(0.05 15.80 522.39)" text-anchor="end">10</text>
<text x="15.80" y="498.89" transform="rotate(0.05 15.80 498.89)" text-anchor="end">20</text>
<text x="15.80" y="475.39" transform="rotate(0.05 15.80 475.39)" text-anchor="end">30</text>
</g>
<g font-family="Liberation Serif, serif" font-size="6.60" fill="#000" stroke="#000" stroke-width="0.1">
<text x="111.60" y="555.26" transform="rotate(0.05 111.60 555.26)" text-anchor="middle">CGP</text>
<text transform="translate(3.80 499.35) rotate(-89.95)" text-anchor="middle" y="2.31">FS</text>
</g>
<g fill="#ff0000">
<circle cx="236.60" cy="462.44" r="2.00"/>
<circle cx="236.60" cy="465.81" r="2.00"/>
<circle cx="236.60" cy="468.18" r="2.00"/>
<circle cx="236.60" cy="468.57" r="2.00"/>
<circle cx="236.60" cy="471.36" r="2.00"/>
<circle cx="236.60" cy="474.05" r="2.00"/>
<circle cx="236.60" cy="475.66" r="2.00"/>
<circle cx="236.60" cy="479.59" r="2.00"/>
<circle cx="236.60" cy="481.80" r="2.00"/>
<circle cx="236.60" cy="483.26" r="2.00"/>
<circle cx="236.60" cy="483.90" r="2.00"/>
<circle cx="236.60" cy="484.79" r="2.00"/>
<circle cx="236.60" cy="486.62" r="2.00"/>
<circle cx="236.60" cy="487.75" r="2.00"/>
<circle cx="236.60" cy="488.47" r="2.00"/>
<circle cx="236.60" cy="489.99" r="2.00"/>
<circle cx="236.60" cy="491.31" r="2.00"/>
<circle cx="236.60" cy="491.98" r="2.00"/>
<circle cx="236.60" cy="493.07" r="2.00"/>
<circle cx="236.60" cy="495.19" r="2.00"/>
<circle cx="236.60" cy="495.92" r="2.00"/>
<circle cx="236.60" cy="497.13" r="2.00"/>
<circle cx="236.60" cy="498.40" r="2.00"/>
<circle cx="236.60" cy="499.06" r="2.00"/>
<circle cx="236.60" cy="500.53" r="2.00"/>
<circle cx="236.60" cy="501.87" r="2.00"/>
<circle cx="236.60" cy="503.33" r="2.00"/>
<circle cx="236.60" cy="504.34" r="2.00"/>
<circle cx="236.60" cy="505.70" r="2.00"/>
<circle cx="236.60" cy="506.24" r="2.00"/>
<circle cx="236.60" cy="507.46" r="2.00"/>
<circle cx="236.60" cy="509.60" r="2.00"/>
<circle cx="236.60" cy="510.00" r="2.00"/>
<circle cx="236.60" cy="512.07" r="2.00"/>
<circle cx="236.60" cy="512.33" r="2.00"/>
<circle cx="236.60" cy="514.06" r="2.00"/>
<circle cx="236.60" cy="515.06" r="2.00"/>
<circle cx="236.60" cy="516.30" r="2.00"/>
<circle cx="236.60" cy="517.72" r="2.00"/>
<circle cx="236.60" cy="518.53" r="2.00"/>
<circle cx="236.60" cy="519.43" r="2.00"/>
<circle cx="236.60" cy="520.99" r="2.00"/>
<circle cx="236.60" cy="522.53" r="2.00"/>
<circle cx="236.60" cy="523.61" r="2.00"/>
<circle cx="236.60" cy="524.09" r="2.00"/>
<circle cx="236.60" cy="525.58" r="2.00"/>
<circle cx="236.60" cy="527.43" r="2.00"/>
<circle cx="236.60" cy="527.69" r="2.00"/>
<circle cx="236.60" cy="529.05" r="2.00"/>
<circle cx="236.60" cy="530.37" r="2.00"/>
<circle cx="236.60" cy="531.97" r="2.00"/>
<circle cx="236.60" cy="532.92" r="2.00"/>
<circle cx="236.60" cy="534.46" r="2.00"/>
<circle cx="245.83" cy="462.69" r="2.00"/>
<circle cx="250.29" cy="471.45" r="2.00"/>
<circle cx="246.79" cy="473.20" r="2.00"/>
<circle cx="245.52" cy="476.22" r="2.00"/>
<circle cx="246.31" cy="481.80" r="2.00"/>
<circle cx="245.83" cy="488.64" r="2.00"/>
<circle cx="250.61" cy="487.05" r="2.00"/>
<circle cx="250.61" cy="489.44" r="2.00"/>
<circle cx="250.61" cy="491.83" r="2.00"/>
<circle cx="250.61" cy="496.61" r="2.00"/>
<circle cx="245.83" cy="506.16" r="2.00"/>
<circle cx="241.06" cy="508.23" r="2.00"/>
<circle cx="241.06" cy="510.94" r="2.00"/>
<circle cx="260.64" cy="506.96" r="2.00"/>
<circle cx="258.25" cy="514.12" r="2.00"/>
<circle cx="255.87" cy="517.62" r="2.00"/>
<circle cx="253.48" cy="521.29" r="2.00"/>
<circle cx="255.87" cy="523.68" r="2.00"/>
<circle cx="257.94" cy="524.79" r="2.00"/>
<circle cx="257.94" cy="527.18" r="2.00"/>
<circle cx="240.74" cy="525.27" r="2.00"/>
<circle cx="242.33" cy="527.97" r="2.00"/>
<circle cx="243.92" cy="527.66" r="2.00"/>
<circle cx="247.11" cy="524.15" r="2.00"/>
<circle cx="249.50" cy="523.68" r="2.00"/>
<circle cx="247.11" cy="528.45" r="2.00"/>
<circle cx="262.71" cy="521.29" r="2.00"/>
<circle cx="262.71" cy="523.68" r="2.00"/>
<circle cx="262.71" cy="526.06" r="2.00"/>
<circle cx="262.71" cy="528.45" r="2.00"/>
<circle cx="268.76" cy="478.77" r="2.00"/>
<circle cx="268.76" cy="481.16" r="2.00"/>
<circle cx="268.76" cy="489.12" r="2.00"/>
<circle cx="268.76" cy="522.88" r="2.00"/>
<circle cx="276.09" cy="507.75" r="2.00"/>
<circle cx="275.29" cy="510.94" r="2.00"/>
<circle cx="275.29" cy="513.32" r="2.00"/>
<circle cx="275.29" cy="516.19" r="2.00"/>
<circle cx="275.29" cy="518.90" r="2.00"/>
<circle cx="275.29" cy="521.29" r="2.00"/>
<circle cx="278.96" cy="526.06" r="2.00"/>
<circle cx="278.96" cy="528.45" r="2.00"/>
<circle cx="274.66" cy="530.04" r="2.00"/>
<circle cx="274.66" cy="532.43" r="2.00"/>
<circle cx="274.66" cy="534.82" r="2.00"/>
<circle cx="274.66" cy="536.89" r="2.00"/>
<circle cx="284.85" cy="483.39" r="2.00"/>
<circle cx="284.85" cy="487.85" r="2.00"/>
<circle cx="284.85" cy="490.24" r="2.00"/>
<circle cx="284.85" cy="492.62" r="2.00"/>
<circle cx="284.85" cy="497.40" r="2.00"/>
<circle cx="284.85" cy="504.25" r="2.00"/>
<circle cx="284.85" cy="510.94" r="2.00"/>
<circle cx="284.85" cy="513.32" r="2.00"/>
<circle cx="284.85" cy="516.19" r="2.00"/>
<circle cx="284.85" cy="518.10" r="2.00"/>
<circle cx="284.85" cy="522.88" r="2.00"/>
<circle cx="296.15" cy="513.64" r="2.00"/>
<circle cx="296.15" cy="515.71" r="2.00"/>
<circle cx="296.15" cy="517.78" r="2.00"/>
<circle cx="296.15" cy="520.17" r="2.00"/>
<circle cx="296.15" cy="525.59" r="2.00"/>
<circle cx="294.08" cy="528.45" r="2.00"/>
<circle cx="294.08" cy="530.84" r="2.00"/>
<circle cx="300.45" cy="524.15" r="2.00"/>
<circle cx="300.45" cy="528.13" r="2.00"/>
<circle cx="311.28" cy="491.35" r="2.00"/>
<circle cx="311.28" cy="507.27" r="2.00"/>
<circle cx="307.14" cy="514.44" r="2.00"/>
<circle cx="311.28" cy="514.12" r="2.00"/>
<circle cx="307.14" cy="525.59" r="2.00"/>
<circle cx="311.28" cy="521.29" r="2.00"/>
<circle cx="311.28" cy="523.68" r="2.00"/>
<circle cx="311.28" cy="526.06" r="2.00"/>
<circle cx="310.80" cy="528.45" r="2.00"/>
<circle cx="310.80" cy="530.52" r="2.00"/>
<circle cx="313.19" cy="528.45" r="2.00"/>
<circle cx="313.51" cy="531.64" r="2.00"/>
<circle cx="319.88" cy="530.52" r="2.00"/>
<circle cx="332.56" cy="513.08" r="2.00"/>
<circle cx="332.56" cy="514.16" r="2.00"/>
<circle cx="332.56" cy="516.55" r="2.00"/>
<circle cx="332.56" cy="517.83" r="2.00"/>
<circle cx="332.56" cy="519.83" r="2.00"/>
<circle cx="332.56" cy="520.10" r="2.00"/>
<circle cx="332.56" cy="521.97" r="2.00"/>
<circle cx="332.56" cy="524.17" r="2.00"/>
<circle cx="332.56" cy="530.04" r="2.00"/>
<circle cx="332.56" cy="532.11" r="2.00"/>
<circle cx="351.83" cy="531.80" r="2.00"/>
<circle cx="356.92" cy="526.86" r="2.00"/>
<circle cx="364.57" cy="504.57" r="2.00"/>
<circle cx="364.57" cy="507.75" r="2.00"/>
<circle cx="364.57" cy="510.14" r="2.00"/>
<circle cx="364.57" cy="516.51" r="2.00"/>
<circle cx="364.57" cy="532.11" r="2.00"/>
<circle cx="378.58" cy="499.79" r="2.00"/>
<circle cx="382.40" cy="525.75" r="2.00"/>
<circle cx="406.13" cy="531.16" r="2.00"/>
<circle cx="406.13" cy="511.17" r="2.00"/>
<circle cx="406.13" cy="511.99" r="2.00"/>
<circle cx="406.13" cy="513.42" r="2.00"/>
<circle cx="406.13" cy="514.85" r="2.00"/>
<circle cx="406.13" cy="517.10" r="2.00"/>
<circle cx="406.13" cy="521.98" r="2.00"/>
<circle cx="406.13" cy="522.88" r="2.00"/>
<circle cx="406.13" cy="525.66" r="2.00"/>
<circle cx="406.13" cy="526.61" r="2.00"/>
</g>
<path d="M236.50 540.30v-2.0M268.55 540.30v-2.0M300.60 540.30v-2.0M332.65 540.30v-2.0M364.70 540.30v-2.0M396.75 540.30v-2.0M228.60 519.85h2.1M228.60 496.35h2.1M228.60 472.85h2.1" stroke="#444" stroke-width="0.7" fill="none"/>
<rect x="228.60" y="458.40" width="186.00" height="81.90" fill="none" stroke="#444" stroke-width="0.7"/>
<g font-family="Liberation Serif, serif" font-size="6.70" fill="#000" stroke="#000" stroke-width="0.1">
<text x="236.50" y="547.04" transform="rotate(0.05 236.50 547.04)" text-anchor="middle">0</text>
<text x="268.55" y="547.04" transform="rotate(0.05 268.55 547.04)" text-anchor="middle">1</text>
<text x="300.60" y="547.04" transform="rotate(0.05 300.60 547.04)" text-anchor="middle">2</text>
<text x="332.65" y="547.04" transform="rotate(0.05 332.65 547.04)" text-anchor="middle">3</text>
<text x="364.70" y="547.04" transform="rotate(0.05 364.70 547.04)" text-anchor="middle">4</text>
<text x="396.75" y="547.04" transform="rotate(0.05 396.75 547.04)" text-anchor="middle">5</text>
<text x="225.80" y="522.39" transform="rotate(0.05 225.80 522.39)" text-anchor="end">10</text>
<text x="225.80" y="498.89" transform="rotate(0.05 225.80 498.89)" text-anchor="end">20</text>
<text x="225.80" y="475.39" transform="rotate(0.05 225.80 475.39)" text-anchor="end">30</text>
</g>
<g font-family="Liberation Serif, serif" font-size="6.60" fill="#000" stroke="#000" stroke-width="0.1">
<text x="321.60" y="555.26" transform="rotate(0.05 321.60 555.26)" text-anchor="middle">FA</text>
<text transform="translate(213.80 499.35) rotate(-89.95)" text-anchor="middle" y="2.31">FS</text>
</g>
<g fill="#ff0000">
<circle cx="446.60" cy="511.33" r="2.00"/>
<circle cx="446.60" cy="512.06" r="2.00"/>
<circle cx="446.60" cy="513.42" r="2.00"/>
<circle cx="446.60" cy="516.13" r="2.00"/>
<circle cx="446.60" cy="517.60" r="2.00"/>
<circle cx="446.60" cy="521.67" r="2.00"/>
<circle cx="446.60" cy="524.18" r="2.00"/>
<circle cx="446.60" cy="525.77" r="2.00"/>
<circle cx="446.60" cy="527.87" r="2.00"/>
<circle cx="446.60" cy="529.66" r="2.00"/>
<circle cx="446.60" cy="530.02" r="2.00"/>
<circle cx="468.57" cy="523.99" r="2.00"/>
<circle cx="471.12" cy="528.13" r="2.00"/>
<circle cx="480.52" cy="465.55" r="2.00"/>
<circle cx="477.01" cy="473.52" r="2.00"/>
<circle cx="477.01" cy="481.80" r="2.00"/>
<circle cx="477.01" cy="488.96" r="2.00"/>
<circle cx="480.52" cy="517.31" r="2.00"/>
<circle cx="480.52" cy="523.68" r="2.00"/>
<circle cx="480.52" cy="525.75" r="2.00"/>
<circle cx="480.52" cy="532.43" r="2.00"/>
<circle cx="480.52" cy="534.50" r="2.00"/>
<circle cx="482.90" cy="487.05" r="2.00"/>
<circle cx="482.90" cy="489.44" r="2.00"/>
<circle cx="482.90" cy="491.83" r="2.00"/>
<circle cx="482.90" cy="496.61" r="2.00"/>
<circle cx="485.45" cy="502.18" r="2.00"/>
<circle cx="487.36" cy="492.31" r="2.00"/>
<circle cx="489.75" cy="462.69" r="2.00"/>
<circle cx="489.75" cy="470.65" r="2.00"/>
<circle cx="489.75" cy="476.22" r="2.00"/>
<circle cx="489.75" cy="485.94" r="2.00"/>
<circle cx="489.75" cy="487.85" r="2.00"/>
<circle cx="488.96" cy="514.12" r="2.00"/>
<circle cx="491.34" cy="511.73" r="2.00"/>
<circle cx="488.96" cy="515.71" r="2.00"/>
<circle cx="486.57" cy="524.47" r="2.00"/>
<circle cx="488.96" cy="523.68" r="2.00"/>
<circle cx="492.14" cy="521.29" r="2.00"/>
<circle cx="488.96" cy="527.66" r="2.00"/>
<circle cx="488.96" cy="528.93" r="2.00"/>
<circle cx="497.39" cy="461.89" r="2.00"/>
<circle cx="497.39" cy="468.42" r="2.00"/>
<circle cx="497.39" cy="473.20" r="2.00"/>
<circle cx="497.39" cy="477.50" r="2.00"/>
<circle cx="499.31" cy="478.61" r="2.00"/>
<circle cx="501.22" cy="478.61" r="2.00"/>
<circle cx="497.39" cy="484.66" r="2.00"/>
<circle cx="495.32" cy="489.12" r="2.00"/>
<circle cx="497.39" cy="489.44" r="2.00"/>
<circle cx="497.39" cy="496.61" r="2.00"/>
<circle cx="496.12" cy="498.99" r="2.00"/>
<circle cx="497.39" cy="508.07" r="2.00"/>
<circle cx="497.39" cy="514.60" r="2.00"/>
<circle cx="502.49" cy="497.40" r="2.00"/>
<circle cx="506.79" cy="491.83" r="2.00"/>
<circle cx="507.59" cy="479.09" r="2.00"/>
<circle cx="501.69" cy="522.88" r="2.00"/>
<circle cx="507.59" cy="523.20" r="2.00"/>
<circle cx="504.56" cy="533.23" r="2.00"/>
<circle cx="504.08" cy="534.34" r="2.00"/>
<circle cx="514.43" cy="487.85" r="2.00"/>
<circle cx="517.14" cy="491.35" r="2.00"/>
<circle cx="512.52" cy="501.38" r="2.00"/>
<circle cx="510.45" cy="506.96" r="2.00"/>
<circle cx="510.45" cy="509.34" r="2.00"/>
<circle cx="508.86" cy="513.32" r="2.00"/>
<circle cx="514.11" cy="507.75" r="2.00"/>
<circle cx="514.11" cy="510.94" r="2.00"/>
<circle cx="516.03" cy="514.92" r="2.00"/>
<circle cx="516.03" cy="519.69" r="2.00"/>
<circle cx="516.03" cy="522.88" r="2.00"/>
<circle cx="516.82" cy="526.06" r="2.00"/>
<circle cx="516.82" cy="528.45" r="2.00"/>
<circle cx="522.87" cy="481.00" r="2.00"/>
<circle cx="522.87" cy="488.32" r="2.00"/>
<circle cx="522.87" cy="493.42" r="2.00"/>
<circle cx="520.80" cy="497.40" r="2.00"/>
<circle cx="523.19" cy="497.40" r="2.00"/>
<circle cx="522.87" cy="504.25" r="2.00"/>
<circle cx="525.26" cy="509.34" r="2.00"/>
<circle cx="523.19" cy="511.73" r="2.00"/>
<circle cx="520.80" cy="513.32" r="2.00"/>
<circle cx="525.26" cy="513.64" r="2.00"/>
<circle cx="521.60" cy="526.06" r="2.00"/>
<circle cx="521.60" cy="528.45" r="2.00"/>
<circle cx="524.78" cy="527.66" r="2.00"/>
<circle cx="513.64" cy="513.26" r="2.00"/>
<circle cx="513.64" cy="514.22" r="2.00"/>
<circle cx="513.64" cy="515.43" r="2.00"/>
<circle cx="513.64" cy="517.73" r="2.00"/>
<circle cx="513.64" cy="519.24" r="2.00"/>
<circle cx="513.64" cy="520.85" r="2.00"/>
<circle cx="513.64" cy="523.67" r="2.00"/>
<circle cx="513.64" cy="526.02" r="2.00"/>
<circle cx="513.64" cy="527.83" r="2.00"/>
<circle cx="513.64" cy="529.71" r="2.00"/>
<circle cx="513.64" cy="531.64" r="2.00"/>
<circle cx="513.64" cy="532.53" r="2.00"/>
<circle cx="513.64" cy="533.68" r="2.00"/>
<circle cx="513.64" cy="536.38" r="2.00"/>
<circle cx="531.25" cy="503.77" r="2.00"/>
<circle cx="531.25" cy="505.84" r="2.00"/>
<circle cx="526.00" cy="509.34" r="2.00"/>
<circle cx="531.57" cy="512.53" r="2.00"/>
<circle cx="533.96" cy="513.64" r="2.00"/>
<circle cx="535.55" cy="514.92" r="2.00"/>
<circle cx="527.91" cy="517.31" r="2.00"/>
<circle cx="529.98" cy="518.90" r="2.00"/>
<circle cx="532.05" cy="521.29" r="2.00"/>
<circle cx="532.37" cy="517.31" r="2.00"/>
<circle cx="526.80" cy="520.49" r="2.00"/>
<circle cx="529.18" cy="527.66" r="2.00"/>
<circle cx="531.57" cy="529.57" r="2.00"/>
<circle cx="533.17" cy="530.04" r="2.00"/>
<circle cx="534.76" cy="528.45" r="2.00"/>
<circle cx="535.55" cy="527.34" r="2.00"/>
<circle cx="526.00" cy="528.45" r="2.00"/>
<circle cx="527.59" cy="522.88" r="2.00"/>
<circle cx="540.01" cy="497.08" r="2.00"/>
<circle cx="540.65" cy="499.79" r="2.00"/>
<circle cx="538.74" cy="510.94" r="2.00"/>
<circle cx="540.33" cy="512.53" r="2.00"/>
<circle cx="541.13" cy="514.60" r="2.00"/>
<circle cx="543.52" cy="514.12" r="2.00"/>
<circle cx="545.11" cy="507.43" r="2.00"/>
<circle cx="547.97" cy="507.75" r="2.00"/>
<circle cx="547.97" cy="510.14" r="2.00"/>
<circle cx="540.33" cy="523.68" r="2.00"/>
<circle cx="540.65" cy="525.75" r="2.00"/>
<circle cx="544.31" cy="522.88" r="2.00"/>
<circle cx="545.11" cy="524.79" r="2.00"/>
<circle cx="548.29" cy="491.35" r="2.00"/>
<circle cx="553.39" cy="499.79" r="2.00"/>
<circle cx="548.29" cy="521.29" r="2.00"/>
<circle cx="548.29" cy="523.68" r="2.00"/>
<circle cx="547.97" cy="526.06" r="2.00"/>
<circle cx="548.29" cy="528.45" r="2.00"/>
<circle cx="549.89" cy="530.04" r="2.00"/>
<circle cx="549.89" cy="532.11" r="2.00"/>
<circle cx="547.50" cy="530.52" r="2.00"/>
<circle cx="556.73" cy="507.27" r="2.00"/>
<circle cx="561.83" cy="506.96" r="2.00"/>
<circle cx="558.64" cy="515.24" r="2.00"/>
<circle cx="565.01" cy="514.60" r="2.00"/>
<circle cx="559.12" cy="522.56" r="2.00"/>
<circle cx="555.46" cy="526.06" r="2.00"/>
<circle cx="556.25" cy="530.04" r="2.00"/>
<circle cx="563.42" cy="524.47" r="2.00"/>
<circle cx="565.01" cy="522.88" r="2.00"/>
<circle cx="562.94" cy="528.93" r="2.00"/>
<circle cx="568.52" cy="519.69" r="2.00"/>
<circle cx="568.52" cy="510.14" r="2.00"/>
<circle cx="567.72" cy="528.45" r="2.00"/>
<circle cx="568.52" cy="530.84" r="2.00"/>
<circle cx="568.52" cy="532.11" r="2.00"/>
<circle cx="562.62" cy="483.39" r="2.00"/>
<circle cx="562.62" cy="490.71" r="2.00"/>
<circle cx="574.57" cy="507.75" r="2.00"/>
<circle cx="578.87" cy="516.51" r="2.00"/>
<circle cx="582.05" cy="501.38" r="2.00"/>
<circle cx="588.90" cy="519.22" r="2.00"/>
<circle cx="591.29" cy="526.86" r="2.00"/>
<circle cx="586.99" cy="529.25" r="2.00"/>
<circle cx="586.99" cy="531.64" r="2.00"/>
<circle cx="595.75" cy="493.74" r="2.00"/>
<circle cx="598.93" cy="532.11" r="2.00"/>
<circle cx="607.53" cy="502.66" r="2.00"/>
<circle cx="616.13" cy="525.59" r="2.00"/>
<circle cx="598.93" cy="504.66" r="2.00"/>
<circle cx="598.93" cy="507.29" r="2.00"/>
<circle cx="598.93" cy="510.52" r="2.00"/>
<circle cx="598.93" cy="511.62" r="2.00"/>
<circle cx="598.93" cy="514.09" r="2.00"/>
<circle cx="598.93" cy="515.93" r="2.00"/>
<circle cx="598.93" cy="516.59" r="2.00"/>
<circle cx="598.93" cy="518.98" r="2.00"/>
<circle cx="598.93" cy="520.76" r="2.00"/>
<circle cx="598.93" cy="523.17" r="2.00"/>
</g>
<path d="M446.25 540.30v-2.0M467.50 540.30v-2.0M488.75 540.30v-2.0M510.00 540.30v-2.0M531.25 540.30v-2.0M552.50 540.30v-2.0M573.75 540.30v-2.0M595.00 540.30v-2.0M616.25 540.30v-2.0M438.60 519.85h2.1M438.60 496.35h2.1M438.60 472.85h2.1" stroke="#444" stroke-width="0.7" fill="none"/>
<rect x="438.60" y="458.40" width="186.00" height="81.90" fill="none" stroke="#444" stroke-width="0.7"/>
<g font-family="Liberation Serif, serif" font-size="6.70" fill="#000" stroke="#000" stroke-width="0.1">
<text x="446.25" y="547.04" transform="rotate(0.05 446.25 547.04)" text-anchor="middle">0.00</text>
<text x="467.50" y="547.04" transform="rotate(0.05 467.50 547.04)" text-anchor="middle">0.25</text>
<text x="488.75" y="547.04" transform="rotate(0.05 488.75 547.04)" text-anchor="middle">0.50</text>
<text x="510.00" y="547.04" transform="rotate(0.05 510.00 547.04)" text-anchor="middle">0.75</text>
<text x="531.25" y="547.04" transform="rotate(0.05 531.25 547.04)" text-anchor="middle">1.00</text>
<text x="552.50" y="547.04" transform="rotate(0.05 552.50 547.04)" text-anchor="middle">1.25</text>
<text x="573.75" y="547.04" transform="rotate(0.05 573.75 547.04)" text-anchor="middle">1.50</text>
<text x="595.00" y="547.04" transform="rotate(0.05 595.00 547.04)" text-anchor="middle">1.75</text>
<text x="616.25" y="547.04" transform="rotate(0.05 616.25 547.04)" text-anchor="middle">2.00</text>
<text x="435.80" y="522.39" transform="rotate(0.05 435.80 522.39)" text-anchor="end">10</text>
<text x="435.80" y="498.89" transform="rotate(0.05 435.80 498.89)" text-anchor="end">20</text>
<text x="435.80" y="475.39" transform="rotate(0.05 435.80 475.39)" text-anchor="end">30</text>
</g>
<g font-family="Liberation Serif, serif" font-size="6.60" fill="#000" stroke="#000" stroke-width="0.1">
<text x="531.60" y="555.26" transform="rotate(0.05 531.60 555.26)" text-anchor="middle">SS</text>
<text transform="translate(423.80 499.35) rotate(-89.95)" text-anchor="middle" y="2.31">FS</text>
</g>
<g fill="#ff0000">
<circle cx="26.76" cy="630.04" r="2.00"/>
<circle cx="26.76" cy="631.60" r="2.00"/>
<circle cx="26.76" cy="631.73" r="2.00"/>
<circle cx="26.76" cy="633.25" r="2.00"/>
<circle cx="26.76" cy="641.53" r="2.00"/>
<circle cx="47.94" cy="611.43" r="2.00"/>
<circle cx="47.94" cy="614.14" r="2.00"/>
<circle cx="47.94" cy="616.05" r="2.00"/>
<circle cx="58.61" cy="601.08" r="2.00"/>
<circle cx="69.11" cy="596.31" r="2.00"/>
<circle cx="69.11" cy="638.34" r="2.00"/>
<circle cx="69.11" cy="607.25" r="2.00"/>
<circle cx="69.11" cy="608.69" r="2.00"/>
<circle cx="69.11" cy="608.90" r="2.00"/>
<circle cx="69.11" cy="610.87" r="2.00"/>
<circle cx="69.11" cy="612.53" r="2.00"/>
<circle cx="69.11" cy="613.72" r="2.00"/>
<circle cx="69.11" cy="615.36" r="2.00"/>
<circle cx="69.11" cy="616.65" r="2.00"/>
<circle cx="69.11" cy="617.02" r="2.00"/>
<circle cx="69.11" cy="618.45" r="2.00"/>
<circle cx="69.11" cy="620.24" r="2.00"/>
<circle cx="69.11" cy="620.76" r="2.00"/>
<circle cx="69.11" cy="622.34" r="2.00"/>
<circle cx="69.11" cy="624.48" r="2.00"/>
<circle cx="69.11" cy="625.27" r="2.00"/>
<circle cx="69.11" cy="626.81" r="2.00"/>
<circle cx="69.11" cy="628.51" r="2.00"/>
<circle cx="69.11" cy="629.78" r="2.00"/>
<circle cx="69.11" cy="630.85" r="2.00"/>
<circle cx="69.11" cy="631.89" r="2.00"/>
<circle cx="77.39" cy="635.16" r="2.00"/>
<circle cx="81.69" cy="633.25" r="2.00"/>
<circle cx="81.69" cy="636.43" r="2.00"/>
<circle cx="86.15" cy="633.25" r="2.00"/>
<circle cx="86.15" cy="604.27" r="2.00"/>
<circle cx="86.15" cy="606.18" r="2.00"/>
<circle cx="86.15" cy="607.77" r="2.00"/>
<circle cx="90.45" cy="591.85" r="2.00"/>
<circle cx="90.45" cy="597.74" r="2.00"/>
<circle cx="90.45" cy="628.15" r="2.00"/>
<circle cx="90.45" cy="632.45" r="2.00"/>
<circle cx="90.45" cy="637.23" r="2.00"/>
<circle cx="90.45" cy="639.14" r="2.00"/>
<circle cx="94.75" cy="583.09" r="2.00"/>
<circle cx="94.75" cy="592.32" r="2.00"/>
<circle cx="94.75" cy="596.62" r="2.00"/>
<circle cx="98.89" cy="598.22" r="2.00"/>
<circle cx="98.89" cy="601.72" r="2.00"/>
<circle cx="100.80" cy="626.08" r="2.00"/>
<circle cx="103.19" cy="627.68" r="2.00"/>
<circle cx="100.80" cy="631.18" r="2.00"/>
<circle cx="107.49" cy="626.56" r="2.00"/>
<circle cx="111.63" cy="601.72" r="2.00"/>
<circle cx="90.45" cy="613.09" r="2.00"/>
<circle cx="90.45" cy="615.73" r="2.00"/>
<circle cx="90.45" cy="616.68" r="2.00"/>
<circle cx="90.45" cy="618.11" r="2.00"/>
<circle cx="90.45" cy="620.46" r="2.00"/>
<circle cx="111.63" cy="566.58" r="2.00"/>
<circle cx="111.63" cy="568.20" r="2.00"/>
<circle cx="111.63" cy="569.24" r="2.00"/>
<circle cx="111.63" cy="570.47" r="2.00"/>
<circle cx="111.63" cy="571.59" r="2.00"/>
<circle cx="111.63" cy="573.35" r="2.00"/>
<circle cx="111.63" cy="574.30" r="2.00"/>
<circle cx="111.63" cy="575.68" r="2.00"/>
<circle cx="111.63" cy="576.45" r="2.00"/>
<circle cx="111.63" cy="578.10" r="2.00"/>
<circle cx="111.63" cy="579.48" r="2.00"/>
<circle cx="111.63" cy="579.94" r="2.00"/>
<circle cx="111.63" cy="581.46" r="2.00"/>
<circle cx="111.63" cy="582.45" r="2.00"/>
<circle cx="111.63" cy="584.06" r="2.00"/>
<circle cx="111.63" cy="584.79" r="2.00"/>
<circle cx="111.63" cy="587.04" r="2.00"/>
<circle cx="111.63" cy="588.00" r="2.00"/>
<circle cx="111.63" cy="588.70" r="2.00"/>
<circle cx="111.63" cy="590.10" r="2.00"/>
<circle cx="111.63" cy="592.00" r="2.00"/>
<circle cx="111.63" cy="593.36" r="2.00"/>
<circle cx="111.63" cy="594.42" r="2.00"/>
<circle cx="111.63" cy="594.77" r="2.00"/>
<circle cx="111.63" cy="609.53" r="2.00"/>
<circle cx="111.63" cy="610.42" r="2.00"/>
<circle cx="111.63" cy="610.93" r="2.00"/>
<circle cx="111.63" cy="612.42" r="2.00"/>
<circle cx="111.63" cy="614.19" r="2.00"/>
<circle cx="111.63" cy="614.74" r="2.00"/>
<circle cx="111.63" cy="616.50" r="2.00"/>
<circle cx="111.63" cy="617.54" r="2.00"/>
<circle cx="111.63" cy="618.68" r="2.00"/>
<circle cx="111.63" cy="619.19" r="2.00"/>
<circle cx="111.63" cy="620.91" r="2.00"/>
<circle cx="111.63" cy="621.87" r="2.00"/>
<circle cx="111.63" cy="622.68" r="2.00"/>
<circle cx="111.63" cy="623.80" r="2.00"/>
<circle cx="111.63" cy="625.05" r="2.00"/>
<circle cx="111.63" cy="626.85" r="2.00"/>
<circle cx="111.63" cy="628.28" r="2.00"/>
<circle cx="111.63" cy="629.02" r="2.00"/>
<circle cx="111.63" cy="630.50" r="2.00"/>
<circle cx="111.63" cy="630.93" r="2.00"/>
<circle cx="111.63" cy="632.08" r="2.00"/>
<circle cx="111.63" cy="633.64" r="2.00"/>
<circle cx="111.63" cy="634.59" r="2.00"/>
<circle cx="111.63" cy="635.57" r="2.00"/>
<circle cx="111.63" cy="636.68" r="2.00"/>
<circle cx="111.63" cy="638.26" r="2.00"/>
<circle cx="133.00" cy="604.75" r="2.00"/>
<circle cx="133.00" cy="615.00" r="2.00"/>
<circle cx="133.00" cy="618.00" r="2.00"/>
<circle cx="133.00" cy="630.00" r="2.00"/>
<circle cx="133.00" cy="633.00" r="2.00"/>
<circle cx="154.25" cy="619.50" r="2.00"/>
<circle cx="196.25" cy="616.00" r="2.00"/>
</g>
<path d="M26.75 645.00v-2.0M48.00 645.00v-2.0M69.25 645.00v-2.0M90.50 645.00v-2.0M111.75 645.00v-2.0M133.00 645.00v-2.0M154.25 645.00v-2.0M175.50 645.00v-2.0M196.75 645.00v-2.0M18.60 624.55h2.1M18.60 601.05h2.1M18.60 577.55h2.1" stroke="#444" stroke-width="0.7" fill="none"/>
<rect x="18.60" y="562.60" width="186.00" height="82.40" fill="none" stroke="#444" stroke-width="0.7"/>
<g font-family="Liberation Serif, serif" font-size="6.70" fill="#000" stroke="#000" stroke-width="0.1">
<text x="26.75" y="651.75" transform="rotate(0.05 26.75 651.75)" text-anchor="middle">0.0</text>
<text x="48.00" y="651.75" transform="rotate(0.05 48.00 651.75)" text-anchor="middle">0.5</text>
<text x="69.25" y="651.75" transform="rotate(0.05 69.25 651.75)" text-anchor="middle">1.0</text>
<text x="90.50" y="651.75" transform="rotate(0.05 90.50 651.75)" text-anchor="middle">1.5</text>
<text x="111.75" y="651.75" transform="rotate(0.05 111.75 651.75)" text-anchor="middle">2.0</text>
<text x="133.00" y="651.75" transform="rotate(0.05 133.00 651.75)" text-anchor="middle">2.5</text>
<text x="154.25" y="651.75" transform="rotate(0.05 154.25 651.75)" text-anchor="middle">3.0</text>
<text x="175.50" y="651.75" transform="rotate(0.05 175.50 651.75)" text-anchor="middle">3.5</text>
<text x="196.75" y="651.75" transform="rotate(0.05 196.75 651.75)" text-anchor="middle">4.0</text>
<text x="15.80" y="627.10" transform="rotate(0.05 15.80 627.10)" text-anchor="end">10</text>
<text x="15.80" y="603.60" transform="rotate(0.05 15.80 603.60)" text-anchor="end">20</text>
<text x="15.80" y="580.10" transform="rotate(0.05 15.80 580.10)" text-anchor="end">30</text>
</g>
<g font-family="Liberation Serif, serif" font-size="6.60" fill="#000" stroke="#000" stroke-width="0.1">
<text x="111.60" y="659.96" transform="rotate(0.05 111.60 659.96)" text-anchor="middle">FCO</text>
<text transform="translate(3.80 603.80) rotate(-89.95)" text-anchor="middle" y="2.31">FS</text>
</g>
<g fill="#ff0000">
<circle cx="247.90" cy="567.17" r="2.00"/>
<circle cx="241.85" cy="570.03" r="2.00"/>
<circle cx="246.79" cy="575.13" r="2.00"/>
<circle cx="253.16" cy="580.38" r="2.00"/>
<circle cx="256.98" cy="583.09" r="2.00"/>
<circle cx="249.50" cy="586.27" r="2.00"/>
<circle cx="260.32" cy="585.80" r="2.00"/>
<circle cx="262.24" cy="577.99" r="2.00"/>
<circle cx="269.72" cy="575.61" r="2.00"/>
<circle cx="242.33" cy="591.85" r="2.00"/>
<circle cx="242.33" cy="594.24" r="2.00"/>
<circle cx="242.33" cy="596.62" r="2.00"/>
<circle cx="242.33" cy="601.08" r="2.00"/>
<circle cx="247.90" cy="592.64" r="2.00"/>
<circle cx="249.50" cy="596.31" r="2.00"/>
<circle cx="254.27" cy="596.94" r="2.00"/>
<circle cx="257.14" cy="597.74" r="2.00"/>
<circle cx="258.25" cy="601.88" r="2.00"/>
<circle cx="259.05" cy="592.64" r="2.00"/>
<circle cx="261.76" cy="592.64" r="2.00"/>
<circle cx="276.57" cy="582.77" r="2.00"/>
<circle cx="278.96" cy="582.29" r="2.00"/>
<circle cx="286.44" cy="583.41" r="2.00"/>
<circle cx="273.86" cy="587.39" r="2.00"/>
<circle cx="270.99" cy="591.05" r="2.00"/>
<circle cx="278.64" cy="589.46" r="2.00"/>
<circle cx="278.64" cy="593.76" r="2.00"/>
<circle cx="279.75" cy="593.76" r="2.00"/>
<circle cx="268.61" cy="596.31" r="2.00"/>
<circle cx="272.59" cy="595.35" r="2.00"/>
<circle cx="272.59" cy="598.22" r="2.00"/>
<circle cx="269.72" cy="601.72" r="2.00"/>
<circle cx="264.62" cy="601.72" r="2.00"/>
<circle cx="278.64" cy="601.08" r="2.00"/>
<circle cx="287.71" cy="601.72" r="2.00"/>
<circle cx="283.73" cy="606.18" r="2.00"/>
<circle cx="279.75" cy="606.50" r="2.00"/>
<circle cx="272.27" cy="609.68" r="2.00"/>
<circle cx="278.64" cy="612.55" r="2.00"/>
<circle cx="279.75" cy="614.94" r="2.00"/>
<circle cx="281.34" cy="619.71" r="2.00"/>
<circle cx="274.97" cy="615.73" r="2.00"/>
<circle cx="274.97" cy="619.24" r="2.00"/>
<circle cx="274.97" cy="622.10" r="2.00"/>
<circle cx="274.97" cy="624.49" r="2.00"/>
<circle cx="275.77" cy="627.68" r="2.00"/>
<circle cx="278.64" cy="628.15" r="2.00"/>
<circle cx="278.96" cy="630.06" r="2.00"/>
<circle cx="281.34" cy="632.45" r="2.00"/>
<circle cx="276.09" cy="635.64" r="2.00"/>
<circle cx="291.38" cy="614.62" r="2.00"/>
<circle cx="287.71" cy="631.66" r="2.00"/>
<circle cx="287.71" cy="633.25" r="2.00"/>
<circle cx="287.71" cy="634.84" r="2.00"/>
<circle cx="295.99" cy="632.45" r="2.00"/>
<circle cx="300.45" cy="630.86" r="2.00"/>
<circle cx="308.89" cy="628.47" r="2.00"/>
<circle cx="317.49" cy="635.96" r="2.00"/>
<circle cx="327.04" cy="631.66" r="2.00"/>
<circle cx="310.48" cy="573.06" r="2.00"/>
<circle cx="314.31" cy="585.00" r="2.00"/>
<circle cx="267.01" cy="630.06" r="2.00"/>
<circle cx="262.24" cy="632.45" r="2.00"/>
<circle cx="246.11" cy="611.26" r="2.00"/>
<circle cx="239.45" cy="615.59" r="2.00"/>
<circle cx="243.17" cy="621.31" r="2.00"/>
<circle cx="238.92" cy="623.46" r="2.00"/>
<circle cx="240.89" cy="618.85" r="2.00"/>
<circle cx="248.60" cy="618.14" r="2.00"/>
<circle cx="250.59" cy="612.79" r="2.00"/>
<circle cx="242.96" cy="612.46" r="2.00"/>
<circle cx="251.22" cy="621.84" r="2.00"/>
<circle cx="245.36" cy="615.35" r="2.00"/>
<circle cx="251.36" cy="608.80" r="2.00"/>
<circle cx="241.97" cy="633.81" r="2.00"/>
<circle cx="242.52" cy="638.88" r="2.00"/>
<circle cx="246.43" cy="632.93" r="2.00"/>
<circle cx="241.28" cy="630.28" r="2.00"/>
<circle cx="238.84" cy="627.29" r="2.00"/>
<circle cx="246.41" cy="629.12" r="2.00"/>
<circle cx="243.71" cy="635.64" r="2.00"/>
<circle cx="250.01" cy="631.95" r="2.00"/>
<circle cx="248.22" cy="635.49" r="2.00"/>
<circle cx="247.47" cy="625.36" r="2.00"/>
<circle cx="239.24" cy="624.83" r="2.00"/>
<circle cx="243.13" cy="624.26" r="2.00"/>
<circle cx="235.45" cy="625.00" r="2.00"/>
<circle cx="241.74" cy="627.49" r="2.00"/>
<circle cx="237.10" cy="630.52" r="2.00"/>
<circle cx="236.21" cy="627.38" r="2.00"/>
<circle cx="250.97" cy="627.75" r="2.00"/>
<circle cx="239.37" cy="635.78" r="2.00"/>
<circle cx="245.45" cy="640.77" r="2.00"/>
<circle cx="245.55" cy="637.61" r="2.00"/>
<circle cx="250.73" cy="635.34" r="2.00"/>
<circle cx="238.21" cy="633.42" r="2.00"/>
<circle cx="250.00" cy="625.24" r="2.00"/>
<circle cx="248.61" cy="638.28" r="2.00"/>
<circle cx="243.38" cy="631.74" r="2.00"/>
<circle cx="244.32" cy="629.72" r="2.00"/>
<circle cx="245.52" cy="624.40" r="2.00"/>
<circle cx="235.39" cy="633.02" r="2.00"/>
<circle cx="244.62" cy="626.67" r="2.00"/>
<circle cx="248.08" cy="630.79" r="2.00"/>
<circle cx="266.97" cy="603.59" r="2.00"/>
<circle cx="254.76" cy="620.50" r="2.00"/>
<circle cx="260.82" cy="625.03" r="2.00"/>
<circle cx="265.88" cy="609.36" r="2.00"/>
<circle cx="263.96" cy="606.52" r="2.00"/>
<circle cx="263.07" cy="615.34" r="2.00"/>
<circle cx="254.83" cy="625.93" r="2.00"/>
<circle cx="258.98" cy="620.63" r="2.00"/>
<circle cx="261.05" cy="610.87" r="2.00"/>
<circle cx="267.00" cy="616.11" r="2.00"/>
<circle cx="265.50" cy="618.55" r="2.00"/>
<circle cx="258.97" cy="616.29" r="2.00"/>
<circle cx="264.05" cy="626.29" r="2.00"/>
<circle cx="255.24" cy="634.67" r="2.00"/>
<circle cx="255.33" cy="615.75" r="2.00"/>
<circle cx="261.28" cy="631.66" r="2.00"/>
<circle cx="255.78" cy="612.89" r="2.00"/>
<circle cx="257.55" cy="623.11" r="2.00"/>
<circle cx="257.81" cy="636.91" r="2.00"/>
<circle cx="253.55" cy="637.72" r="2.00"/>
<circle cx="265.88" cy="622.21" r="2.00"/>
<circle cx="254.93" cy="631.30" r="2.00"/>
<circle cx="266.01" cy="612.81" r="2.00"/>
<circle cx="261.32" cy="617.97" r="2.00"/>
<circle cx="264.24" cy="631.20" r="2.00"/>
<circle cx="259.49" cy="627.87" r="2.00"/>
<circle cx="266.80" cy="625.69" r="2.00"/>
<circle cx="268.56" cy="619.71" r="2.00"/>
<circle cx="258.24" cy="632.58" r="2.00"/>
<circle cx="261.00" cy="607.98" r="2.00"/>
<circle cx="258.25" cy="611.50" r="2.00"/>
<circle cx="262.11" cy="622.06" r="2.00"/>
<circle cx="260.36" cy="635.38" r="2.00"/>
<circle cx="262.19" cy="628.91" r="2.00"/>
<circle cx="255.14" cy="628.46" r="2.00"/>
<circle cx="261.18" cy="613.56" r="2.00"/>
<circle cx="342.25" cy="566.00" r="2.00"/>
<circle cx="376.50" cy="573.00" r="2.00"/>
<circle cx="406.00" cy="577.50" r="2.00"/>
<circle cx="329.50" cy="596.00" r="2.00"/>
<circle cx="332.75" cy="634.00" r="2.00"/>
<circle cx="342.25" cy="630.50" r="2.00"/>
</g>
<path d="M236.50 645.00v-2.0M262.00 645.00v-2.0M287.50 645.00v-2.0M313.00 645.00v-2.0M338.50 645.00v-2.0M364.00 645.00v-2.0M389.50 645.00v-2.0M228.60 624.55h2.1M228.60 601.05h2.1M228.60 577.55h2.1" stroke="#444" stroke-width="0.7" fill="none"/>
<rect x="228.60" y="562.60" width="186.00" height="82.40" fill="none" stroke="#444" stroke-width="0.7"/>
<g font-family="Liberation Serif, serif" font-size="6.70" fill="#000" stroke="#000" stroke-width="0.1">
<text x="236.50" y="651.75" transform="rotate(0.05 236.50 651.75)" text-anchor="middle">0</text>
<text x="262.00" y="651.75" transform="rotate(0.05 262.00 651.75)" text-anchor="middle">2</text>
<text x="287.50" y="651.75" transform="rotate(0.05 287.50 651.75)" text-anchor="middle">4</text>
<text x="313.00" y="651.75" transform="rotate(0.05 313.00 651.75)" text-anchor="middle">6</text>
<text x="338.50" y="651.75" transform="rotate(0.05 338.50 651.75)" text-anchor="middle">8</text>
<text x="364.00" y="651.75" transform="rotate(0.05 364.00 651.75)" text-anchor="middle">10</text>
<text x="389.50" y="651.75" transform="rotate(0.05 389.50 651.75)" text-anchor="middle">12</text>
<text x="225.80" y="627.10" transform="rotate(0.05 225.80 627.10)" text-anchor="end">10</text>
<text x="225.80" y="603.60" transform="rotate(0.05 225.80 603.60)" text-anchor="end">20</text>
<text x="225.80" y="580.10" transform="rotate(0.05 225.80 580.10)" text-anchor="end">30</text>
</g>
<g font-family="Liberation Serif, serif" font-size="6.60" fill="#000" stroke="#000" stroke-width="0.1">
<text x="321.60" y="659.96" transform="rotate(0.05 321.60 659.96)" text-anchor="middle">WR</text>
<text transform="translate(213.80 603.80) rotate(-89.95)" text-anchor="middle" y="2.31">FS</text>
</g>
<g fill="#ff0000">
<circle cx="446.38" cy="630.12" r="2.00"/>
<circle cx="446.38" cy="631.67" r="2.00"/>
<circle cx="446.38" cy="632.47" r="2.00"/>
<circle cx="446.38" cy="633.55" r="2.00"/>
<circle cx="483.81" cy="631.38" r="2.00"/>
<circle cx="483.81" cy="632.72" r="2.00"/>
<circle cx="483.81" cy="634.85" r="2.00"/>
<circle cx="488.90" cy="612.40" r="2.00"/>
<circle cx="488.90" cy="618.38" r="2.00"/>
<circle cx="502.97" cy="595.93" r="2.00"/>
<circle cx="502.97" cy="598.32" r="2.00"/>
<circle cx="504.47" cy="604.31" r="2.00"/>
<circle cx="502.97" cy="609.88" r="2.00"/>
<circle cx="502.97" cy="611.88" r="2.00"/>
<circle cx="502.97" cy="612.67" r="2.00"/>
<circle cx="502.97" cy="614.87" r="2.00"/>
<circle cx="502.97" cy="616.92" r="2.00"/>
<circle cx="502.97" cy="618.90" r="2.00"/>
<circle cx="502.97" cy="620.39" r="2.00"/>
<circle cx="502.97" cy="621.99" r="2.00"/>
<circle cx="502.97" cy="623.96" r="2.00"/>
<circle cx="502.97" cy="626.17" r="2.00"/>
<circle cx="502.97" cy="627.75" r="2.00"/>
<circle cx="502.97" cy="629.48" r="2.00"/>
<circle cx="502.97" cy="630.34" r="2.00"/>
<circle cx="502.97" cy="632.59" r="2.00"/>
<circle cx="502.97" cy="633.99" r="2.00"/>
<circle cx="502.97" cy="635.62" r="2.00"/>
<circle cx="502.97" cy="638.02" r="2.00"/>
<circle cx="502.97" cy="639.89" r="2.00"/>
<circle cx="505.96" cy="612.74" r="2.00"/>
<circle cx="505.96" cy="615.03" r="2.00"/>
<circle cx="505.96" cy="617.09" r="2.00"/>
<circle cx="505.96" cy="618.98" r="2.00"/>
<circle cx="505.96" cy="619.57" r="2.00"/>
<circle cx="505.96" cy="620.97" r="2.00"/>
<circle cx="505.96" cy="624.53" r="2.00"/>
<circle cx="505.96" cy="624.98" r="2.00"/>
<circle cx="505.96" cy="628.40" r="2.00"/>
<circle cx="505.96" cy="629.84" r="2.00"/>
<circle cx="519.44" cy="598.94" r="2.00"/>
<circle cx="519.44" cy="601.57" r="2.00"/>
<circle cx="519.44" cy="604.21" r="2.00"/>
<circle cx="519.44" cy="604.33" r="2.00"/>
<circle cx="519.44" cy="607.20" r="2.00"/>
<circle cx="519.44" cy="608.36" r="2.00"/>
<circle cx="519.44" cy="611.30" r="2.00"/>
<circle cx="519.44" cy="612.52" r="2.00"/>
<circle cx="519.44" cy="614.36" r="2.00"/>
<circle cx="526.92" cy="618.98" r="2.00"/>
<circle cx="526.92" cy="620.48" r="2.00"/>
<circle cx="533.21" cy="615.39" r="2.00"/>
<circle cx="533.21" cy="631.86" r="2.00"/>
<circle cx="533.21" cy="634.25" r="2.00"/>
<circle cx="533.21" cy="636.35" r="2.00"/>
<circle cx="540.99" cy="601.32" r="2.00"/>
<circle cx="540.99" cy="612.69" r="2.00"/>
<circle cx="540.99" cy="619.28" r="2.00"/>
<circle cx="540.99" cy="567.69" r="2.00"/>
<circle cx="540.99" cy="569.20" r="2.00"/>
<circle cx="540.99" cy="570.40" r="2.00"/>
<circle cx="540.99" cy="573.61" r="2.00"/>
<circle cx="540.99" cy="575.07" r="2.00"/>
<circle cx="540.99" cy="576.94" r="2.00"/>
<circle cx="540.99" cy="579.12" r="2.00"/>
<circle cx="540.99" cy="579.85" r="2.00"/>
<circle cx="540.99" cy="582.28" r="2.00"/>
<circle cx="540.99" cy="584.24" r="2.00"/>
<circle cx="540.99" cy="586.49" r="2.00"/>
<circle cx="540.99" cy="588.58" r="2.00"/>
<circle cx="540.99" cy="590.86" r="2.00"/>
<circle cx="540.99" cy="591.83" r="2.00"/>
<circle cx="540.99" cy="594.42" r="2.00"/>
<circle cx="540.99" cy="597.42" r="2.00"/>
<circle cx="559.56" cy="615.99" r="2.00"/>
<circle cx="559.56" cy="619.28" r="2.00"/>
<circle cx="559.56" cy="629.76" r="2.00"/>
<circle cx="559.56" cy="635.45" r="2.00"/>
<circle cx="570.93" cy="623.77" r="2.00"/>
<circle cx="570.93" cy="626.77" r="2.00"/>
<circle cx="570.93" cy="628.86" r="2.00"/>
<circle cx="570.93" cy="631.26" r="2.00"/>
<circle cx="588.00" cy="591.44" r="2.00"/>
<circle cx="588.00" cy="593.53" r="2.00"/>
<circle cx="588.00" cy="595.93" r="2.00"/>
<circle cx="588.00" cy="600.72" r="2.00"/>
<circle cx="597.28" cy="618.08" r="2.00"/>
<circle cx="597.28" cy="625.87" r="2.00"/>
<circle cx="597.28" cy="628.26" r="2.00"/>
<circle cx="597.28" cy="631.86" r="2.00"/>
<circle cx="616.14" cy="583.05" r="2.00"/>
</g>
<path d="M446.50 645.00v-2.0M484.24 645.00v-2.0M521.98 645.00v-2.0M559.72 645.00v-2.0M597.46 645.00v-2.0M438.60 624.55h2.1M438.60 601.05h2.1M438.60 577.55h2.1" stroke="#444" stroke-width="0.7" fill="none"/>
<rect x="438.60" y="562.60" width="186.00" height="82.40" fill="none" stroke="#444" stroke-width="0.7"/>
<g font-family="Liberation Serif, serif" font-size="6.70" fill="#000" stroke="#000" stroke-width="0.1">
<text x="446.50" y="651.75" transform="rotate(0.05 446.50 651.75)" text-anchor="middle">0</text>
<text x="484.24" y="651.75" transform="rotate(0.05 484.24 651.75)" text-anchor="middle">200</text>
<text x="521.98" y="651.75" transform="rotate(0.05 521.98 651.75)" text-anchor="middle">400</text>
<text x="559.72" y="651.75" transform="rotate(0.05 559.72 651.75)" text-anchor="middle">600</text>
<text x="597.46" y="651.75" transform="rotate(0.05 597.46 651.75)" text-anchor="middle">800</text>
<text x="435.80" y="627.10" transform="rotate(0.05 435.80 627.10)" text-anchor="end">10</text>
<text x="435.80" y="603.60" transform="rotate(0.05 435.80 603.60)" text-anchor="end">20</text>
<text x="435.80" y="580.10" transform="rotate(0.05 435.80 580.10)" text-anchor="end">30</text>
</g>
<g font-family="Liberation Serif, serif" font-size="6.60" fill="#000" stroke="#000" stroke-width="0.1">
<text x="531.60" y="659.96" transform="rotate(0.05 531.60 659.96)" text-anchor="middle">FAR</text>
<text transform="translate(423.80 603.80) rotate(-89.95)" text-anchor="middle" y="2.31">FS</text>
</g>
<text x="324.3" y="328.2" transform="rotate(0.05 324.3 328.2)" text-anchor="middle" font-family="Liberation Serif, serif" font-size="15" fill="#000">(a)</text>
<text x="322.3" y="680.7" transform="rotate(0.05 322.3 680.7)" text-anchor="middle" font-family="Liberation Serif, serif" font-size="15" fill="#000">(b)</text>
</svg>
</body></html>
